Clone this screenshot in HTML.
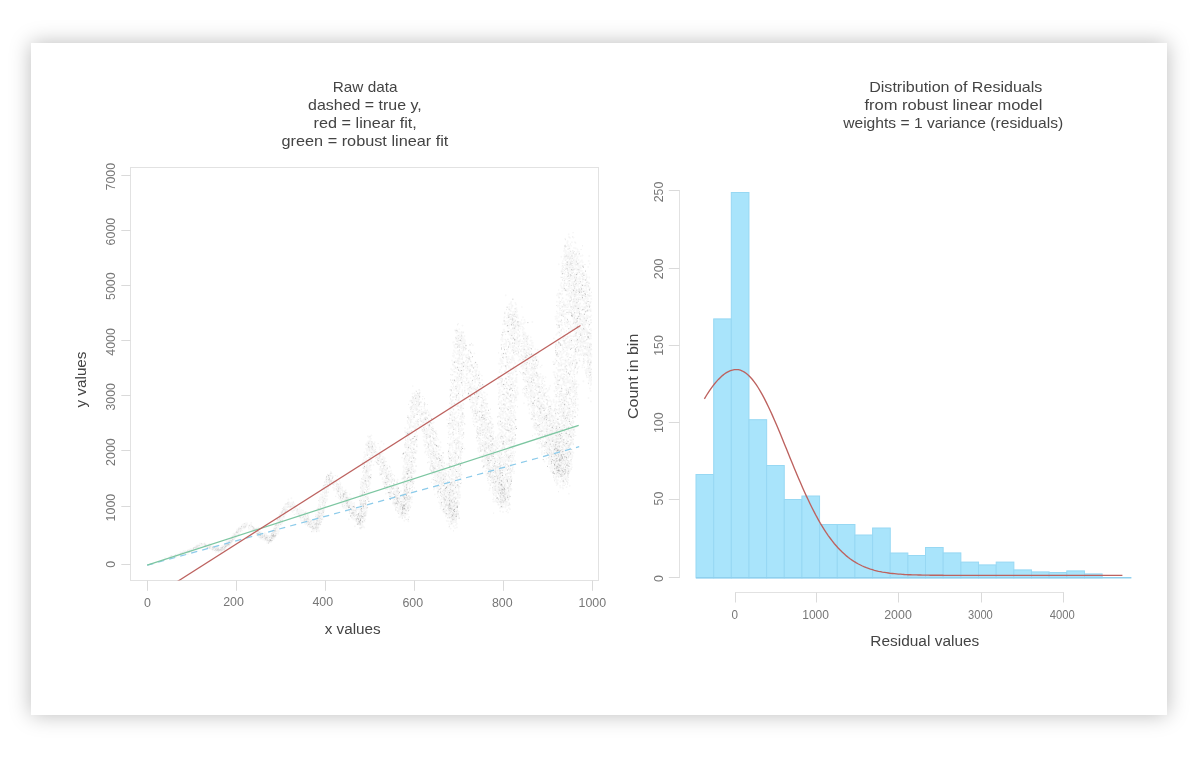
<!DOCTYPE html>
<html lang="en"><head><meta charset="utf-8"><title>Robust linear fit</title>
<style>
html,body{margin:0;padding:0;background:#fff;}
body{width:1200px;height:758px;position:relative;overflow:hidden;font-family:"Liberation Sans",sans-serif;}
.card{position:absolute;left:31px;top:43px;width:1136px;height:672px;background:#fff;box-shadow:0 0 20px rgba(0,0,0,0.27);}
</style></head><body>
<div class="card"></div>
<svg width="1200" height="758" viewBox="0 0 1200 758" style="position:absolute;left:0;top:0" font-family="'Liberation Sans', sans-serif">
<rect x="130.5" y="167.5" width="468.0" height="413" fill="none" stroke="#e2e2e2" stroke-width="1"/>
<line x1="121.3" x2="130.5" y1="175.5" y2="175.5" stroke="#dadada"/>
<text transform="translate(115.4 176.7) rotate(-90)" text-anchor="middle" font-size="12.4" fill="#777">7000</text>
<line x1="121.3" x2="130.5" y1="230.5" y2="230.5" stroke="#dadada"/>
<text transform="translate(115.4 231.6) rotate(-90)" text-anchor="middle" font-size="12.4" fill="#777">6000</text>
<line x1="121.3" x2="130.5" y1="285.5" y2="285.5" stroke="#dadada"/>
<text transform="translate(115.4 286.2) rotate(-90)" text-anchor="middle" font-size="12.4" fill="#777">5000</text>
<line x1="121.3" x2="130.5" y1="340.5" y2="340.5" stroke="#dadada"/>
<text transform="translate(115.4 341.9) rotate(-90)" text-anchor="middle" font-size="12.4" fill="#777">4000</text>
<line x1="121.3" x2="130.5" y1="395.5" y2="395.5" stroke="#dadada"/>
<text transform="translate(115.4 396.8) rotate(-90)" text-anchor="middle" font-size="12.4" fill="#777">3000</text>
<line x1="121.3" x2="130.5" y1="450.5" y2="450.5" stroke="#dadada"/>
<text transform="translate(115.4 452.1) rotate(-90)" text-anchor="middle" font-size="12.4" fill="#777">2000</text>
<line x1="121.3" x2="130.5" y1="506.5" y2="506.5" stroke="#dadada"/>
<text transform="translate(115.4 507.6) rotate(-90)" text-anchor="middle" font-size="12.4" fill="#777">1000</text>
<line x1="121.3" x2="130.5" y1="564.5" y2="564.5" stroke="#dadada"/>
<text transform="translate(115.4 564.2) rotate(-90)" text-anchor="middle" font-size="12.4" fill="#777">0</text>
<line x1="147.5" x2="147.5" y1="580.5" y2="590.8" stroke="#dadada"/>
<text x="147.4" y="607" text-anchor="middle" font-size="12.4" fill="#777">0</text>
<line x1="236.5" x2="236.5" y1="580.5" y2="590.8" stroke="#dadada"/>
<text x="233.5" y="605.6" text-anchor="middle" font-size="12.4" fill="#777">200</text>
<line x1="325.5" x2="325.5" y1="580.5" y2="590.8" stroke="#dadada"/>
<text x="322.8" y="605.6" text-anchor="middle" font-size="12.4" fill="#777">400</text>
<line x1="414.5" x2="414.5" y1="580.5" y2="590.8" stroke="#dadada"/>
<text x="412.8" y="606.8" text-anchor="middle" font-size="12.4" fill="#777">600</text>
<line x1="503.5" x2="503.5" y1="580.5" y2="590.8" stroke="#dadada"/>
<text x="502.3" y="606.8" text-anchor="middle" font-size="12.4" fill="#777">800</text>
<line x1="592.5" x2="592.5" y1="580.5" y2="590.8" stroke="#dadada"/>
<text x="592.3" y="606.8" text-anchor="middle" font-size="12.4" fill="#777">1000</text>
<path d="M401.2 512.4h0M508.5 314.6h0M405.7 487.1h0M565.9 345.9h0M524.9 334.1h0M528.3 386.4h0M419.7 412.1h0M558.3 430.7h0M458.5 457.4h0M566.1 256.0h0M491.3 476.9h0M513.6 411.8h0M578.1 306.6h0M578.5 290.8h0M546.2 434.8h0M408.3 417.3h0M301.8 513.8h0M417.3 395.4h0M501.8 337.6h0M576.0 255.4h0M424.4 436.7h0M367.7 450.1h0M250.7 530.0h0M576.8 290.0h0M526.9 350.2h0M590.5 350.5h0M400.4 506.8h0M498.1 490.0h0M220.1 549.5h0M512.9 312.0h0M553.6 437.8h0M549.2 411.1h0M503.3 413.2h0M454.7 511.9h0M554.7 439.7h0M426.7 434.7h0M365.1 479.9h0M434.0 456.9h0M559.9 321.3h0M574.5 269.3h0M498.1 482.0h0M363.4 483.6h0M562.5 409.8h0M559.7 426.5h0M456.3 385.9h0M189.3 549.8h0M463.0 332.8h0M564.5 461.1h0M411.9 416.1h0M503.0 415.5h0M589.2 289.5h0M585.0 293.4h0M361.3 507.9h0M462.8 408.1h0M408.9 499.3h0M443.7 502.7h0M365.8 508.6h0M553.2 361.7h0M260.1 537.3h0M457.0 379.6h0M264.7 539.2h0M430.1 456.3h0M504.6 423.2h0M323.5 496.7h0M282.8 512.5h0M562.7 422.0h0M456.0 348.2h0M459.4 388.5h0M506.1 502.9h0M463.1 370.5h0M587.4 299.0h0M324.8 495.3h0M568.3 408.8h0M315.2 526.4h0M556.8 447.4h0M569.5 257.7h0M324.5 498.8h0M563.9 452.5h0M568.1 474.5h0M511.4 462.9h0M407.3 497.4h0M452.5 516.2h0M291.3 504.8h0M556.6 457.9h0M537.7 401.5h0M574.4 296.5h0M585.4 321.3h0M363.6 488.6h0M428.5 436.7h0M418.9 405.0h0M502.5 427.6h0M483.1 437.8h0M441.1 474.4h0M485.1 434.9h0M566.1 375.2h0M565.4 289.9h0M475.9 422.0h0M549.3 397.4h0M364.4 479.9h0M576.3 320.5h0M430.9 443.3h0M306.7 520.3h0M510.6 434.9h0M461.3 347.0h0M413.2 462.1h0M575.4 303.0h0M568.2 457.2h0M537.1 383.7h0M486.7 443.4h0M500.1 451.0h0M367.7 496.2h0M580.0 347.6h0M508.1 385.3h0M428.2 447.2h0M563.7 462.1h0M407.6 473.8h0M489.1 460.8h0M438.2 477.6h0M452.3 508.8h0M309.6 519.8h0M361.8 489.3h0M571.1 386.9h0M450.3 443.5h0M372.8 447.1h0M574.9 402.3h0M505.0 465.5h0M539.0 408.7h0M513.4 382.9h0M533.1 382.2h0M368.0 466.4h0M524.2 349.9h0M571.7 267.8h0M261.1 536.3h0M508.1 512.5h0M538.3 416.1h0M576.0 390.5h0M563.4 467.3h0M281.0 517.0h0M546.0 434.5h0M426.4 420.3h0M368.1 492.0h0M454.1 499.2h0M182.0 552.7h0M472.5 402.1h0M451.2 437.0h0M362.4 516.9h0M470.0 370.9h0M456.2 439.0h0M385.1 483.6h0M508.0 321.3h0M551.4 446.8h0M585.1 343.3h0M568.6 392.5h0M551.2 409.9h0M228.9 541.9h0M265.6 537.4h0M579.4 355.0h0M582.3 367.4h0M319.2 518.6h0M580.7 316.7h0M568.9 345.9h0M452.9 396.9h0M405.3 460.5h0M547.2 441.0h0M539.4 443.4h0M531.1 418.8h0M532.9 345.4h0M585.3 294.6h0M277.4 524.8h0M500.6 455.8h0M400.7 515.9h0M497.9 435.3h0M390.4 488.8h0M512.7 373.4h0M360.7 498.3h0M225.0 550.1h0M296.1 513.7h0M511.1 329.7h0M446.5 498.5h0M569.3 344.4h0M504.2 497.5h0M446.4 501.3h0M555.3 452.8h0M385.5 474.9h0M453.8 356.8h0M514.7 349.2h0M564.7 445.0h0M418.1 406.3h0M548.4 449.6h0M245.1 527.4h0M448.0 491.9h0M313.9 527.1h0M354.2 502.9h0M429.9 441.2h0M454.3 519.4h0M581.5 274.8h0M555.3 404.7h0M500.6 501.3h0M565.1 449.1h0M590.3 380.7h0M457.9 345.3h0M304.9 523.8h0M454.2 396.9h0M517.1 311.6h0M403.3 499.1h0M498.4 470.5h0M359.0 508.9h0M581.7 284.8h0M567.2 394.6h0M360.1 503.0h0M503.4 496.9h0M564.9 403.6h0M432.0 454.0h0M576.5 364.3h0M506.6 443.3h0M558.2 446.4h0M455.7 492.7h0M520.9 351.0h0M458.6 487.0h0M407.2 449.7h0M282.5 512.7h0M503.2 482.7h0M553.9 402.3h0M274.9 528.9h0M499.9 507.9h0M349.6 509.9h0M542.2 403.1h0M559.6 475.4h0M564.5 255.0h0M448.4 493.6h0M407.2 441.1h0M452.8 507.1h0M452.3 508.4h0M424.9 452.5h0M564.8 435.3h0M468.1 354.3h0M516.0 396.5h0M372.3 448.2h0M565.1 268.4h0M574.7 410.1h0M556.6 454.0h0M348.0 507.1h0M451.8 507.4h0M417.7 426.0h0M494.6 469.9h0M416.5 438.1h0M506.6 494.9h0M468.9 358.4h0M575.5 331.9h0M461.0 478.8h0M508.6 491.2h0M547.1 450.2h0M453.1 435.3h0M500.3 432.6h0M504.0 346.6h0M405.0 431.3h0M506.0 487.1h0M583.7 307.2h0M568.2 256.9h0M409.6 417.9h0M292.5 508.0h0M558.9 365.7h0M493.3 468.1h0M458.7 338.3h0M291.4 498.3h0M272.0 533.2h0M586.0 290.7h0M514.3 432.6h0M301.8 514.1h0M500.4 490.8h0M486.6 413.7h0M425.8 412.8h0M507.5 315.6h0M573.1 306.6h0M457.4 353.9h0M391.8 477.8h0M583.2 317.7h0M238.5 533.0h0M555.2 362.4h0M362.0 505.7h0M438.7 496.0h0M501.7 454.1h0M540.4 407.0h0M455.2 456.2h0M462.4 346.3h0M489.5 462.2h0M537.6 394.2h0M450.8 498.0h0M548.6 435.9h0M318.2 521.9h0M507.3 502.8h0M513.0 429.0h0M563.7 477.6h0M577.5 263.1h0M560.4 471.9h0M553.8 463.0h0M407.5 500.3h0M318.4 526.5h0M362.6 513.6h0M500.3 437.3h0M373.5 448.0h0M508.8 495.1h0M449.1 457.8h0M583.5 342.3h0M457.2 337.7h0M506.6 455.6h0M311.4 521.4h0M483.3 402.3h0M362.6 525.0h0M457.9 494.8h0M541.5 410.6h0M505.8 492.2h0M363.9 519.5h0M500.5 459.0h0M448.5 498.2h0M581.3 342.4h0M558.3 460.3h0M506.6 488.4h0M338.8 486.2h0M193.5 547.9h0M483.0 387.3h0M536.9 443.2h0M359.4 511.4h0M589.7 364.3h0M563.8 398.4h0M392.9 487.7h0M396.0 500.8h0M506.7 439.6h0M223.8 547.6h0M502.3 441.7h0M538.5 383.1h0M423.8 428.6h0M313.2 522.4h0M460.6 347.0h0M458.7 516.0h0M481.1 429.5h0M208.0 546.1h0M577.2 281.6h0M426.3 429.4h0M332.2 482.8h0M254.6 528.9h0M560.9 459.1h0M511.0 318.3h0M586.2 370.6h0M586.3 317.0h0M454.6 467.7h0M430.2 433.3h0M405.5 485.6h0M268.3 539.1h0M401.8 512.7h0M488.7 457.3h0M443.6 492.4h0M561.1 466.8h0M387.5 489.6h0M530.4 358.0h0M481.5 430.5h0M369.4 437.5h0M579.6 304.4h0M560.2 453.0h0M570.9 279.5h0M418.1 396.5h0M344.2 498.7h0M432.9 448.6h0M218.7 550.5h0M403.8 510.2h0M577.9 299.8h0M504.7 500.6h0M425.2 403.9h0M555.9 387.2h0M358.0 509.4h0M499.8 474.0h0M577.0 320.4h0M373.4 448.9h0M318.7 527.2h0M533.1 375.8h0M498.5 438.4h0M361.8 517.2h0M503.5 500.7h0M490.7 447.5h0M480.0 447.8h0M481.3 431.3h0M452.8 496.4h0M503.9 491.1h0M487.0 437.7h0M322.7 519.4h0M402.5 482.6h0M576.3 333.4h0M450.0 483.4h0M565.5 468.3h0M572.0 266.0h0M300.8 514.4h0M524.7 395.7h0M239.0 530.7h0M551.6 425.6h0M536.8 437.6h0M591.1 369.5h0M564.8 324.3h0M339.4 481.0h0M408.8 447.9h0M461.2 344.1h0M432.0 445.4h0M416.1 396.6h0M506.4 398.2h0M383.4 483.7h0M456.7 510.6h0M535.0 375.2h0M498.9 484.0h0M561.0 430.4h0M485.5 436.4h0M403.6 477.6h0M170.0 558.3h0M476.0 397.4h0M570.8 389.6h0M480.3 440.5h0M415.5 395.0h0M568.2 306.3h0M502.8 478.0h0M193.0 549.3h0M569.5 331.4h0M513.6 329.5h0M574.1 294.6h0M461.8 364.0h0M576.8 330.7h0M367.9 499.0h0M461.2 444.3h0M556.5 341.6h0M460.8 353.0h0M565.1 477.0h0M504.7 343.6h0M528.7 371.4h0M491.8 418.6h0M576.1 280.4h0M578.4 349.3h0M381.6 465.7h0M511.8 447.5h0M586.0 306.8h0M460.8 336.7h0M369.7 458.2h0M388.1 473.4h0M505.4 399.5h0M590.6 372.9h0M534.2 375.0h0M566.8 415.8h0M503.6 329.8h0M456.0 485.4h0M569.3 463.9h0M208.9 546.4h0M462.2 383.9h0M563.2 384.4h0M284.4 516.0h0M556.0 446.5h0M504.4 395.9h0M508.6 440.9h0M396.7 494.9h0M559.8 455.0h0M588.9 304.9h0M453.7 405.8h0M503.0 462.1h0M463.0 374.3h0M486.1 470.6h0M416.7 450.9h0M513.1 321.8h0M364.3 510.3h0M572.9 420.6h0M510.7 464.7h0M451.9 375.0h0M472.5 398.7h0M564.7 482.5h0M591.1 372.7h0M582.5 281.4h0M317.7 519.0h0M304.0 514.7h0M403.6 496.5h0M484.7 429.1h0M319.8 522.6h0M587.9 347.4h0M226.6 540.9h0M523.0 317.3h0M452.2 481.8h0M379.0 458.3h0M506.8 495.2h0M536.1 400.1h0M460.3 459.5h0M502.5 486.7h0M496.9 484.2h0M550.1 433.2h0M366.1 514.1h0M504.3 412.1h0M552.0 425.7h0M286.0 509.6h0M472.5 418.4h0M557.0 444.5h0M454.4 484.9h0M558.8 477.3h0M279.5 522.8h0M484.2 426.6h0M539.4 439.0h0M450.9 502.3h0M515.7 329.4h0M529.1 363.9h0M379.7 454.2h0M411.9 502.4h0M498.6 425.5h0M564.7 317.8h0M337.4 491.5h0M305.7 524.2h0M403.8 509.1h0M463.0 417.0h0M563.9 310.9h0M438.9 445.8h0M435.8 475.9h0M440.5 503.9h0M327.1 478.6h0M491.1 475.7h0M582.0 306.5h0M371.0 441.8h0M499.9 442.4h0M450.8 486.2h0M282.1 519.1h0M574.3 429.0h0M577.7 309.3h0M473.0 345.2h0M542.5 427.9h0M487.0 441.9h0M584.0 325.0h0M497.1 477.6h0M444.6 490.9h0M431.5 429.5h0M323.3 486.3h0M501.0 506.7h0M570.0 297.9h0M502.4 442.8h0M333.9 490.0h0M409.1 434.7h0M217.3 549.9h0M347.1 498.1h0M411.5 457.0h0M401.3 509.6h0M528.4 374.1h0M387.2 489.3h0M570.2 267.7h0M489.1 471.3h0M404.5 507.8h0M483.9 418.3h0M565.0 351.3h0M562.4 467.1h0M464.4 354.4h0M409.2 493.3h0M565.8 369.0h0M264.1 534.9h0M523.3 373.3h0M456.4 502.4h0M460.0 367.6h0M502.4 385.5h0M263.3 537.0h0M408.5 506.3h0M412.0 431.2h0M431.4 462.4h0M301.2 520.4h0M581.5 333.8h0M321.5 517.4h0M528.3 335.8h0M538.1 364.1h0M381.4 460.2h0M574.7 287.4h0M539.1 421.2h0M585.7 303.6h0M506.8 388.4h0M567.2 262.5h0M506.8 381.8h0M230.3 539.8h0M298.1 511.7h0M510.6 428.2h0M171.6 557.5h0M428.5 428.0h0M440.1 455.8h0M569.4 471.0h0M583.7 325.9h0M564.5 427.1h0M534.4 371.2h0M301.7 515.5h0M586.3 292.0h0M555.5 436.4h0M232.8 537.8h0M502.9 411.8h0M449.6 504.8h0M276.2 529.6h0M520.4 328.6h0M578.1 291.6h0M558.1 475.6h0M553.8 459.5h0M502.7 443.7h0M528.6 360.3h0M568.2 456.1h0M497.8 482.4h0M380.6 452.6h0M444.7 491.2h0M568.7 234.3h0M456.8 498.2h0M169.5 557.0h0M271.4 540.3h0M366.8 473.3h0M565.0 310.0h0M452.3 433.7h0M504.5 487.1h0M278.7 523.0h0M407.6 452.8h0M565.7 400.9h0M573.7 388.7h0M529.4 361.6h0M538.0 427.3h0M552.9 444.1h0M554.5 383.5h0M555.1 422.9h0M570.0 288.2h0M583.8 338.5h0M547.3 415.7h0M280.4 518.4h0M494.5 488.4h0M448.4 476.4h0M588.8 336.1h0M442.8 476.9h0M531.9 342.9h0M483.2 385.8h0M324.2 485.7h0M573.3 266.2h0M404.0 509.2h0M503.8 494.6h0M363.0 505.7h0M576.8 310.7h0M368.3 449.4h0M573.2 444.2h0M459.0 502.7h0M274.8 534.4h0M312.9 523.1h0M586.7 315.3h0M422.0 424.4h0M246.0 523.2h0M446.3 502.3h0M425.0 419.6h0M440.5 508.4h0M364.8 508.4h0M505.1 313.6h0M459.0 464.7h0M566.2 455.0h0M510.1 445.9h0M531.6 368.3h0M432.5 444.9h0M367.2 491.7h0M477.4 366.4h0M399.4 499.1h0M246.1 526.5h0M423.9 430.8h0M500.8 481.4h0M586.1 322.1h0M552.9 465.9h0M528.8 372.6h0M572.6 432.2h0M550.6 428.9h0M364.1 475.0h0M570.1 304.9h0M354.6 507.1h0M435.9 482.7h0M409.5 482.2h0M363.0 504.7h0M531.6 340.6h0M562.6 473.7h0M457.1 484.7h0M499.5 491.5h0M572.1 457.9h0M366.5 511.5h0M412.0 401.9h0M447.5 514.0h0M433.2 447.3h0M479.4 415.3h0M550.1 460.7h0M461.1 406.7h0M501.1 499.6h0M458.2 471.7h0M559.1 464.9h0M577.3 273.9h0M269.9 541.0h0M589.0 325.6h0M552.2 470.7h0M534.7 417.1h0M270.7 538.7h0M509.0 438.5h0M564.0 413.4h0M444.8 510.9h0M404.4 513.1h0M485.3 460.2h0M561.8 457.8h0M405.2 510.7h0M559.3 454.2h0M564.7 381.9h0M568.4 421.1h0M554.4 374.4h0M574.3 282.1h0M321.5 513.4h0M258.9 537.1h0M488.6 424.0h0M398.9 502.2h0M436.5 462.0h0M551.4 429.1h0M482.1 379.9h0M483.1 446.0h0M450.4 413.1h0M405.7 469.0h0M193.1 549.8h0M448.8 486.6h0M560.4 455.5h0M359.7 495.8h0M567.1 438.6h0M582.4 334.5h0M509.7 422.3h0M206.6 545.1h0M405.0 508.4h0M559.5 353.7h0M324.1 506.0h0M452.9 510.2h0M463.1 393.8h0M556.6 479.6h0M451.0 520.2h0M439.1 478.7h0M193.2 549.4h0M460.4 452.3h0M555.5 426.1h0M228.6 546.0h0M533.6 409.6h0M363.5 460.3h0M409.8 489.3h0M225.3 547.5h0M568.3 480.1h0M576.6 274.3h0M228.4 543.7h0M521.2 349.6h0M547.3 431.4h0M522.6 373.4h0M559.5 456.2h0M543.9 445.7h0M485.8 433.5h0M476.7 394.5h0M409.0 464.5h0M573.0 423.2h0M453.2 510.0h0M590.5 365.4h0M189.8 550.4h0M420.7 420.9h0M457.8 394.8h0M402.2 513.1h0M581.8 285.2h0M545.1 409.1h0M415.3 426.8h0M585.0 342.0h0M500.0 389.6h0M438.0 485.1h0M580.2 307.4h0M575.4 363.2h0M497.6 493.0h0M218.9 548.6h0M502.4 335.3h0M549.9 455.1h0M429.4 462.1h0M405.1 446.4h0M461.2 371.8h0M326.6 500.8h0M483.3 416.4h0M318.6 530.1h0M514.8 325.2h0M409.6 418.3h0M435.6 461.0h0M320.6 504.7h0M387.1 465.5h0M361.5 490.4h0M412.2 455.3h0M452.2 516.6h0M440.6 462.4h0M278.4 518.8h0M205.9 545.4h0M562.5 458.0h0M574.0 383.7h0M492.5 463.5h0M281.0 524.7h0M575.3 334.7h0M278.9 531.3h0M454.6 417.9h0M566.6 448.1h0M308.8 522.0h0M505.3 401.3h0M439.4 472.9h0M518.0 334.8h0M578.4 286.5h0M411.6 409.2h0M412.5 412.1h0M321.6 502.1h0M325.1 502.7h0M368.9 482.4h0M509.5 496.9h0M458.7 441.0h0M498.6 453.0h0M573.4 318.3h0M396.2 509.9h0M504.1 458.0h0M567.6 435.8h0M585.4 330.9h0M564.7 412.7h0M414.5 393.2h0M448.5 505.7h0M428.2 443.3h0M565.5 419.8h0M546.3 419.2h0M408.1 456.1h0M454.3 419.8h0M583.2 327.8h0M394.3 498.6h0M318.8 506.4h0M174.8 555.6h0M351.0 502.3h0M432.1 457.0h0M412.5 452.2h0M410.7 426.3h0M453.6 475.4h0M546.7 432.0h0M458.7 486.2h0M563.3 481.4h0M435.2 476.6h0M406.8 460.9h0M416.2 439.2h0M396.8 485.2h0M578.2 318.2h0M410.9 411.5h0M434.6 431.6h0M552.8 432.0h0M577.3 258.3h0M456.4 449.0h0M496.6 485.8h0M510.7 469.4h0M586.9 342.9h0M588.6 382.9h0M398.0 511.9h0M470.5 391.9h0M363.9 506.6h0M305.9 521.9h0M282.6 513.2h0M502.5 404.7h0M579.6 267.3h0M503.0 473.4h0M456.6 378.7h0M559.8 302.6h0M455.4 463.8h0M452.5 404.3h0M518.3 323.8h0M284.8 511.5h0M434.6 457.6h0M457.3 369.2h0M568.4 263.5h0M286.7 512.1h0M362.0 515.1h0M521.4 366.3h0M211.7 549.2h0M542.2 396.9h0M432.1 429.7h0M554.8 417.1h0M533.3 360.4h0M317.9 525.7h0M576.6 268.6h0M570.9 295.9h0M283.9 509.3h0M435.3 460.2h0M359.2 518.0h0M367.5 477.9h0M554.9 418.6h0M535.5 360.2h0M459.3 450.2h0M495.5 484.8h0M531.4 354.5h0M406.9 511.6h0M557.7 418.4h0M511.8 452.4h0M453.7 382.1h0M587.4 298.3h0M222.5 548.3h0M216.0 549.9h0M352.6 513.5h0M338.2 490.0h0M414.9 428.9h0M564.0 285.9h0M317.0 525.9h0M498.7 501.1h0M574.7 285.7h0M562.9 460.8h0M555.8 448.1h0M275.6 530.2h0M563.3 482.5h0M507.9 339.6h0M394.6 504.4h0M546.2 418.6h0M526.6 346.3h0M573.9 371.9h0M550.8 432.6h0M494.9 466.6h0M504.5 331.5h0M566.2 436.4h0M493.0 437.4h0M377.3 454.1h0M586.7 330.8h0M405.3 496.7h0M559.5 466.2h0M412.8 400.6h0M282.1 520.2h0M569.1 461.8h0M327.9 487.3h0M213.0 548.6h0M543.9 394.0h0M509.2 418.3h0M557.8 356.4h0M367.7 448.2h0M491.1 449.7h0M396.8 481.6h0M551.5 458.7h0M544.6 434.8h0M272.1 540.4h0M306.3 518.8h0M584.0 353.0h0M455.0 509.5h0M220.7 552.0h0M404.3 491.0h0M568.4 359.7h0M562.5 396.6h0M208.1 545.8h0M469.6 350.2h0M292.7 505.8h0M564.0 401.4h0M552.4 421.1h0M544.8 422.9h0M557.9 465.4h0M496.0 470.4h0M488.0 425.9h0M440.3 502.8h0M506.6 487.9h0M425.5 410.2h0M291.4 502.6h0M492.7 451.2h0M430.2 435.3h0M317.6 508.8h0M547.9 435.5h0M435.5 473.0h0M386.3 471.7h0M505.6 357.3h0M569.9 439.7h0M553.2 453.0h0M484.8 403.1h0M306.6 522.3h0M435.3 456.9h0M482.0 421.4h0M588.2 349.5h0M557.3 437.2h0M397.1 488.0h0M303.8 519.2h0M548.4 457.6h0M358.2 518.2h0M339.4 489.7h0M506.2 344.4h0M222.3 548.5h0M373.5 449.9h0M461.5 422.7h0M503.5 417.8h0M588.9 360.0h0M385.2 487.4h0M451.7 518.9h0M409.6 466.6h0M440.8 470.2h0M280.0 520.4h0M187.3 552.4h0M495.3 459.9h0M283.9 516.3h0M500.7 490.2h0M549.7 461.3h0M431.8 464.0h0M417.5 419.6h0M571.7 344.3h0M301.8 520.7h0M411.5 478.4h0M532.3 373.9h0M525.1 386.6h0M445.8 516.2h0M455.9 412.5h0M364.3 527.6h0M459.1 376.4h0M393.6 479.0h0M315.1 525.0h0M244.1 528.4h0M574.6 379.8h0M590.3 323.4h0M462.3 391.8h0M234.6 534.1h0M555.0 448.0h0M343.3 497.9h0M579.3 339.5h0M551.7 466.4h0M450.9 425.8h0M224.9 546.2h0M557.1 320.9h0M557.0 443.5h0M546.3 451.6h0M560.6 416.2h0M558.4 339.5h0M571.7 272.5h0M563.0 337.2h0M562.9 457.3h0M540.1 398.1h0M258.1 535.8h0M574.8 404.0h0M372.4 452.8h0M546.1 444.9h0M263.7 538.6h0M549.3 415.1h0M539.2 425.4h0M563.4 352.9h0M426.6 437.3h0M459.1 437.9h0M430.5 456.3h0M325.3 499.9h0M492.4 473.6h0M547.4 391.4h0M231.7 540.4h0M470.1 388.8h0M557.5 452.8h0M553.6 432.0h0M574.2 409.8h0M194.8 548.5h0M361.6 527.5h0M274.8 526.4h0M559.6 471.3h0M575.5 326.1h0M524.3 349.9h0M507.0 498.6h0M260.9 538.1h0M542.0 425.9h0M503.3 494.4h0M559.7 332.2h0M370.2 465.3h0M590.6 309.8h0M319.3 522.0h0M452.6 447.6h0M459.7 361.4h0M495.4 458.0h0M577.9 310.4h0M385.1 461.7h0M406.0 464.3h0M554.9 468.1h0M550.0 424.3h0M426.5 417.9h0M514.0 386.2h0M282.7 520.2h0M313.6 524.9h0M487.8 444.2h0M528.1 405.6h0M361.0 523.1h0M386.5 471.6h0M488.7 462.9h0M525.2 339.8h0M572.9 289.9h0M558.5 294.0h0M414.5 404.9h0M554.3 374.4h0M463.8 418.2h0M365.2 509.0h0M538.4 415.4h0M447.2 499.4h0M499.1 428.8h0M462.0 382.3h0M514.0 444.3h0M565.1 479.0h0M488.5 413.7h0M503.3 445.6h0M535.3 425.2h0M346.5 494.6h0M197.4 545.2h0M591.3 374.6h0M590.8 336.4h0M498.0 423.0h0M568.5 471.8h0M540.3 424.6h0M408.8 492.1h0M453.8 486.1h0M254.9 528.7h0M477.4 410.3h0M405.1 483.5h0M536.2 403.3h0M409.7 488.6h0M551.4 414.6h0M367.4 497.2h0M305.9 519.2h0M455.0 528.1h0M370.3 483.1h0M452.7 414.0h0M563.7 301.5h0M462.6 362.8h0M513.6 408.1h0M542.4 434.6h0M503.9 469.1h0M502.6 361.5h0M529.9 362.1h0M572.8 397.7h0M461.1 407.4h0M265.5 537.2h0M413.8 443.4h0M252.8 529.0h0M266.8 540.9h0M497.5 469.6h0M532.8 354.5h0M558.7 293.7h0M577.3 279.1h0M259.3 531.8h0M435.8 453.5h0M364.1 491.8h0M391.6 473.5h0M509.8 319.4h0M301.2 518.6h0M565.7 420.8h0M572.4 435.0h0M494.6 458.8h0M427.7 430.9h0M445.2 493.4h0M545.9 446.6h0M538.4 383.4h0M560.6 285.3h0M469.0 394.0h0M361.4 514.3h0M562.0 471.6h0M435.8 472.7h0M409.1 455.8h0M268.3 539.9h0M392.9 485.9h0M570.9 279.0h0M352.2 509.2h0M447.2 510.7h0M481.4 419.8h0M225.7 543.7h0M457.6 437.9h0M500.6 490.2h0M427.5 423.4h0M439.9 478.8h0M558.5 433.2h0M457.3 459.6h0M543.2 430.3h0M538.7 397.5h0M249.0 525.6h0M563.2 463.2h0M567.2 338.4h0M505.6 427.8h0M407.2 432.1h0M364.5 465.5h0M491.0 476.3h0M263.5 536.6h0M515.9 331.4h0M360.2 522.2h0M573.2 294.5h0M425.4 445.3h0M562.7 462.7h0M517.0 340.9h0M455.7 428.2h0M458.7 473.9h0M365.2 456.2h0M360.0 521.1h0M541.2 412.3h0M472.3 400.0h0M277.1 529.6h0M249.6 526.3h0M458.2 402.1h0M455.2 376.6h0M510.7 418.5h0M559.2 456.8h0M541.7 390.8h0M322.2 515.4h0M585.2 298.9h0M587.8 338.4h0M404.5 468.1h0M564.6 282.9h0M516.8 344.2h0M336.8 486.2h0M485.6 399.9h0M440.4 478.8h0M521.8 345.9h0M484.6 465.8h0M407.1 456.8h0M564.0 351.6h0M261.4 538.5h0M435.3 466.4h0M321.3 497.3h0M371.1 478.2h0M403.5 467.5h0M215.4 549.1h0M476.3 418.4h0M398.9 509.1h0M509.1 373.4h0M413.8 471.0h0M459.4 429.5h0M588.6 369.0h0M512.3 432.8h0M313.3 530.6h0M552.7 469.7h0M562.8 261.1h0M452.7 355.7h0M268.5 542.8h0M551.3 459.8h0M411.8 457.6h0M484.5 449.8h0M516.7 310.0h0M475.9 395.3h0M510.6 460.9h0M549.1 429.3h0M569.3 416.1h0M447.3 497.1h0M510.9 480.8h0M438.2 471.2h0M572.4 455.9h0M273.1 535.9h0M586.3 346.8h0M558.1 455.4h0M568.6 265.4h0M460.6 453.8h0M498.7 469.0h0M366.1 482.1h0M533.0 416.1h0M486.6 441.5h0M448.9 513.4h0M483.6 403.2h0M457.5 335.7h0M415.5 471.0h0M510.7 453.4h0M497.7 467.9h0M290.9 505.2h0M329.4 477.3h0M457.4 505.4h0M459.0 391.7h0M270.8 538.9h0M417.7 394.0h0M557.9 441.6h0M523.3 351.7h0M365.5 477.6h0M588.0 298.9h0M265.7 539.2h0M570.2 416.8h0M454.5 366.8h0M557.8 355.6h0M399.0 504.3h0M383.6 458.2h0M508.9 358.8h0M482.6 421.8h0M542.8 421.2h0M562.4 266.1h0M426.0 412.4h0M506.1 414.0h0M555.2 432.6h0M504.2 447.6h0M457.9 345.2h0M494.3 468.7h0M574.2 315.2h0M493.3 438.4h0M563.1 454.3h0M554.1 466.8h0M571.4 452.2h0M414.4 401.2h0M576.9 301.3h0M385.5 466.8h0M471.1 361.7h0M509.7 480.5h0M264.4 538.2h0M486.7 475.0h0M452.3 445.4h0M348.8 510.1h0M503.8 501.6h0M453.7 500.7h0M498.0 460.9h0M423.5 414.6h0M419.8 392.6h0M514.5 369.4h0M469.0 369.0h0M571.3 293.5h0M337.0 488.6h0M332.7 475.9h0M508.7 308.6h0M566.6 406.5h0M456.9 478.8h0M501.0 486.7h0M475.2 366.4h0M524.2 349.5h0M569.2 280.9h0M557.9 333.1h0M489.0 471.3h0M555.6 454.5h0M451.4 393.6h0M218.0 549.3h0M415.2 405.8h0M251.0 524.4h0M537.6 419.9h0M564.6 405.3h0M230.0 540.6h0M334.7 483.1h0M457.3 339.1h0M561.2 473.3h0M540.2 387.4h0M363.5 487.3h0M348.0 503.4h0M413.1 483.4h0M232.3 537.4h0M508.9 492.6h0M414.3 442.1h0M584.1 319.7h0M328.9 478.4h0M453.6 423.0h0M467.5 357.7h0M367.2 452.6h0M451.7 513.4h0M190.3 551.4h0M579.8 307.9h0M497.1 484.0h0M229.4 542.9h0M530.4 340.7h0M484.1 441.2h0M423.7 431.2h0M435.1 437.8h0M564.1 376.9h0M447.6 497.9h0M497.0 476.8h0M561.6 450.4h0M497.5 497.9h0M507.8 419.7h0M591.2 330.4h0M299.6 517.4h0M510.4 381.8h0M525.2 368.9h0M554.0 445.3h0M279.6 518.1h0M363.1 505.1h0M545.9 422.3h0M445.7 470.6h0M505.5 418.1h0M424.2 445.0h0M455.2 413.0h0M581.8 296.8h0M533.4 391.9h0M558.2 455.5h0M504.3 479.1h0M254.9 530.0h0M309.4 522.8h0M219.7 550.0h0M576.4 260.3h0M322.3 499.6h0M564.4 341.5h0M365.6 505.9h0M399.0 499.4h0M574.5 293.7h0M474.8 393.9h0M351.5 501.9h0M254.0 531.7h0M381.1 453.2h0M563.2 380.6h0M450.7 510.4h0M394.9 503.1h0M507.5 478.1h0M396.0 502.6h0M589.9 317.2h0M506.6 495.9h0M281.2 511.7h0M411.3 441.2h0M415.3 409.9h0M499.7 482.7h0M578.4 266.8h0M469.9 366.2h0M515.7 419.7h0M566.9 460.4h0M590.5 311.0h0M534.9 383.2h0M566.6 464.9h0M563.3 479.8h0M559.2 425.0h0M403.9 507.5h0M306.7 522.2h0M459.4 389.3h0M492.8 462.3h0M316.7 525.0h0M460.1 478.7h0M549.6 467.4h0M508.3 447.9h0M368.7 500.3h0M407.5 429.2h0M411.1 400.5h0M560.5 460.9h0M436.5 474.9h0M324.7 494.1h0M556.3 467.1h0M564.6 416.2h0M568.6 295.8h0M201.1 545.2h0M587.9 332.1h0M506.7 341.8h0M575.1 392.8h0M290.2 504.2h0M433.0 467.0h0M495.1 453.9h0M414.7 471.9h0M431.9 441.0h0M564.9 412.5h0M505.0 385.0h0M566.1 299.4h0M319.0 523.1h0M412.8 482.0h0M562.8 273.3h0M557.8 413.3h0M212.4 546.9h0M524.9 359.6h0M549.3 450.4h0M584.9 360.3h0M575.4 319.6h0M453.6 409.2h0M576.6 338.9h0M456.0 424.3h0M494.8 488.4h0M271.9 535.3h0M263.1 534.3h0M576.3 307.0h0M191.4 552.1h0M552.1 454.5h0M273.0 531.1h0M420.8 416.2h0M544.1 429.1h0M499.7 476.9h0M364.4 452.4h0M418.1 403.2h0M529.0 353.0h0M288.2 505.5h0M508.8 483.8h0M502.0 502.1h0M445.9 506.6h0M393.0 493.0h0M360.5 517.1h0M278.0 533.7h0M449.9 500.3h0M204.4 545.8h0M500.3 484.3h0M500.5 360.4h0M452.4 408.4h0M565.4 474.3h0M262.1 537.0h0M328.2 489.0h0M338.5 497.7h0M299.0 512.2h0M571.7 262.8h0M457.2 440.5h0M559.5 442.5h0M590.3 378.9h0M487.4 444.5h0M531.9 392.5h0M513.4 459.1h0M403.9 513.9h0M519.0 356.5h0M319.8 514.7h0M474.9 376.7h0M485.2 418.6h0M557.3 458.8h0M489.3 472.7h0M539.8 421.9h0M459.8 419.0h0M498.8 403.9h0M504.7 436.4h0M416.4 399.5h0M490.4 468.9h0M591.2 384.3h0M426.1 442.2h0M408.2 422.7h0M497.4 468.1h0M244.6 524.3h0M556.4 438.8h0M365.1 514.0h0M384.9 458.3h0M384.5 472.8h0M552.1 428.1h0M514.6 322.6h0M444.5 503.9h0M563.6 335.8h0M484.2 462.6h0M579.6 323.2h0M574.8 308.8h0M258.5 532.2h0M486.1 427.9h0M416.3 423.3h0M537.5 417.0h0M498.6 489.6h0M556.2 474.9h0M533.5 376.9h0M556.7 485.1h0M483.8 403.6h0M501.6 401.0h0M402.5 501.9h0M577.1 352.5h0M308.5 520.8h0M444.5 499.3h0M405.8 498.2h0M317.3 511.8h0M552.2 439.6h0M586.3 330.2h0M397.2 486.6h0M563.2 474.3h0M359.1 524.5h0M444.3 480.1h0M538.3 361.4h0M531.2 392.5h0M543.3 420.8h0M573.8 383.7h0M387.1 483.7h0M458.7 354.1h0M275.5 531.4h0M369.2 445.3h0M575.1 401.3h0M503.1 398.0h0M488.4 454.3h0M506.1 371.7h0M493.3 482.1h0M390.2 467.5h0M463.2 366.5h0M498.8 500.9h0M219.5 550.9h0M547.9 418.3h0M224.1 545.1h0M488.7 479.6h0M499.6 490.2h0M523.7 347.7h0M559.8 436.3h0M442.0 477.1h0M482.8 459.8h0M329.3 478.0h0M542.3 421.3h0M565.2 473.7h0M578.8 334.0h0M430.0 414.3h0M285.6 506.7h0M271.0 537.3h0M455.3 499.1h0M586.5 353.2h0M360.5 519.0h0M513.9 422.5h0M562.3 462.4h0M503.6 440.9h0M375.0 451.1h0M304.2 516.9h0M402.2 518.1h0M429.7 421.1h0M585.2 311.1h0M502.5 341.1h0M390.6 475.7h0M371.4 459.6h0M578.7 305.1h0M498.5 491.6h0M569.6 284.9h0M360.3 520.0h0M534.2 417.1h0M401.8 503.4h0M513.3 467.1h0M558.4 384.8h0M582.6 365.3h0M301.7 516.9h0M528.8 347.3h0M268.0 540.5h0M547.8 442.5h0M411.8 466.6h0M246.6 525.5h0M427.8 453.0h0M396.7 492.7h0M308.7 524.3h0M556.2 451.7h0M513.4 445.7h0M505.0 484.6h0M464.6 387.6h0M506.7 464.0h0M342.3 499.1h0M503.1 494.5h0M231.4 540.9h0M523.8 342.2h0M223.1 547.9h0M475.9 374.8h0M283.4 513.6h0M452.2 489.5h0M479.6 412.0h0M296.7 510.3h0M403.3 472.2h0M485.0 454.7h0M567.0 263.8h0M573.0 418.3h0M204.7 543.3h0M476.9 412.2h0M316.7 531.4h0M348.0 505.9h0M365.8 469.9h0M482.0 455.4h0M281.2 516.3h0M438.0 477.3h0M360.7 521.1h0M580.9 294.9h0M444.2 488.7h0M441.3 485.0h0M268.6 541.1h0M460.0 387.3h0M359.0 515.8h0M498.9 459.4h0M458.6 491.2h0M556.4 381.4h0M535.8 383.7h0M451.4 514.4h0M565.4 400.4h0M556.8 437.6h0M325.7 498.9h0M568.7 261.2h0M226.7 545.7h0M551.3 401.8h0M572.2 339.1h0M360.9 505.0h0M313.6 527.1h0M503.3 483.0h0M333.0 480.8h0M474.2 379.5h0M516.1 350.7h0M567.6 441.2h0M588.1 296.4h0M511.2 401.7h0M323.5 507.2h0M438.6 463.4h0M468.7 395.9h0M556.7 467.2h0M544.5 461.5h0M432.8 457.8h0M524.0 403.3h0M524.8 335.3h0M238.8 533.9h0M397.0 510.6h0M549.7 457.7h0M510.7 347.6h0M588.7 369.5h0M475.3 376.0h0M452.3 485.2h0M200.2 543.6h0M407.3 519.6h0M515.2 343.7h0M566.6 487.1h0M561.8 457.5h0M390.5 474.4h0M575.6 392.4h0M455.7 358.1h0M455.1 493.1h0M504.1 428.6h0M571.2 416.3h0M419.3 395.4h0M512.5 388.4h0M565.5 450.3h0M562.9 452.3h0M462.5 350.7h0M455.8 463.5h0M586.5 290.3h0M574.9 306.8h0M413.0 442.9h0M579.1 338.0h0M321.3 517.6h0M563.6 475.0h0M567.6 413.0h0M557.1 463.9h0M323.0 487.6h0M413.6 404.0h0M259.5 534.7h0M455.3 510.2h0M567.0 378.3h0M437.8 473.1h0M408.9 504.5h0M527.2 393.1h0M493.4 444.8h0M459.4 335.3h0M479.5 396.0h0M336.5 481.6h0M330.8 471.6h0M461.0 478.9h0M497.4 488.8h0M413.3 426.6h0M467.3 362.3h0M448.8 510.1h0M306.3 512.2h0M513.4 338.3h0M363.3 477.0h0M402.1 510.5h0M545.8 392.6h0M502.3 479.0h0M499.8 488.7h0M427.8 429.6h0M500.4 402.6h0M561.4 419.3h0M199.8 543.7h0M466.5 374.1h0M352.7 503.6h0M575.4 383.1h0M185.4 550.9h0M536.9 414.0h0M398.4 500.4h0M354.9 526.2h0M526.7 390.0h0M506.5 457.6h0M224.3 550.0h0M483.6 429.1h0M570.6 390.7h0M453.6 526.2h0M454.6 418.2h0M223.3 550.1h0M455.1 461.0h0M242.5 524.8h0M502.5 466.2h0M460.3 339.8h0M231.6 542.6h0M377.4 459.5h0M360.8 499.4h0M509.3 467.3h0M209.3 547.1h0M574.9 260.1h0M458.0 471.8h0M528.4 356.6h0M559.2 462.3h0M580.1 320.6h0M474.5 389.6h0M298.8 516.2h0M509.9 375.3h0M199.4 545.8h0M529.0 387.9h0M574.8 432.0h0M362.8 491.3h0M364.3 475.6h0M507.2 495.7h0M518.2 318.0h0M275.4 525.9h0M386.8 478.0h0M447.3 510.1h0M440.9 494.9h0M276.5 530.5h0M566.0 267.9h0M585.4 331.8h0M446.2 491.3h0M413.9 436.9h0M548.5 410.4h0M509.5 481.5h0M554.4 426.7h0M517.1 338.7h0M454.0 417.0h0M449.2 510.6h0M572.0 336.3h0M449.3 490.7h0M489.5 436.0h0M426.8 431.9h0M341.0 500.7h0M318.6 527.4h0M551.4 463.2h0M206.5 546.1h0M460.2 401.7h0M514.4 369.9h0M502.9 482.7h0M580.4 274.2h0M525.0 322.2h0M559.8 450.5h0M364.1 500.7h0M563.2 407.5h0M584.5 325.3h0M450.4 521.5h0M411.5 425.5h0M272.2 536.5h0M378.4 453.8h0M462.1 367.7h0M564.1 340.4h0M552.8 426.2h0M480.5 450.5h0M456.5 440.3h0M508.5 488.2h0M214.3 548.4h0M363.4 506.5h0M559.4 445.7h0M494.7 479.2h0M435.5 478.4h0M539.9 412.1h0M453.4 509.9h0M510.1 377.9h0M559.4 429.6h0M515.2 381.6h0M366.5 512.9h0M500.6 482.5h0M223.9 548.6h0M326.5 484.3h0M475.8 406.1h0M305.7 513.2h0M499.2 383.4h0M556.0 394.9h0M323.3 500.5h0M291.2 507.5h0M567.6 424.7h0M580.4 294.5h0M500.8 477.5h0M556.0 426.3h0M481.1 407.9h0M395.0 504.9h0M189.2 551.7h0M339.9 499.1h0M301.6 516.4h0M395.2 491.6h0M571.3 257.2h0M464.6 336.0h0M568.1 337.2h0M443.2 457.2h0M489.5 476.3h0M464.8 340.0h0M551.4 429.2h0M449.2 526.8h0M353.0 515.6h0M411.3 420.1h0M568.3 469.7h0M503.7 466.8h0M508.7 320.7h0M509.6 341.7h0M363.3 501.5h0M556.4 401.5h0M435.0 438.3h0M441.4 506.2h0M361.9 491.3h0M504.1 329.7h0M581.5 335.4h0M513.6 349.3h0M202.8 544.6h0M363.2 512.3h0M480.7 439.2h0M368.1 469.4h0M454.8 512.4h0M488.5 446.8h0M409.5 466.8h0M557.5 445.6h0M492.4 473.6h0M499.8 459.9h0M505.1 486.8h0M571.6 415.8h0M459.5 332.5h0M365.3 519.2h0M257.4 535.1h0M377.8 454.0h0M432.7 430.5h0M457.5 494.7h0M503.0 432.9h0M374.7 442.3h0M452.8 508.3h0M331.0 475.9h0M268.0 536.8h0M535.7 399.7h0M567.3 380.0h0M459.9 351.5h0M241.6 527.6h0M560.8 360.5h0M417.2 396.6h0M352.2 517.5h0M458.7 445.7h0M577.9 313.0h0M268.7 542.1h0M449.8 396.5h0M451.8 479.8h0M194.4 548.7h0M496.8 440.8h0M368.9 470.5h0M539.6 384.4h0M555.3 396.6h0M435.3 453.0h0M511.8 333.9h0M559.2 325.2h0M371.3 458.1h0M473.4 376.4h0M452.0 422.8h0M516.5 375.0h0M573.0 330.3h0M388.8 471.3h0M453.6 438.3h0M444.3 507.0h0M502.3 475.7h0M272.9 536.7h0M317.5 525.8h0M549.1 453.8h0M312.3 528.6h0M224.0 545.1h0M556.9 295.2h0M586.4 276.2h0M442.5 486.1h0M539.4 448.0h0M533.0 387.9h0M552.0 436.6h0M462.2 413.5h0M557.4 333.5h0M405.3 504.2h0M570.3 321.8h0M553.2 462.9h0M406.6 458.9h0M486.3 454.1h0M450.3 507.2h0M502.0 499.9h0M568.1 408.8h0M410.5 506.5h0M254.8 529.0h0M457.2 512.3h0M588.4 343.2h0M504.4 488.0h0M223.6 548.2h0M542.3 420.3h0M220.6 552.1h0M530.8 358.1h0M571.7 294.6h0M325.7 496.4h0M453.9 488.4h0M570.5 444.9h0M439.9 482.7h0M502.2 497.2h0M364.0 476.6h0M491.3 447.1h0M409.0 466.9h0M563.8 470.7h0M323.4 497.6h0M500.3 478.0h0M438.1 482.8h0M565.0 461.6h0M364.4 511.8h0M459.8 464.8h0M558.8 405.3h0M511.3 377.8h0M316.3 529.2h0M409.9 482.2h0M501.5 430.3h0M351.8 513.1h0M500.9 467.8h0M471.6 392.7h0M589.2 380.5h0M566.2 360.1h0M565.2 461.5h0M455.6 463.6h0M354.8 513.1h0M473.2 397.9h0M505.0 444.9h0M405.3 445.3h0M464.9 390.2h0M276.9 523.7h0M564.8 274.3h0M489.1 467.8h0M508.0 458.4h0M461.5 332.2h0M582.7 295.7h0M559.9 371.3h0M591.0 360.8h0M236.8 535.8h0M514.4 325.8h0M316.4 516.2h0M482.3 426.8h0M578.3 332.1h0M459.6 385.8h0M507.9 476.8h0M507.8 497.4h0M511.5 324.0h0M554.3 431.9h0M512.3 397.4h0M558.0 449.1h0M556.7 468.8h0M369.6 459.4h0M453.2 441.2h0M412.0 470.9h0M569.6 452.4h0M459.1 346.8h0M561.4 409.5h0M395.0 504.6h0M442.4 510.1h0M447.6 464.7h0M543.3 445.8h0M550.6 407.9h0M467.6 389.2h0M363.2 490.0h0M446.1 493.6h0M209.5 546.3h0M433.2 450.1h0M564.6 276.8h0M462.2 367.2h0M575.5 323.2h0M501.6 472.7h0M406.6 498.5h0M234.6 538.0h0M568.3 363.0h0M498.0 452.7h0M239.8 530.5h0M519.7 324.6h0M480.9 433.6h0M419.2 393.9h0M434.6 452.2h0M397.5 507.7h0M512.9 440.1h0M456.9 469.4h0M363.2 496.1h0M554.9 473.8h0M480.1 383.3h0M281.5 514.1h0M466.9 366.0h0M506.6 489.3h0M589.0 306.4h0M589.4 345.7h0M487.8 445.7h0M270.7 537.7h0M475.1 382.5h0M549.0 426.0h0M233.4 533.7h0M581.0 332.1h0M285.2 510.0h0M555.0 466.8h0M411.4 449.2h0M275.6 530.4h0M233.8 537.8h0M400.5 516.8h0M449.8 504.6h0M464.9 343.7h0M409.8 501.8h0M320.3 516.5h0M386.4 482.2h0M444.3 470.1h0M307.1 516.7h0M578.0 410.0h0M481.9 414.8h0M465.6 347.0h0M404.0 513.3h0M477.2 419.5h0M446.0 497.4h0M551.6 435.6h0M499.0 421.3h0M549.9 451.9h0M302.7 513.6h0M460.0 347.2h0M557.8 384.5h0M548.6 412.5h0M524.9 358.1h0M577.4 311.7h0M498.7 363.6h0M465.4 385.4h0M539.5 403.4h0M177.1 555.4h0M498.6 491.8h0M501.9 425.6h0M555.9 448.1h0M578.1 281.8h0M451.7 471.3h0M355.4 520.0h0M352.0 507.9h0M579.1 272.3h0M450.6 528.6h0M455.8 461.7h0M430.9 464.5h0M340.0 491.0h0M542.5 388.1h0M504.7 493.9h0M577.1 298.3h0M575.8 299.8h0M508.7 499.8h0M477.8 448.5h0M412.6 484.5h0M536.5 385.2h0M529.4 413.2h0M434.7 451.7h0M267.5 536.9h0M235.9 537.0h0M349.9 500.6h0M274.8 529.0h0M371.3 455.1h0M451.9 504.6h0M443.4 498.7h0M453.4 475.5h0M449.7 477.7h0M500.1 492.9h0M271.7 536.3h0M504.8 469.6h0M499.7 456.8h0M340.1 486.5h0M359.9 517.0h0M512.6 460.9h0M512.3 384.8h0M573.6 359.1h0M581.0 286.3h0M538.6 421.1h0M574.5 355.8h0M449.4 507.4h0M562.6 456.9h0M523.8 352.7h0M534.2 394.4h0M570.4 431.4h0M503.9 444.4h0M385.0 487.9h0M523.1 327.7h0M438.2 453.4h0M545.5 413.1h0M483.5 415.2h0M509.0 478.8h0M421.8 421.3h0M459.3 367.4h0M590.7 390.9h0M556.0 438.0h0M545.1 445.4h0M459.5 433.3h0M415.0 427.6h0M534.6 360.2h0M541.5 431.4h0M412.5 393.6h0M562.2 273.3h0M515.3 312.7h0M590.7 381.6h0M391.1 479.9h0M582.7 353.3h0M582.5 255.5h0M496.3 448.5h0M508.1 392.8h0M519.0 344.8h0M464.2 399.7h0M369.8 465.7h0M536.8 393.0h0M313.0 519.9h0M575.5 388.2h0M453.0 432.8h0M567.5 417.9h0M449.1 524.1h0M499.2 459.1h0M565.4 359.4h0M379.8 458.4h0M569.5 451.5h0M261.7 534.4h0M494.0 495.2h0M582.1 342.8h0M504.4 447.0h0M478.8 399.1h0M583.5 331.3h0M525.6 380.0h0M387.4 484.6h0M356.1 518.7h0M562.3 415.8h0M459.0 332.5h0M556.3 403.0h0M541.9 454.2h0M494.4 471.2h0M229.7 544.2h0M456.2 513.1h0M586.7 349.8h0M383.5 457.2h0M456.1 433.2h0M566.5 294.9h0M399.6 510.7h0M361.0 502.6h0M340.4 492.5h0M499.1 446.3h0M548.7 463.8h0M563.3 377.9h0M558.2 470.7h0M460.3 474.2h0M222.6 549.8h0M407.1 506.4h0M459.2 504.1h0M577.4 301.3h0M532.0 363.8h0M513.4 439.2h0M572.6 278.9h0M585.5 318.3h0M485.8 409.6h0M434.4 483.5h0M581.1 328.0h0M482.6 397.5h0M404.6 506.4h0M412.2 407.5h0M347.6 505.8h0M453.9 342.1h0M577.6 354.8h0M364.7 521.4h0M320.0 508.7h0M318.2 519.1h0M542.3 434.0h0M402.2 505.2h0M512.0 350.1h0M383.8 471.8h0M319.9 519.4h0M271.0 540.7h0M501.7 434.7h0M231.0 539.1h0M501.5 384.8h0M556.1 378.9h0M415.5 450.7h0M506.3 342.3h0M326.4 478.0h0M578.6 260.0h0M442.4 496.9h0M453.3 474.2h0M319.5 505.4h0M394.6 497.8h0M512.2 317.6h0M433.1 453.2h0M333.0 487.4h0M561.1 455.5h0M557.4 318.5h0M468.9 351.4h0M423.7 440.2h0M375.3 461.4h0M476.7 415.7h0M450.2 515.0h0M576.0 340.5h0M407.6 484.5h0M461.1 421.8h0M274.7 534.8h0M179.7 554.8h0M553.5 372.2h0M425.2 410.6h0M576.1 261.8h0M567.0 274.9h0M570.4 379.8h0M485.4 410.2h0M561.5 451.8h0M363.4 512.3h0M552.6 418.6h0M557.7 465.0h0M225.6 547.9h0M291.5 505.6h0M450.7 510.5h0M514.1 345.5h0M562.3 370.0h0M444.3 478.3h0M395.8 484.9h0M507.0 317.9h0M546.2 421.9h0M382.6 470.7h0M507.0 326.0h0M557.7 439.6h0M363.6 526.8h0M218.9 549.8h0M545.4 399.4h0M499.9 493.4h0M341.7 503.3h0M567.6 402.0h0M432.7 426.6h0M572.9 433.8h0M495.6 481.0h0M494.1 444.0h0M547.1 454.0h0M448.5 488.1h0M556.6 451.3h0M518.2 342.7h0M487.4 438.2h0M499.5 477.4h0M453.0 512.8h0M500.0 490.7h0M555.9 427.1h0M462.4 444.6h0M510.1 411.8h0M585.1 348.8h0M532.4 373.8h0M509.0 432.0h0M562.4 416.2h0M586.3 319.4h0M523.5 374.0h0M570.9 460.2h0M579.5 262.6h0M478.4 448.8h0M565.1 425.9h0M411.2 472.3h0M228.9 541.9h0M513.9 315.2h0M438.3 466.2h0M562.5 377.8h0M320.7 511.0h0M558.6 476.1h0M505.6 486.8h0M568.8 453.6h0M515.4 438.5h0M408.2 450.3h0M525.3 357.3h0M353.9 510.9h0M567.5 342.2h0M544.5 406.0h0M559.7 412.9h0M400.9 505.2h0M577.8 326.5h0M573.4 374.2h0M209.5 545.3h0M382.6 470.8h0M253.3 529.0h0M319.8 517.7h0M352.4 511.2h0M450.4 406.8h0M500.0 496.8h0M410.6 484.8h0M457.4 477.2h0M505.9 321.8h0M527.1 355.7h0M566.3 443.4h0M444.3 473.8h0M573.4 302.2h0M502.0 468.5h0M495.6 492.8h0M448.2 482.3h0M525.0 356.1h0M586.8 306.9h0M512.7 332.5h0M569.3 336.5h0M304.8 519.5h0M506.8 391.3h0M565.2 444.6h0M504.7 316.6h0M513.6 327.7h0M240.7 529.5h0M542.8 376.5h0M493.9 441.5h0M562.1 429.7h0M562.1 421.5h0M406.1 434.2h0M508.5 492.2h0M517.8 335.8h0M448.3 476.1h0M479.2 371.8h0M323.8 486.6h0M554.1 447.5h0M509.0 491.9h0M227.2 544.5h0M462.9 413.1h0M433.9 466.0h0M460.8 461.6h0M501.4 386.1h0M192.3 549.3h0M439.4 472.0h0M565.8 289.3h0M559.5 472.1h0M567.3 477.3h0M580.0 332.0h0M556.1 448.6h0M446.3 492.4h0M547.9 433.2h0M562.2 403.2h0M480.7 424.9h0M405.4 491.8h0M590.1 365.9h0M577.6 256.8h0M332.2 480.9h0M557.6 437.2h0M590.5 343.8h0M551.3 453.5h0M496.6 479.4h0M379.6 460.3h0M513.3 333.9h0M556.9 446.0h0M505.4 404.4h0M214.2 546.4h0M500.0 474.4h0M561.3 459.4h0M561.4 283.2h0M580.6 290.3h0M397.3 498.5h0M553.5 448.4h0M574.0 382.3h0M217.2 549.4h0M587.3 277.1h0M274.1 538.0h0M553.6 454.2h0M265.3 539.2h0M552.6 452.9h0M326.7 479.2h0M189.1 550.8h0M294.4 509.9h0M449.2 428.3h0M452.0 469.5h0M442.2 483.8h0M311.1 520.2h0M218.5 549.0h0M360.9 484.3h0M301.2 514.1h0M556.0 461.0h0M535.5 422.9h0M381.8 468.6h0M395.5 501.6h0M479.9 455.8h0M499.3 441.5h0M406.3 481.2h0M430.2 431.7h0M440.3 465.3h0M507.8 493.0h0M480.6 430.9h0M500.2 407.5h0M327.3 492.3h0M370.4 492.1h0M461.4 415.0h0M314.1 529.7h0M323.9 509.8h0M512.0 455.4h0M571.2 310.6h0M563.1 488.4h0M569.5 344.2h0M562.6 455.8h0M497.7 475.1h0M414.0 407.0h0M435.6 465.9h0M435.4 480.8h0M503.0 512.0h0M498.4 502.6h0M555.5 435.0h0M445.6 512.9h0M510.3 422.1h0M505.4 426.5h0M412.9 481.2h0M546.8 399.6h0M461.3 337.8h0M409.2 424.4h0M406.2 514.3h0M501.7 498.5h0M508.9 487.8h0M396.2 497.1h0M578.1 284.6h0M417.8 422.6h0M463.2 354.8h0M363.3 513.4h0M515.2 315.8h0M570.9 361.2h0M509.6 316.7h0M373.5 450.9h0M484.2 415.6h0M366.3 475.1h0M174.1 556.2h0M348.5 500.5h0M227.0 544.4h0M587.5 285.6h0M558.3 387.2h0M565.6 379.3h0M567.9 245.2h0M489.1 440.2h0M529.5 345.0h0M517.8 354.7h0M348.8 505.4h0M408.0 464.5h0M487.3 466.5h0M503.9 400.3h0M176.4 554.7h0M371.9 448.2h0M488.1 423.1h0M452.1 507.4h0M270.3 538.6h0M566.2 421.2h0M504.0 404.3h0M462.7 337.2h0M508.5 490.8h0M389.9 492.6h0M575.9 274.7h0M482.2 456.0h0M371.0 469.9h0M453.9 389.9h0M575.3 264.4h0M220.6 549.0h0M402.3 499.2h0M502.3 422.5h0M542.6 398.8h0M285.3 510.3h0M552.8 443.8h0M451.1 369.0h0M385.0 466.2h0M454.6 362.3h0M427.6 430.7h0M575.4 262.7h0M264.7 538.4h0M565.1 238.8h0M569.5 469.1h0M371.3 443.8h0M394.5 492.9h0M563.0 288.3h0M419.0 393.4h0M552.6 417.2h0M321.2 522.0h0M268.8 542.8h0M278.6 526.0h0M499.2 387.4h0M505.3 492.9h0M538.5 392.1h0M313.9 521.4h0M541.4 409.2h0M567.9 377.3h0M548.9 442.5h0M510.7 415.9h0M574.8 391.6h0M269.4 541.3h0M373.8 451.9h0M566.9 254.4h0M531.1 388.9h0M441.2 473.3h0M426.8 442.3h0M406.1 499.2h0M553.5 417.0h0M317.4 528.7h0M520.7 322.1h0M509.0 461.2h0M523.8 379.8h0M501.3 485.4h0M558.8 316.9h0M409.4 479.1h0M472.4 367.0h0M543.8 420.3h0M504.1 365.8h0M568.7 257.6h0M465.1 392.6h0M557.5 353.8h0M510.3 443.9h0M555.5 467.7h0M367.2 454.0h0M456.8 513.2h0M404.7 496.5h0M558.4 454.8h0M527.0 367.4h0M309.3 525.0h0M364.0 489.0h0M515.5 371.3h0M518.3 393.7h0M588.5 398.0h0M513.3 385.8h0M431.1 460.5h0M403.1 507.6h0M411.0 464.9h0M209.4 544.8h0M542.4 446.0h0M559.8 379.6h0M567.2 467.7h0M263.7 538.0h0M494.9 442.0h0M561.5 307.1h0M444.7 496.6h0M462.9 381.2h0M572.1 255.1h0M447.5 514.2h0M553.8 443.7h0M361.7 504.3h0M485.9 427.2h0M234.1 538.5h0M406.5 504.0h0M484.4 460.4h0M242.0 526.4h0M556.9 361.4h0M569.4 461.4h0M412.4 407.4h0M449.2 497.2h0M431.7 445.7h0M484.5 452.5h0M446.0 490.9h0M219.4 548.3h0M369.9 440.5h0M557.1 461.0h0M360.5 499.9h0M517.4 316.7h0M571.5 345.2h0M366.0 474.0h0M556.5 454.7h0M232.6 536.1h0M345.8 494.5h0M505.2 486.7h0M449.5 517.2h0M403.5 479.0h0M396.5 498.5h0M405.8 485.1h0M299.1 516.0h0M444.0 512.6h0M568.7 413.4h0M500.2 482.9h0M556.7 443.8h0M551.7 429.3h0M456.4 395.7h0M220.3 549.0h0M462.3 464.1h0M384.5 480.1h0M513.0 386.2h0M586.2 373.7h0M572.5 276.5h0M556.6 361.1h0M548.5 452.8h0M362.1 488.3h0M451.7 513.3h0M432.1 479.3h0M535.9 429.2h0M569.1 258.0h0M465.2 341.0h0M522.3 341.3h0M504.2 489.0h0M338.3 488.5h0M486.4 445.7h0M514.0 318.9h0M557.4 313.2h0M434.0 454.6h0M362.9 507.4h0M453.1 506.3h0M505.4 473.5h0M582.6 332.4h0M483.9 446.0h0M577.8 265.2h0M340.4 487.0h0M214.7 547.8h0M235.1 535.2h0M550.9 444.8h0M497.3 489.3h0M323.5 502.6h0M437.5 481.6h0M448.7 511.3h0M512.7 447.8h0M431.1 422.8h0M440.0 460.5h0M382.5 453.4h0M550.5 461.1h0M462.7 446.4h0M454.8 366.4h0M568.6 362.4h0M535.2 406.9h0M533.2 410.7h0M565.9 450.4h0M552.0 436.2h0M567.3 458.0h0M468.7 366.6h0M376.0 451.8h0M387.6 478.7h0M369.9 444.8h0M262.7 535.6h0M413.3 414.4h0M417.5 424.1h0M585.9 322.9h0M497.3 458.6h0M322.3 501.8h0M448.9 495.6h0M360.6 505.5h0M339.0 495.3h0M467.1 367.1h0M453.8 488.7h0M390.2 474.4h0M391.6 498.3h0M355.1 515.8h0M556.4 318.1h0M406.2 487.5h0M451.5 418.8h0M477.0 378.8h0M366.5 454.5h0M316.9 529.1h0M575.4 302.3h0M321.2 513.1h0M495.5 472.8h0M442.0 482.7h0M487.6 464.5h0M229.1 544.4h0M572.5 324.2h0M368.1 497.0h0M312.7 525.1h0M509.2 492.0h0M557.8 327.8h0M557.8 381.8h0M556.5 401.6h0M360.5 491.4h0M451.1 501.2h0M447.1 487.8h0M530.1 393.5h0M430.5 443.3h0M540.6 433.7h0M487.8 453.4h0M432.5 445.1h0M568.3 448.6h0M411.0 484.9h0M513.9 402.5h0M527.6 347.4h0M261.5 533.3h0M491.8 480.5h0M575.0 403.1h0M563.1 370.3h0M260.8 534.7h0M513.6 331.3h0M545.5 377.3h0M211.1 545.7h0M510.1 316.7h0M572.6 383.6h0M563.7 305.8h0M554.6 473.5h0M448.0 505.2h0M523.2 332.9h0M396.7 495.4h0M493.4 483.1h0M580.3 346.9h0M423.6 414.0h0M176.6 556.6h0M570.0 470.8h0M541.0 388.9h0M316.0 524.1h0M551.7 412.6h0M451.8 467.2h0M500.2 488.5h0M448.7 516.1h0M447.2 500.3h0M556.8 410.0h0M404.6 488.4h0M575.5 324.3h0M559.0 426.5h0M550.1 437.7h0M453.0 509.3h0M501.7 407.7h0M506.4 451.4h0M272.7 532.9h0M568.8 445.9h0M565.6 272.0h0M450.1 460.7h0M313.2 529.6h0M310.5 523.3h0M568.6 281.2h0M501.5 500.8h0M564.7 305.6h0M563.6 464.3h0M346.7 502.5h0M215.0 549.7h0M213.9 548.4h0M544.8 444.7h0M503.1 504.2h0M501.5 503.7h0M551.7 445.7h0M550.4 452.1h0M405.9 500.7h0M577.7 322.7h0M513.6 330.0h0M479.8 391.5h0M559.2 405.8h0M281.6 513.0h0M301.5 512.3h0M557.3 447.5h0M395.1 502.6h0M552.0 409.9h0M215.1 549.3h0M369.3 484.9h0M313.0 529.7h0M552.6 439.0h0M460.6 465.1h0M461.4 474.9h0M479.7 374.1h0M383.3 465.2h0M479.9 383.5h0M550.4 453.9h0M313.3 523.5h0M589.9 388.4h0M579.9 324.5h0M564.5 256.3h0M565.2 403.9h0M552.4 439.2h0M183.2 553.9h0M507.6 459.7h0M551.9 424.5h0M449.5 459.7h0M460.0 494.8h0M503.6 480.5h0M547.7 420.8h0M480.0 427.9h0M362.5 464.8h0M507.3 466.9h0M319.7 500.5h0M534.4 405.5h0M551.8 435.1h0M561.5 287.8h0M508.9 455.7h0M533.3 395.9h0M562.5 475.1h0M509.4 334.6h0M525.2 350.7h0M566.4 398.8h0M407.2 494.1h0M567.5 291.4h0M586.1 279.6h0M451.3 494.6h0M574.2 326.9h0M464.7 364.4h0M366.0 448.6h0M485.1 465.0h0M355.5 513.8h0M382.9 472.9h0M331.4 476.0h0M590.4 362.8h0M327.7 478.7h0M285.2 509.7h0M563.7 439.6h0M403.8 476.1h0M516.5 337.2h0M491.4 469.7h0M568.9 393.4h0M350.9 512.9h0M556.5 433.7h0M437.2 488.5h0M555.5 441.2h0M509.1 468.7h0M424.8 413.1h0M495.1 483.9h0M455.5 396.2h0M429.3 451.3h0M412.4 460.8h0M450.0 502.0h0M411.6 476.7h0M489.2 454.8h0M556.9 464.9h0M413.2 479.2h0M567.1 350.3h0M342.8 494.4h0M561.8 412.4h0M556.4 443.5h0M276.9 531.3h0M489.8 427.3h0M561.7 471.1h0M418.2 401.4h0M486.9 413.6h0M562.9 313.3h0M409.4 468.0h0M399.5 496.6h0M367.1 487.8h0M369.5 470.4h0M546.2 445.0h0M506.4 480.9h0M339.4 491.4h0M509.8 470.3h0M559.4 409.7h0M571.5 443.6h0M547.8 432.8h0M313.1 524.8h0M436.0 472.6h0M511.8 457.4h0M274.9 533.4h0M449.0 472.1h0M499.8 478.6h0M462.1 355.1h0M564.7 394.0h0M380.7 459.4h0M441.4 469.2h0M576.6 258.5h0M363.1 489.1h0M426.3 429.2h0M317.3 522.0h0M496.4 500.8h0M436.5 459.0h0M448.1 498.6h0M366.5 511.5h0M512.1 383.6h0M325.3 499.7h0M559.0 455.8h0M546.0 429.7h0M238.8 531.0h0M584.5 286.2h0M576.7 292.0h0M565.1 469.4h0M501.7 363.1h0M556.3 438.6h0M418.1 398.1h0M566.3 255.6h0M512.1 439.7h0M574.6 395.4h0M442.9 505.2h0M544.6 407.1h0M523.9 332.3h0M564.0 458.6h0M409.8 434.6h0M441.4 485.7h0M572.7 391.3h0M563.2 271.4h0M253.9 528.5h0M507.3 497.3h0M458.5 497.1h0M383.6 473.7h0M450.9 427.4h0M207.5 547.2h0M557.1 461.7h0M440.0 503.3h0M503.1 490.0h0M515.3 385.6h0M365.1 454.8h0M578.5 291.2h0M552.6 431.4h0M497.3 465.0h0M278.9 519.5h0M474.5 363.7h0M442.6 497.7h0M579.0 366.6h0M543.9 384.9h0M221.5 547.4h0M491.5 440.3h0M566.1 307.3h0M405.1 511.6h0M572.3 414.9h0M424.3 422.7h0M366.1 483.4h0M512.5 438.4h0M397.1 495.4h0M577.4 369.0h0M577.9 269.4h0M554.5 442.6h0M448.9 434.4h0M566.6 447.2h0M530.5 396.8h0M324.5 505.1h0M561.7 374.3h0M528.9 392.0h0M507.9 410.0h0M315.9 514.5h0M449.7 448.0h0M509.8 402.0h0M566.9 447.0h0M455.7 451.7h0M541.6 396.3h0M547.1 439.4h0M356.7 509.8h0M543.2 419.7h0M454.7 504.4h0M507.7 374.0h0M477.5 402.6h0M576.7 352.4h0M565.1 245.4h0M279.0 519.9h0M259.7 533.3h0M571.4 329.4h0M498.8 486.7h0M344.5 501.6h0M318.9 518.0h0M490.6 427.7h0M532.4 356.6h0M508.8 346.6h0M578.3 286.1h0M362.1 506.9h0M536.8 374.8h0M573.0 275.8h0M533.0 395.4h0M403.6 501.1h0M252.9 526.8h0M508.9 399.4h0M557.7 305.4h0M579.5 278.6h0M571.1 258.3h0M330.6 476.1h0M455.9 488.8h0M328.5 474.9h0M506.2 367.4h0M454.5 480.9h0M402.8 507.8h0M229.0 543.5h0M477.2 415.8h0M381.6 474.3h0M334.5 480.4h0M338.3 490.7h0M567.7 446.3h0M444.5 496.6h0M565.5 389.2h0M563.3 434.3h0M426.9 441.8h0M477.6 421.9h0M455.5 503.8h0M448.6 503.7h0M553.9 434.8h0M573.7 356.9h0M559.0 409.7h0M512.4 356.2h0M561.6 429.5h0M567.4 264.4h0M450.3 512.2h0M178.4 554.3h0M501.8 438.5h0M455.8 447.0h0M444.5 474.8h0M492.3 471.8h0M579.6 276.9h0M317.1 525.0h0M562.4 469.1h0M557.1 395.9h0M450.0 389.7h0M483.9 466.0h0M455.1 517.3h0M555.5 444.9h0M532.4 403.0h0M364.0 515.8h0M559.4 470.6h0M411.4 415.9h0M483.6 432.4h0M553.7 450.0h0M591.3 372.3h0M359.6 517.5h0M352.2 510.3h0M499.3 500.7h0M503.5 444.2h0M278.2 520.9h0M555.5 415.6h0M585.0 302.3h0M308.5 515.2h0M465.3 366.1h0M510.3 407.8h0M508.6 459.0h0M239.9 527.5h0M188.0 554.2h0M414.3 460.9h0M550.5 464.0h0M567.7 348.3h0M463.1 343.1h0M476.1 373.3h0M518.2 346.2h0M495.8 453.9h0M297.4 513.9h0M547.2 436.4h0M531.6 366.3h0M357.3 522.9h0M391.8 495.9h0M322.1 498.5h0M515.9 370.8h0M462.8 420.9h0M347.0 495.6h0M490.0 459.7h0M555.7 318.9h0M533.7 407.4h0M546.4 447.1h0M588.0 361.7h0M486.1 420.1h0M317.2 522.9h0M486.3 457.3h0M360.6 511.3h0M439.6 461.5h0M550.8 458.0h0M546.9 423.3h0M591.0 333.5h0M462.7 341.1h0M387.5 476.8h0M462.3 339.2h0M440.5 499.9h0M582.4 320.5h0M453.3 433.3h0M530.6 389.6h0M448.9 463.8h0M509.0 436.3h0M499.9 485.6h0M450.8 403.3h0M550.6 457.3h0M532.9 372.1h0M271.4 535.6h0M590.9 363.3h0M562.7 306.8h0M361.6 491.9h0M556.3 422.1h0M274.3 534.7h0M566.2 251.1h0M214.2 546.9h0M553.9 338.5h0M329.4 477.5h0M482.9 415.9h0M476.6 393.8h0M447.9 485.7h0M538.7 386.6h0M404.2 515.5h0M360.0 523.7h0M414.4 408.0h0M502.0 487.2h0M483.1 434.4h0M360.4 524.7h0M365.7 467.6h0M547.5 444.3h0M422.7 422.5h0M484.3 415.8h0M491.3 467.5h0M565.5 436.9h0M360.9 520.3h0M261.6 536.0h0M349.3 506.7h0M549.8 419.5h0M360.8 486.6h0M509.1 321.2h0M511.5 443.3h0M559.3 393.7h0M569.4 447.4h0M530.8 337.2h0M234.4 534.8h0M488.3 446.4h0M514.7 320.5h0M577.1 394.4h0M557.1 437.5h0M397.1 499.2h0M463.7 341.5h0M563.2 475.7h0M559.0 438.0h0M535.6 357.3h0M545.1 428.4h0M573.7 301.8h0M505.0 420.0h0M379.4 457.3h0M412.4 413.5h0M258.7 534.3h0M508.1 494.1h0M555.1 429.1h0M588.0 366.2h0M571.4 454.2h0M530.6 401.7h0M346.7 497.9h0M316.8 527.6h0M557.3 455.0h0M543.4 428.1h0M456.9 523.8h0M502.0 485.2h0M221.5 548.8h0M561.0 395.1h0M492.8 493.1h0M188.2 550.0h0M575.8 388.8h0M573.4 284.4h0M488.6 455.8h0M502.3 418.8h0M364.7 461.3h0M510.5 485.7h0M588.0 309.4h0M453.1 493.9h0M475.5 393.3h0M513.6 358.8h0M561.4 369.5h0M224.0 546.6h0M318.0 511.2h0M513.5 315.6h0M576.5 347.6h0M566.2 480.1h0M511.2 301.9h0M348.8 519.2h0M489.0 429.9h0M588.3 372.0h0M545.9 449.2h0M558.3 409.2h0M220.9 549.8h0M452.6 496.0h0M296.9 511.6h0M567.7 454.9h0M471.2 373.9h0M525.9 374.4h0M495.1 501.5h0M309.7 524.6h0M344.8 497.0h0M513.8 314.3h0M366.9 478.6h0M476.1 407.6h0M369.2 493.5h0M516.4 377.7h0M579.3 304.4h0M418.5 398.3h0M455.8 525.1h0M408.0 496.4h0M565.4 317.7h0M304.2 517.4h0M575.0 329.1h0M319.9 508.5h0M566.8 470.9h0M569.4 283.5h0M541.8 418.7h0M584.9 330.6h0M393.6 499.2h0M279.1 523.3h0M283.4 515.1h0M436.0 430.9h0M374.2 452.3h0M566.0 447.1h0M505.3 398.5h0M236.1 535.3h0M526.6 397.0h0M534.9 374.8h0M265.8 539.0h0M319.8 513.7h0M576.9 373.5h0M563.0 456.0h0M336.8 486.3h0M575.1 381.4h0M563.9 303.2h0M559.3 425.4h0M503.9 441.3h0M564.7 319.7h0M559.8 431.4h0M497.1 453.9h0M499.5 454.9h0M563.3 455.1h0M316.3 515.3h0M457.7 481.1h0M287.6 510.5h0M320.6 510.9h0M494.4 444.6h0M455.8 503.7h0M348.4 501.6h0M460.3 370.2h0M450.5 428.4h0M472.4 383.5h0M476.3 388.1h0M379.8 447.5h0M514.3 417.4h0M564.8 335.9h0M499.6 402.0h0M555.9 420.8h0M578.9 251.6h0M560.5 352.2h0M560.3 451.6h0M590.1 288.1h0M583.3 337.3h0M193.1 550.0h0M273.1 531.0h0M492.4 475.6h0M443.8 486.1h0M551.2 456.9h0M342.5 499.3h0M368.1 472.7h0M491.8 438.7h0M454.8 516.1h0M324.4 499.8h0M508.1 482.1h0M214.2 549.0h0M555.2 435.8h0M409.1 517.0h0M453.5 497.2h0M514.5 316.3h0M517.8 394.4h0M490.7 450.7h0M270.0 537.5h0M316.8 521.1h0M504.0 320.5h0M234.6 534.4h0M549.3 389.2h0M500.4 468.6h0M444.1 479.1h0M470.3 401.7h0M316.8 526.5h0M462.2 379.8h0M550.5 460.6h0M502.5 492.0h0M233.0 535.8h0M567.2 463.2h0M366.0 497.7h0M567.7 434.7h0M503.4 477.5h0M408.2 441.9h0M441.7 506.5h0M235.9 533.2h0M496.4 466.4h0M369.0 447.3h0M566.7 370.6h0M426.1 422.0h0M533.1 405.1h0M436.4 449.1h0M548.0 410.5h0M567.3 423.2h0M282.5 510.6h0M549.5 440.2h0M524.5 322.8h0M321.5 517.6h0M577.4 304.0h0M194.9 547.2h0M411.1 420.3h0M299.1 509.2h0M439.1 475.9h0M483.0 400.3h0M373.9 451.0h0M521.7 362.1h0M545.1 395.9h0M502.4 459.7h0M180.4 552.2h0M565.8 452.4h0M458.5 337.3h0M560.4 457.2h0M355.4 513.7h0M550.8 468.6h0M507.7 416.1h0M577.8 398.9h0M561.6 406.3h0M581.5 324.6h0M307.5 519.1h0M565.3 336.9h0M234.5 537.4h0M567.1 460.0h0M407.2 445.0h0M460.0 454.4h0M571.3 361.2h0M559.8 364.2h0M547.9 390.4h0M554.1 457.4h0M513.2 328.9h0M446.2 501.7h0M462.5 325.6h0M587.4 333.3h0M323.7 498.4h0M368.9 470.7h0M321.3 517.2h0M224.1 547.1h0M173.3 556.1h0M203.4 543.9h0M559.3 411.0h0M495.6 499.9h0M581.8 333.9h0M412.1 461.6h0M573.3 407.1h0M560.0 471.0h0M566.8 437.7h0M562.1 449.7h0M472.3 412.3h0M493.6 450.1h0M522.8 374.8h0M440.5 472.9h0M573.1 305.7h0M453.4 470.8h0M312.9 527.3h0M580.5 270.7h0M454.7 351.3h0M524.1 356.1h0M411.9 463.0h0M505.3 506.3h0M394.1 480.8h0M402.2 505.0h0M275.5 533.1h0M510.2 404.3h0M566.0 278.6h0M543.7 386.0h0M386.4 474.4h0M501.1 485.6h0M402.0 501.7h0M533.7 357.3h0M274.2 536.3h0M361.4 521.2h0M565.3 397.1h0M484.8 396.5h0M317.9 514.6h0M567.1 277.1h0M361.5 494.3h0M423.6 433.4h0M568.7 364.8h0M417.1 413.1h0M332.9 477.3h0M318.8 520.1h0M576.1 268.0h0M572.6 276.8h0M449.8 491.8h0M566.0 426.2h0M560.1 485.8h0M280.6 516.5h0M440.5 442.2h0M502.1 391.5h0M558.6 296.3h0M414.3 441.3h0M441.9 460.1h0M482.0 427.1h0M506.5 504.8h0M454.7 419.5h0M432.4 423.4h0M504.1 348.2h0M573.2 257.6h0M567.0 360.9h0M559.2 380.2h0M569.5 265.3h0M349.6 502.5h0M441.6 463.6h0M182.2 554.7h0M318.1 525.6h0M530.3 389.1h0M561.0 461.1h0M526.3 351.2h0M451.2 491.0h0M405.3 464.0h0M449.3 503.4h0M577.8 306.8h0M312.1 522.8h0M562.1 467.2h0M445.0 509.2h0M567.9 482.7h0M218.0 549.0h0M456.6 333.0h0M559.5 301.4h0M560.7 456.9h0M491.9 460.4h0M360.9 518.1h0M370.9 457.6h0M448.1 465.1h0M577.5 318.0h0M522.4 357.6h0M470.3 383.9h0M362.8 522.0h0M457.9 501.0h0M351.2 513.7h0M517.8 341.2h0M412.5 456.8h0M564.5 306.8h0M495.5 468.7h0M567.2 435.6h0M568.2 471.5h0M428.7 436.0h0M502.4 505.8h0M442.7 498.1h0M492.7 443.9h0M458.3 458.1h0M389.5 485.8h0M561.5 294.5h0M344.4 506.5h0M407.0 491.6h0M455.2 502.7h0M566.2 265.4h0M253.1 529.6h0M570.4 310.2h0M487.3 424.2h0M526.9 341.2h0M507.2 474.1h0M525.6 357.1h0M254.1 527.6h0M549.6 461.5h0M317.4 516.0h0M436.9 434.3h0M431.6 446.7h0M562.7 277.4h0M584.9 321.6h0M485.4 414.0h0M459.2 428.4h0M454.3 505.9h0M540.8 402.3h0M471.6 387.4h0M511.3 316.6h0M428.0 435.7h0M235.7 533.8h0M534.0 424.0h0M405.8 474.5h0M417.0 421.4h0M459.2 385.9h0M501.4 382.5h0M208.3 545.9h0M494.0 464.4h0M426.2 411.1h0M588.1 285.7h0M556.8 483.2h0M563.6 449.7h0M574.9 349.5h0M574.7 304.7h0M219.8 549.2h0M445.8 505.1h0M449.6 465.1h0M504.5 471.2h0M548.0 441.7h0M569.7 435.4h0M494.9 450.8h0M317.8 519.5h0M242.2 525.4h0M590.0 334.5h0M508.9 366.2h0M570.0 411.9h0M436.8 476.2h0M561.1 446.0h0M573.8 385.7h0M457.2 448.2h0M531.1 369.4h0M456.8 505.2h0M500.0 414.0h0M567.9 270.1h0M536.9 404.8h0M447.2 484.2h0M543.3 396.0h0M403.8 470.3h0M410.6 473.4h0M485.7 412.4h0M505.1 498.5h0M519.8 335.3h0M402.6 506.1h0M414.4 451.8h0M567.2 479.2h0M561.8 399.3h0M323.8 499.2h0M591.4 356.5h0M346.3 505.9h0M582.3 320.4h0M450.3 469.1h0M460.1 401.1h0M575.4 352.6h0M508.3 487.0h0M496.4 443.6h0M582.4 353.8h0M555.5 474.0h0M409.9 482.1h0M392.4 480.9h0M514.5 415.6h0M446.1 502.3h0M570.8 291.0h0M491.6 454.8h0M309.3 521.5h0M453.5 513.2h0M319.5 522.6h0M493.3 443.8h0M527.8 379.7h0M520.1 341.2h0M574.3 366.7h0M315.3 526.2h0M473.9 413.7h0M568.7 294.3h0M362.7 517.5h0M509.0 407.2h0M452.4 472.4h0M279.4 519.3h0M574.6 341.5h0M500.4 358.6h0M552.7 417.7h0M457.8 384.5h0M407.6 488.6h0M536.5 374.1h0M583.0 314.9h0M273.7 534.2h0M508.2 359.0h0M486.2 446.4h0M469.0 395.2h0M460.5 371.1h0M499.6 390.7h0M359.9 518.1h0M350.8 503.9h0M506.0 366.9h0M399.7 506.6h0M563.0 472.7h0M189.2 551.4h0M412.0 463.5h0M449.1 413.2h0M379.1 454.6h0M499.9 382.6h0M408.0 468.6h0M557.5 377.5h0M310.2 525.7h0M362.2 491.5h0M554.7 431.1h0M506.1 504.3h0M451.2 427.6h0M218.8 548.7h0M479.9 442.5h0M241.6 526.2h0M577.9 316.3h0M461.3 333.8h0M520.9 323.2h0M264.6 538.6h0M538.2 383.6h0M544.9 385.3h0M523.2 356.7h0M391.5 478.9h0M438.2 488.4h0M559.9 293.2h0M496.1 474.4h0M412.8 465.6h0M508.8 458.2h0M558.6 371.5h0M445.3 497.6h0M555.1 442.9h0M407.8 474.2h0M570.8 457.2h0M324.9 490.1h0M385.8 484.1h0M396.7 493.2h0M562.7 338.5h0M449.4 424.2h0M200.6 546.0h0M453.7 517.3h0M513.7 447.8h0M575.0 393.3h0M540.6 420.8h0M443.4 496.5h0M403.2 501.0h0M550.2 400.2h0M428.7 462.0h0M548.7 400.9h0M492.2 480.0h0M401.8 504.0h0M549.2 388.0h0M411.9 490.8h0M580.3 341.2h0M565.6 421.2h0M301.5 515.5h0M510.6 450.2h0M569.6 416.4h0M549.3 413.0h0M432.5 453.9h0M197.1 545.7h0M218.4 549.6h0M453.9 514.8h0M518.5 360.8h0M509.7 504.9h0M458.3 421.9h0M510.1 472.3h0M428.8 453.5h0M508.8 456.9h0M449.1 503.0h0M578.2 346.8h0M359.6 519.9h0M416.6 437.5h0M368.9 489.8h0M579.6 338.6h0M362.9 506.4h0M587.3 339.0h0M512.0 419.0h0M384.2 459.4h0M578.4 263.6h0M565.3 345.0h0M540.1 417.8h0M447.6 514.7h0M523.8 377.5h0M269.5 539.6h0M270.0 539.7h0M334.8 481.1h0M404.9 459.2h0M547.1 417.2h0M564.5 332.1h0M562.6 487.4h0M511.7 307.2h0M534.1 410.4h0M531.3 399.1h0M499.6 487.1h0M230.9 540.8h0M566.3 283.7h0M211.3 549.1h0M453.2 484.0h0M346.2 508.5h0M439.8 467.0h0M506.3 384.1h0M321.3 499.3h0M362.4 478.8h0M313.7 531.4h0M502.8 489.5h0M455.7 503.7h0M344.6 502.0h0M306.7 523.8h0M356.6 521.0h0M557.2 383.1h0M397.4 500.0h0M494.3 469.5h0M509.0 503.3h0M398.9 491.7h0M581.3 333.6h0M366.3 444.0h0M448.2 452.8h0M526.7 338.4h0M555.6 444.4h0M351.3 506.1h0M451.0 509.8h0M563.9 304.3h0M571.8 258.1h0M451.1 463.2h0M550.0 459.2h0M214.5 547.2h0M553.6 410.8h0M588.7 260.9h0M372.0 453.6h0M215.9 549.3h0M363.6 506.4h0M541.5 408.5h0M461.2 334.0h0M559.4 438.6h0M507.3 498.2h0M561.9 442.4h0M507.2 439.6h0M371.6 460.6h0M548.3 441.4h0M568.0 402.0h0M561.9 423.2h0M556.3 438.8h0M407.7 441.9h0M407.7 471.3h0M199.2 545.8h0M461.0 419.1h0M563.3 463.7h0M317.3 520.0h0M558.2 476.1h0M414.1 402.7h0M567.5 373.7h0M587.7 357.9h0M555.4 465.4h0M458.9 429.0h0M364.1 457.5h0M571.9 365.3h0M557.4 465.0h0M532.7 414.3h0M583.4 361.5h0M451.3 461.2h0M217.0 550.3h0M552.8 422.7h0M404.1 510.8h0M409.3 491.8h0M198.7 545.3h0M551.5 454.6h0M405.9 471.8h0M575.4 278.9h0M515.8 370.8h0M482.2 444.3h0M497.2 485.9h0M212.7 546.6h0M444.0 495.1h0M549.7 445.3h0M527.3 342.6h0M456.9 394.5h0M570.0 370.9h0M489.3 436.3h0M409.6 456.7h0M386.6 488.3h0M405.8 487.9h0M515.3 362.9h0M325.0 491.1h0M286.0 510.9h0M547.4 404.8h0M504.2 445.5h0M311.8 521.9h0M558.5 429.7h0M475.2 422.2h0M489.8 474.4h0M591.5 354.4h0M240.3 531.3h0M223.6 549.2h0M567.1 448.0h0M567.8 304.5h0M413.6 436.9h0M413.1 401.1h0M590.1 352.8h0M406.8 436.6h0M578.5 323.9h0M497.6 486.9h0M516.6 390.3h0M547.9 445.3h0M369.1 478.6h0M506.9 383.3h0M504.1 489.8h0M508.4 317.4h0M363.1 497.3h0M185.6 551.7h0M353.4 519.4h0M491.9 425.5h0M506.3 494.2h0M285.4 504.3h0M460.5 363.6h0M558.4 321.1h0M584.7 355.9h0M327.3 496.0h0M407.7 422.1h0M540.5 373.9h0M444.3 499.0h0M508.9 431.3h0M567.0 256.4h0M475.6 370.6h0M453.6 510.5h0M346.0 500.5h0M507.0 421.1h0M530.1 403.9h0M557.8 456.7h0M551.7 430.7h0M517.9 329.8h0M500.3 502.1h0M407.9 477.2h0M169.4 557.8h0M446.3 483.8h0M587.8 316.3h0M438.3 486.5h0M408.6 434.1h0M365.1 482.0h0M574.4 314.5h0M452.9 427.7h0M411.1 431.5h0M500.7 504.5h0M563.6 287.1h0M533.4 426.8h0M524.2 343.1h0M445.8 489.0h0M495.1 486.9h0M506.1 432.6h0M584.1 331.1h0M456.5 445.7h0M449.2 509.3h0M556.6 450.0h0M558.6 462.1h0M542.2 378.1h0M574.4 310.2h0M589.9 348.1h0M510.1 482.8h0M485.6 436.5h0M505.1 370.7h0M537.7 349.8h0M216.7 548.6h0M211.3 546.9h0M458.8 442.8h0M272.3 536.9h0M502.6 450.4h0M499.0 452.5h0M496.0 471.2h0M440.2 475.1h0M411.1 449.2h0M368.8 454.1h0M583.1 285.2h0M411.4 417.1h0M548.3 426.0h0M282.3 513.6h0M441.7 493.7h0M584.0 308.3h0M479.9 446.5h0M380.6 461.3h0M487.4 429.2h0M341.4 488.8h0M392.1 486.2h0M558.7 365.1h0M514.5 329.6h0M561.0 468.3h0M568.1 252.1h0M448.9 452.5h0M454.4 345.8h0M545.4 428.5h0M560.4 458.0h0M450.8 399.8h0M528.2 400.4h0M409.5 483.4h0M433.9 440.9h0M462.7 344.3h0M577.7 305.6h0M345.1 496.1h0M390.2 480.6h0M503.3 448.4h0M576.3 305.5h0M513.9 433.3h0M206.1 547.5h0M486.3 446.0h0M322.4 516.3h0M323.5 515.0h0M283.3 509.9h0M564.9 456.8h0M527.2 353.1h0M514.8 342.5h0M583.3 288.4h0M529.2 349.9h0M557.2 454.4h0M389.7 495.4h0M460.1 347.0h0M402.6 511.8h0M511.8 393.7h0M506.1 474.0h0M395.7 503.2h0M433.0 454.7h0M499.3 470.8h0M564.9 424.9h0M198.7 547.2h0M448.7 486.5h0M369.5 449.7h0M448.3 485.4h0M543.5 426.6h0M564.0 426.2h0M405.4 480.6h0M579.1 337.1h0M510.1 334.7h0M403.0 485.0h0M451.8 479.0h0M434.6 443.1h0M555.9 471.5h0M588.3 316.3h0M280.9 523.3h0M360.2 522.5h0M562.3 469.8h0M453.4 408.7h0M316.8 527.6h0M433.9 480.0h0M563.8 381.0h0M556.6 457.6h0M470.7 385.5h0M501.3 422.9h0M315.2 528.9h0M576.0 324.8h0M498.0 499.7h0M485.4 447.1h0M524.9 381.6h0M445.1 479.0h0M511.7 478.1h0M316.4 526.4h0M478.2 440.6h0M456.9 461.5h0M569.1 253.6h0M559.7 312.6h0M545.8 417.3h0M567.0 472.8h0M516.4 368.3h0M284.1 514.4h0M492.7 456.4h0M489.1 449.9h0M560.8 458.8h0M494.8 489.5h0M498.2 488.0h0M536.8 412.7h0M320.9 509.7h0M535.3 349.1h0M556.6 387.9h0M456.1 396.8h0M569.2 312.0h0M458.1 380.8h0M449.6 457.7h0M486.9 464.4h0M317.9 522.6h0M574.8 242.2h0M458.0 409.8h0M504.8 502.2h0M317.9 518.3h0M440.0 481.3h0M398.2 499.5h0M270.1 540.0h0M566.1 259.8h0M555.3 470.9h0M408.2 488.6h0M563.1 402.4h0M573.9 292.2h0M437.3 469.8h0M464.9 365.6h0M499.8 392.9h0M324.6 482.2h0M560.4 436.9h0M367.7 481.0h0M534.7 426.2h0M579.5 295.1h0M567.9 272.0h0M415.8 440.0h0M225.6 543.8h0M479.5 391.3h0M549.3 440.7h0M559.4 387.5h0M544.4 418.2h0M469.7 359.3h0M589.1 333.0h0M476.6 370.6h0M458.0 343.2h0M341.9 489.3h0M458.1 340.8h0M503.4 501.9h0M316.0 527.6h0M457.1 379.5h0M291.5 504.3h0M499.9 452.4h0M559.6 453.9h0M563.8 456.9h0M562.8 444.7h0M385.0 484.8h0M448.3 492.7h0M278.4 527.5h0M209.3 546.8h0M439.1 450.0h0M582.2 339.6h0M507.8 454.5h0M345.8 490.1h0M503.6 490.5h0M378.2 454.7h0M406.7 447.0h0M558.0 444.8h0M382.2 470.0h0M495.3 460.2h0M565.4 429.2h0M441.8 472.0h0M572.7 329.1h0M499.5 488.0h0M516.5 379.9h0M497.4 444.7h0M364.5 484.3h0M514.9 380.6h0M395.2 485.8h0M214.1 547.5h0M454.6 351.6h0M454.9 394.0h0M568.9 460.9h0M359.7 513.4h0M460.8 378.7h0M574.7 276.5h0M211.2 547.6h0M570.6 468.8h0M369.0 482.3h0M547.5 414.2h0M559.7 467.3h0M586.8 316.8h0M415.4 406.9h0M562.1 463.8h0M533.6 411.6h0M499.0 423.7h0M257.1 531.1h0M512.3 433.7h0M553.4 419.8h0M477.5 432.6h0M406.0 514.8h0M521.7 349.2h0M384.6 461.3h0M510.0 509.2h0M563.2 384.0h0M344.2 500.2h0M312.8 527.3h0M436.0 440.2h0M374.0 449.6h0M278.3 524.6h0M582.3 342.9h0M296.4 508.6h0M507.3 501.5h0M258.5 535.7h0M489.5 467.5h0M584.1 298.6h0M368.2 473.8h0M513.2 457.5h0M562.0 325.2h0M488.5 437.7h0M509.3 413.0h0M568.5 267.1h0M455.8 448.4h0M404.7 512.1h0M559.3 449.8h0M579.5 332.7h0M550.2 452.3h0M552.3 467.7h0M522.7 389.6h0M409.7 424.4h0M177.9 555.2h0M310.0 521.8h0M571.3 361.9h0M540.4 395.8h0M524.5 319.9h0M522.7 368.5h0M572.4 380.8h0M369.7 466.6h0M406.3 503.5h0M514.5 418.6h0M226.2 546.8h0M269.0 540.3h0M508.2 488.2h0M435.6 448.3h0M478.7 393.6h0M310.7 526.5h0M566.3 479.6h0M555.8 449.7h0M418.0 411.6h0M499.5 382.9h0M440.7 484.3h0M300.9 512.2h0M580.4 299.1h0M433.8 422.2h0M456.0 348.0h0M486.1 463.3h0M563.5 456.1h0M480.0 424.2h0M503.2 481.3h0M558.0 457.5h0M557.4 438.3h0M494.3 465.9h0M439.7 464.8h0M447.3 504.7h0M429.4 424.1h0M236.5 534.6h0M412.3 453.3h0M348.3 502.5h0M522.7 368.9h0M562.7 350.4h0M442.2 457.6h0M215.9 549.3h0M456.3 507.4h0M270.0 537.3h0M455.5 498.0h0M562.9 478.8h0M572.3 456.2h0M452.3 400.8h0M498.0 448.3h0M451.3 489.5h0M411.0 421.7h0M493.6 489.8h0M586.9 315.4h0M316.0 526.9h0M542.6 408.1h0M454.5 346.6h0M497.5 453.1h0M500.5 449.5h0M556.1 477.2h0M460.7 458.1h0M408.7 507.3h0M569.3 463.5h0M572.0 449.6h0M411.3 452.5h0M495.3 445.6h0M515.3 368.1h0M485.5 424.8h0M424.3 418.5h0M412.2 438.6h0M472.6 371.8h0M316.6 525.1h0M460.1 495.8h0M555.9 470.3h0M404.0 512.5h0M533.7 398.3h0M278.7 518.9h0M241.8 527.3h0M440.1 492.9h0M528.7 356.7h0M362.1 496.1h0M564.6 360.4h0M489.0 471.1h0M229.8 545.4h0M372.9 450.2h0M513.5 433.3h0M316.4 527.4h0M506.7 492.6h0M564.9 468.1h0M407.1 500.0h0M558.0 462.7h0M551.0 441.5h0M588.8 355.9h0M439.9 449.9h0M322.5 499.4h0M496.9 491.9h0M570.2 366.9h0M551.2 441.1h0M306.2 516.8h0M319.0 522.6h0M536.8 426.9h0M397.6 479.8h0M510.0 489.5h0M261.2 535.4h0M217.2 550.3h0M487.3 473.6h0M561.1 476.8h0M369.1 468.8h0M458.1 345.2h0M572.5 441.4h0M395.9 509.5h0M556.8 456.7h0M576.4 335.1h0M553.6 400.9h0M554.3 424.4h0M459.6 356.7h0M459.5 410.1h0M433.2 456.8h0M503.2 483.2h0M393.2 479.3h0M473.3 403.7h0M443.8 476.3h0M347.3 502.9h0M457.8 441.9h0M411.7 499.3h0M309.3 526.2h0M452.8 516.4h0M586.6 298.1h0M516.1 394.8h0M504.5 503.6h0M506.1 391.9h0M517.7 330.0h0M566.3 455.5h0M505.7 413.3h0M515.7 309.2h0M529.7 396.8h0M503.3 449.3h0M456.1 510.1h0M561.3 334.0h0M380.6 455.3h0M514.2 360.7h0M557.1 324.9h0M223.8 547.7h0M456.2 520.4h0M218.4 550.7h0M557.9 462.9h0M570.6 276.5h0M548.2 458.1h0M236.5 532.5h0M534.5 428.3h0M563.4 394.1h0M552.2 462.6h0M548.9 439.5h0M507.6 359.7h0M448.3 480.9h0M326.9 492.5h0M482.1 444.2h0M562.6 436.4h0M364.1 472.1h0M547.1 436.6h0M278.7 521.0h0M381.9 459.5h0M546.2 417.7h0M321.3 515.5h0M446.6 495.8h0M554.2 448.7h0M566.2 266.4h0M313.7 528.5h0M415.5 436.1h0M580.2 350.8h0M397.8 501.7h0M512.1 415.8h0M508.6 458.9h0M264.4 538.9h0M384.6 464.3h0M452.1 500.3h0M587.5 281.7h0M437.6 446.1h0M542.1 405.0h0M366.0 515.4h0M472.5 344.9h0M459.7 384.9h0M541.9 417.9h0M342.2 497.3h0M557.6 473.6h0M214.3 548.0h0M361.7 524.6h0M411.4 482.2h0M568.4 430.1h0M530.9 384.8h0M569.0 237.0h0M362.5 508.3h0M585.1 355.2h0M476.0 393.9h0M443.3 482.0h0M457.2 492.3h0M227.9 542.9h0M209.9 546.0h0M364.0 468.4h0M402.5 509.5h0M566.6 450.2h0M486.4 474.0h0M459.6 352.9h0M564.5 403.4h0M549.2 424.1h0M573.1 388.4h0M575.8 364.9h0M498.3 472.5h0M538.3 376.5h0M573.5 311.0h0M258.1 532.7h0M310.3 522.5h0M452.0 360.5h0M459.2 359.3h0M452.3 509.9h0M389.5 488.6h0M412.7 397.0h0M527.1 343.3h0M356.8 515.0h0M310.3 524.2h0M551.2 436.1h0M459.9 450.7h0M577.5 386.9h0M495.9 454.4h0M410.6 467.4h0M407.4 506.3h0M219.3 551.3h0M455.2 387.8h0M473.0 389.8h0M585.7 311.4h0M523.4 345.9h0M403.5 501.9h0M322.9 502.1h0M435.5 474.1h0M493.5 448.8h0M457.8 390.5h0M234.6 535.4h0M568.8 380.5h0M209.6 545.5h0M539.6 426.6h0M563.7 465.0h0M560.5 330.6h0M544.8 413.6h0M366.4 454.7h0M310.9 523.5h0M555.6 440.6h0M394.5 489.0h0M564.9 363.5h0M273.8 534.8h0M526.4 364.3h0M399.2 504.8h0M512.6 356.2h0M315.3 528.1h0M505.3 501.8h0M411.8 443.6h0M470.4 387.0h0M451.7 493.0h0M318.2 530.4h0M558.9 463.6h0M318.9 523.4h0M443.9 463.1h0M288.5 505.8h0M583.5 308.2h0M569.7 485.7h0M584.7 327.2h0M558.3 441.7h0M302.4 512.7h0M495.7 462.3h0M554.1 447.4h0M210.0 546.3h0M299.7 510.9h0M479.2 443.7h0M533.0 397.3h0M559.6 405.2h0M506.1 490.8h0M581.8 288.9h0M448.5 494.7h0M295.0 506.3h0M398.9 495.2h0M567.4 464.3h0M551.6 404.4h0M571.7 265.3h0M270.6 536.8h0M451.3 386.6h0M569.0 466.2h0M405.1 507.2h0M298.1 512.4h0M523.4 365.9h0M511.5 460.4h0M375.0 446.3h0M538.6 409.4h0M522.6 336.0h0M443.2 479.7h0M560.9 457.3h0M571.2 423.1h0M178.6 555.3h0M572.1 385.2h0M405.2 506.2h0M530.4 351.4h0M572.1 283.4h0M509.3 412.2h0M268.6 539.6h0M588.2 357.1h0M559.6 447.5h0M533.9 373.8h0M460.7 442.3h0M580.9 268.4h0M508.6 488.3h0M555.1 456.3h0M508.6 401.9h0M517.6 350.9h0M562.9 485.2h0M515.8 351.3h0M407.9 469.7h0M441.2 477.9h0M559.2 396.8h0M568.1 341.8h0M410.8 431.8h0M498.6 486.4h0M469.9 396.3h0M330.4 475.1h0M407.5 509.2h0M556.9 373.5h0M533.4 404.1h0M493.2 464.4h0M228.0 544.9h0M452.4 468.6h0M589.8 371.6h0M458.3 497.2h0M309.6 521.0h0M560.2 458.3h0M450.6 509.2h0M559.4 436.6h0M442.2 496.6h0M574.1 307.4h0M571.6 401.8h0M367.0 465.0h0M405.8 513.5h0M323.3 499.6h0M459.2 463.5h0M503.4 495.6h0M533.4 365.0h0M416.9 400.0h0M371.3 449.9h0M450.1 488.8h0M541.0 395.3h0M277.0 530.9h0M258.3 534.4h0M262.6 536.5h0M425.7 436.6h0M414.1 426.8h0M403.5 509.0h0M452.9 473.2h0M501.3 361.4h0M413.7 425.9h0M458.2 353.6h0M380.0 475.0h0M365.8 462.1h0M452.7 518.3h0M462.1 359.2h0M568.1 321.7h0M357.9 522.4h0M535.2 376.7h0M251.7 526.2h0M312.7 529.0h0M254.8 529.0h0M450.5 508.5h0M470.4 365.0h0M361.6 513.0h0M509.5 324.9h0M570.0 451.9h0M402.4 504.2h0M513.8 407.4h0M526.4 371.8h0M213.2 547.5h0M458.2 363.6h0M265.3 537.4h0M451.8 443.5h0M532.4 364.3h0M462.8 366.0h0M318.6 519.1h0M535.9 357.0h0M351.4 513.6h0M503.6 386.9h0M549.9 456.1h0M269.5 539.0h0M459.8 344.7h0M565.0 379.5h0M576.7 262.0h0M500.0 364.0h0M448.7 514.8h0M562.3 429.0h0M482.8 417.0h0M523.6 367.7h0M502.7 450.4h0M564.5 280.9h0M260.7 536.9h0M565.0 419.5h0M416.2 427.2h0M366.0 483.7h0M506.8 469.7h0M573.5 266.7h0M504.8 482.2h0M406.2 444.6h0M509.2 328.2h0M397.7 498.2h0M569.2 407.5h0M588.8 295.7h0M462.2 420.4h0M433.8 443.2h0M510.9 420.6h0M407.9 483.0h0M405.6 455.8h0M560.2 462.3h0M485.9 403.4h0M254.2 529.5h0M371.8 444.6h0M357.6 520.0h0M345.7 501.3h0M449.8 422.8h0M562.6 452.6h0M570.9 257.2h0M429.2 429.6h0M319.3 530.7h0M303.2 514.7h0M366.1 492.6h0M423.4 412.5h0M406.7 454.1h0M274.8 529.9h0M511.8 331.7h0M554.6 463.7h0M493.1 475.4h0M462.4 435.1h0M501.2 496.7h0M215.0 548.9h0M544.5 414.5h0M474.5 403.3h0M542.8 416.9h0M222.8 547.1h0M586.8 302.7h0M564.8 459.1h0M570.7 463.7h0M504.2 491.1h0M445.3 474.4h0M321.2 509.2h0M435.3 454.6h0M226.6 543.2h0M572.8 294.2h0M325.2 487.8h0M319.4 522.3h0M282.6 517.2h0M449.9 452.3h0M568.6 473.2h0M569.9 387.9h0M555.1 363.2h0M505.3 449.3h0M578.4 341.0h0M349.7 497.7h0M495.9 479.3h0M452.7 420.5h0M505.4 452.3h0M554.9 462.0h0M499.5 492.0h0M556.8 444.4h0M571.8 327.3h0M305.4 517.2h0M436.5 481.7h0M586.1 322.6h0M361.6 506.5h0M320.1 524.8h0M506.6 495.3h0M489.4 450.7h0M346.2 496.0h0M424.0 420.8h0M451.0 475.5h0M538.4 401.7h0M361.3 482.6h0M531.2 345.3h0M487.8 468.6h0M491.9 479.6h0M410.3 475.8h0M277.7 526.0h0M403.9 499.6h0M559.8 309.9h0M574.4 352.3h0M533.0 403.5h0M564.0 416.2h0M391.0 492.3h0M498.9 467.2h0M515.1 460.9h0M359.6 523.7h0M277.2 523.9h0M228.0 541.0h0M564.7 473.4h0M480.5 434.8h0M509.1 492.6h0M560.1 391.4h0M403.8 490.9h0M429.8 468.2h0M504.8 463.9h0M396.4 494.3h0M534.1 416.2h0M419.1 399.2h0M350.5 509.3h0M391.1 492.9h0M575.9 427.1h0M562.8 436.0h0M468.7 381.3h0M588.2 351.1h0M556.8 429.8h0M572.4 416.3h0M590.9 401.5h0M512.3 317.9h0M580.8 274.0h0M572.5 452.0h0M217.6 548.7h0M453.5 521.1h0M223.0 549.4h0M548.3 414.3h0M462.5 367.3h0M549.6 416.4h0M364.3 493.2h0M518.2 325.3h0M561.9 462.8h0M451.6 486.3h0M484.3 430.5h0M343.4 507.7h0M502.9 496.4h0M577.2 336.6h0M563.6 451.2h0M586.2 288.2h0M267.3 540.3h0M487.4 462.6h0M532.9 358.3h0M523.9 377.3h0M280.0 520.8h0M501.4 382.9h0M406.1 444.2h0M403.8 513.0h0M414.7 441.2h0M297.7 513.4h0M463.3 366.5h0M406.1 452.2h0M369.4 460.4h0M427.8 446.9h0M495.8 466.8h0M569.5 398.3h0M408.4 459.3h0M543.7 385.7h0M297.3 511.5h0M527.4 367.1h0M566.8 478.5h0M570.6 335.6h0M537.1 415.0h0M477.2 422.3h0M325.0 492.0h0M523.2 323.7h0M429.4 451.2h0M517.6 315.1h0M404.2 488.9h0M562.1 410.1h0M554.7 479.5h0M555.8 448.5h0M546.5 407.6h0M303.7 522.0h0M270.1 538.8h0M341.3 495.6h0M496.5 481.0h0M567.7 466.1h0M509.1 325.8h0M502.2 379.0h0M533.1 409.1h0M489.5 427.4h0M457.2 344.8h0M273.2 536.1h0M554.6 391.3h0M482.9 425.0h0M580.2 279.2h0M238.3 531.2h0M366.9 484.8h0M238.2 530.7h0M476.9 364.6h0M308.5 517.7h0M579.9 327.6h0M556.1 345.4h0M452.2 416.9h0M516.5 343.4h0M432.6 473.6h0M454.2 479.8h0M494.0 452.2h0M328.5 475.9h0M194.0 549.5h0M381.4 441.4h0M368.1 450.4h0M562.5 266.7h0M314.7 522.4h0M320.1 500.3h0M505.0 405.5h0M370.2 451.7h0M504.5 441.4h0M557.3 467.6h0M386.9 480.7h0M499.4 397.4h0M512.4 325.0h0M571.1 406.9h0M324.0 492.3h0M509.8 485.5h0M507.5 414.9h0M553.0 468.2h0M253.1 527.3h0M558.2 450.3h0M387.6 481.6h0M544.2 413.9h0M281.4 516.8h0M506.0 493.3h0M488.3 440.3h0M507.4 364.9h0M302.8 517.9h0M376.7 454.5h0M570.0 411.4h0M321.5 496.6h0M304.5 522.5h0M461.2 373.3h0M501.2 409.5h0M567.2 431.1h0M548.8 442.2h0M498.7 493.4h0M479.0 430.7h0M571.2 260.5h0M561.9 458.6h0M301.0 519.8h0M510.0 437.0h0M529.2 376.7h0M360.1 495.4h0M573.9 321.1h0M484.2 451.1h0M404.3 458.8h0M525.3 354.3h0M515.4 302.9h0M580.6 261.5h0M453.0 519.1h0M574.3 263.8h0M217.5 550.4h0M303.1 518.0h0M474.5 386.6h0M437.6 476.8h0M583.3 273.9h0M299.3 511.4h0M378.6 461.4h0M481.0 442.7h0M572.8 292.9h0M405.0 498.6h0M503.2 385.1h0M568.5 286.1h0M558.8 366.3h0M452.8 364.8h0M474.6 378.3h0M561.9 410.9h0M460.0 455.6h0M361.4 506.0h0M584.4 313.8h0M479.8 389.1h0M491.6 476.9h0M277.2 525.4h0M504.1 488.6h0M453.6 500.5h0M450.0 465.7h0M556.7 460.8h0M579.5 306.3h0M421.5 428.5h0M553.4 461.3h0M399.0 500.3h0M523.6 323.4h0M573.5 328.4h0M574.9 288.7h0M364.0 483.3h0M516.4 308.1h0M503.9 462.1h0M363.4 463.1h0M436.1 462.9h0M572.7 360.7h0M371.0 465.3h0M395.7 492.7h0M438.6 468.6h0M453.1 518.5h0M523.5 328.5h0M571.8 259.6h0M508.1 499.3h0M257.7 530.5h0M484.8 420.2h0M583.4 381.2h0M357.8 521.6h0M506.7 396.9h0M243.3 527.1h0M253.2 530.7h0M410.6 448.1h0M558.9 297.6h0M541.7 452.6h0M493.1 450.9h0M363.1 520.8h0M574.0 396.4h0M448.1 497.7h0M533.0 410.8h0M548.6 426.0h0M476.3 396.7h0M256.6 533.2h0M250.8 527.6h0M384.7 468.7h0M557.5 389.1h0M359.6 517.4h0M546.2 442.8h0M556.9 462.7h0M571.5 296.3h0M465.7 377.4h0M319.1 510.9h0M482.7 434.7h0M365.0 505.8h0M570.4 263.9h0M284.0 517.7h0M560.9 427.3h0M499.7 493.5h0M450.3 414.2h0M493.8 479.4h0M581.9 260.2h0M300.2 513.7h0M512.2 322.2h0M558.4 339.5h0M344.2 495.3h0M510.9 411.6h0M402.2 515.9h0M501.3 459.6h0M478.9 417.4h0M578.6 384.6h0M589.8 345.7h0M557.3 348.5h0M306.2 518.7h0M511.0 446.3h0M337.5 493.3h0M459.0 375.3h0M550.0 434.2h0M450.4 425.4h0M566.7 323.0h0M493.0 431.8h0M316.6 526.5h0M484.0 443.0h0M453.5 461.0h0M563.9 258.9h0M579.1 358.7h0M398.7 509.8h0M363.0 497.6h0M498.9 377.0h0M361.7 509.1h0M514.4 351.5h0M456.5 422.6h0M580.3 292.5h0M394.0 492.2h0M210.9 548.1h0M559.3 464.5h0M223.8 547.7h0M247.2 524.0h0M513.8 396.4h0M493.8 465.4h0M408.7 510.2h0M435.9 485.3h0M465.8 368.2h0M578.3 286.8h0M565.3 478.7h0M419.5 390.4h0M367.1 476.9h0M533.5 392.5h0M471.1 391.6h0M395.9 494.3h0M575.1 301.3h0M540.0 435.6h0M470.2 359.8h0M397.7 498.7h0M570.9 265.9h0M537.8 398.9h0M231.3 541.7h0M565.9 355.1h0M485.3 442.0h0M455.0 518.2h0M574.1 361.3h0M482.2 410.9h0M536.9 405.3h0M583.0 346.5h0M458.7 489.7h0M407.3 484.6h0M405.7 492.1h0M386.1 469.9h0M532.7 390.5h0M560.2 461.4h0M568.2 419.0h0M462.7 338.2h0M581.0 299.6h0M457.6 448.4h0M515.9 397.2h0M269.7 541.3h0M366.9 507.8h0M561.9 400.5h0M574.0 263.8h0M455.2 491.4h0M506.1 343.4h0M562.0 400.2h0M558.9 423.9h0M461.5 409.7h0M500.1 369.7h0M294.7 509.4h0M562.7 454.5h0M504.0 486.9h0M556.8 481.2h0M503.7 353.5h0M550.7 471.2h0M552.1 424.0h0M565.8 476.5h0M546.6 452.8h0M265.5 537.4h0M412.2 433.5h0M576.5 275.8h0M414.6 425.8h0M356.4 518.5h0M566.9 382.6h0M584.4 290.5h0M504.9 435.1h0M542.7 440.6h0M273.9 530.9h0M278.9 526.9h0M437.6 481.0h0M539.5 400.3h0M500.3 442.3h0M576.8 281.1h0M589.4 277.5h0M479.1 380.0h0M480.6 385.6h0M187.1 551.5h0M407.8 473.7h0M523.6 347.8h0M457.5 360.6h0M412.8 469.3h0M511.9 405.7h0M318.8 518.2h0M395.0 498.9h0M534.7 422.7h0M451.0 424.8h0M524.4 362.9h0M170.4 557.2h0M400.9 490.9h0M404.0 478.6h0M573.3 294.8h0M574.1 275.1h0M458.8 433.5h0M513.8 395.3h0M565.8 449.0h0M458.3 350.9h0M295.8 506.4h0M426.0 430.5h0M567.2 378.6h0M317.4 525.9h0M474.0 389.9h0M227.3 544.1h0M561.3 313.4h0M221.5 551.8h0M505.8 426.6h0M491.1 452.2h0M508.0 472.8h0M402.5 503.5h0M428.9 415.2h0M486.2 405.6h0M414.2 457.6h0M488.0 475.0h0M547.9 418.3h0M531.6 405.5h0M536.8 365.7h0M454.4 513.9h0M255.2 531.9h0M526.0 381.6h0M510.1 396.5h0M489.9 488.3h0M320.8 494.3h0M399.5 507.6h0M232.3 540.7h0M486.4 447.7h0M458.2 479.7h0M479.3 438.1h0M386.3 477.0h0M540.8 438.3h0M320.0 519.4h0M571.2 258.8h0M560.0 412.1h0M323.5 507.1h0M489.4 461.7h0M307.3 520.8h0M363.0 499.2h0M553.0 445.0h0M539.7 428.6h0M567.0 406.4h0M543.9 415.0h0M573.9 302.0h0M556.9 396.2h0M260.7 532.4h0M324.6 504.2h0M570.2 304.3h0M555.8 478.7h0M260.2 533.1h0M515.0 417.3h0M365.8 469.7h0M543.7 406.0h0M397.5 504.1h0M509.2 465.6h0M586.8 301.0h0M459.6 492.0h0M417.3 409.3h0M301.8 513.3h0M569.1 252.7h0M230.8 539.3h0M574.9 394.9h0M316.9 524.1h0M364.0 477.9h0M571.6 308.2h0M576.4 295.5h0M361.3 481.8h0M575.1 294.0h0M443.3 499.5h0M414.3 399.2h0M409.3 452.5h0M550.8 443.1h0M424.3 408.2h0M398.1 494.6h0M275.7 528.5h0M451.9 486.2h0M489.3 465.2h0M234.1 536.2h0M558.1 364.4h0M416.0 400.8h0M470.6 378.1h0M310.6 527.2h0M327.9 479.6h0M465.9 367.2h0M491.2 445.8h0M410.2 506.1h0M487.9 455.0h0M537.1 368.0h0M547.1 426.5h0M265.6 534.6h0M349.8 512.0h0M359.6 518.2h0M563.9 421.2h0M570.7 422.1h0M479.9 386.6h0M534.9 396.4h0M367.5 497.7h0M510.5 468.6h0M508.0 314.3h0M471.0 398.4h0M177.4 555.0h0M498.8 434.5h0M479.6 430.4h0M563.7 314.6h0M220.0 548.6h0M457.9 473.8h0M396.4 506.6h0M585.4 370.3h0M573.3 251.3h0M515.5 370.8h0M564.9 246.8h0M499.8 478.8h0M576.4 396.6h0M320.1 517.2h0M489.5 448.5h0M533.7 416.9h0M452.8 449.8h0M522.3 374.3h0M224.3 548.6h0M240.4 531.5h0M575.3 328.2h0M565.0 457.8h0M313.0 522.7h0M261.2 534.5h0M452.8 509.9h0M528.9 382.0h0M315.1 522.5h0M492.6 449.9h0M377.8 454.0h0M562.3 364.2h0M508.1 428.9h0M369.5 488.4h0M520.8 356.9h0M499.3 491.7h0M570.6 451.6h0M274.0 532.3h0M338.1 490.8h0M506.0 346.3h0M503.3 493.4h0M558.2 453.4h0M568.5 313.9h0M568.4 253.9h0M517.6 324.0h0M409.0 497.0h0M390.4 476.2h0M567.3 425.0h0M475.1 381.6h0M263.1 539.4h0M499.5 490.6h0M266.9 538.0h0M548.4 451.9h0M446.1 473.6h0M454.0 402.9h0M544.8 420.4h0M430.9 470.5h0M442.6 474.8h0M444.8 475.7h0M489.0 445.4h0M571.5 370.7h0M508.4 332.6h0M495.6 470.6h0M574.2 335.2h0M522.7 329.9h0M186.8 552.5h0M567.4 393.5h0M566.5 409.4h0M476.1 401.6h0M363.2 493.1h0M265.3 539.7h0M411.4 421.4h0M397.6 500.7h0M523.2 336.1h0M298.6 509.5h0M579.2 346.5h0M444.9 489.8h0M501.5 506.2h0M501.3 491.4h0M533.9 402.6h0M538.2 427.4h0M509.8 490.2h0M317.7 516.8h0M585.2 322.7h0M504.0 490.7h0M454.1 492.8h0M520.9 366.8h0M329.7 478.9h0M532.8 368.9h0M369.3 483.4h0M577.7 330.4h0M458.3 381.2h0M337.7 485.3h0M530.7 359.5h0M323.3 514.2h0M510.3 377.7h0M408.1 519.3h0M349.0 505.6h0M514.9 327.5h0M191.6 550.3h0M430.9 429.0h0M444.1 493.4h0M462.7 347.1h0M549.6 408.2h0M587.0 318.2h0M561.4 385.5h0M558.8 460.4h0M362.5 521.3h0M482.4 461.4h0M507.2 439.4h0M547.9 448.2h0M572.4 455.5h0M180.3 554.0h0M370.8 461.6h0M365.3 487.1h0M527.3 337.1h0M572.7 304.1h0M227.7 545.1h0M508.1 458.5h0M562.3 450.0h0M320.6 521.3h0M541.5 412.0h0M573.8 300.0h0M553.3 416.8h0M202.5 544.6h0M576.1 281.4h0M499.2 457.2h0M512.9 337.2h0M376.0 447.4h0M394.6 486.0h0M194.9 548.6h0M271.2 537.0h0M584.4 328.7h0M500.2 511.3h0M503.3 393.7h0M500.1 494.1h0M309.6 526.9h0M482.2 442.9h0M558.0 438.1h0M271.5 535.6h0M567.4 378.8h0M452.4 509.9h0M450.3 495.9h0M551.1 467.5h0M461.7 424.3h0M192.6 551.1h0M369.9 436.9h0M500.7 501.2h0M491.6 482.2h0M561.7 455.1h0M501.4 469.3h0M571.5 436.8h0M197.5 548.1h0M481.6 389.9h0M356.0 519.5h0M499.8 457.7h0M190.6 548.9h0M578.3 264.0h0M396.5 490.1h0M573.0 253.0h0M410.4 499.6h0M502.2 481.5h0M455.1 492.7h0M499.6 475.7h0M556.9 457.7h0M455.6 412.4h0M493.0 468.5h0M499.2 452.6h0M395.2 505.5h0M448.6 492.9h0M445.2 501.6h0M561.5 283.2h0M206.9 545.1h0M558.8 380.7h0M533.5 419.8h0M273.5 534.4h0M567.2 289.2h0M464.3 398.4h0M545.1 429.6h0M453.6 459.7h0M272.4 535.7h0M555.8 416.0h0M272.7 536.1h0M219.4 548.9h0M561.5 354.9h0M564.8 369.1h0M564.8 258.3h0M315.9 528.5h0M567.0 376.3h0M342.6 506.4h0M541.9 443.2h0M457.5 373.7h0M511.4 463.7h0M500.2 472.7h0M571.5 382.4h0M504.9 312.5h0M443.4 492.5h0M557.4 453.2h0M525.0 393.8h0M570.9 440.4h0M429.7 437.1h0M563.4 459.5h0M390.5 489.1h0M346.9 499.8h0M275.5 534.5h0M491.8 471.1h0M416.7 436.4h0M517.6 349.0h0M488.8 459.1h0M554.7 423.2h0M368.8 443.1h0M272.4 536.3h0M409.3 482.4h0M512.0 398.9h0M553.7 456.4h0M553.6 420.4h0M572.4 294.2h0M425.1 426.6h0M403.4 504.5h0M366.3 459.0h0M514.8 321.5h0M559.2 456.2h0M233.4 537.0h0M385.8 493.7h0M550.7 461.3h0M576.1 389.3h0M550.5 439.5h0M408.6 444.8h0M409.8 425.6h0M509.0 484.2h0M566.3 454.0h0M245.2 524.3h0M437.9 492.8h0M554.4 435.4h0M297.1 509.4h0M514.4 326.7h0M506.3 485.4h0M314.4 521.2h0M283.8 510.4h0M576.1 350.3h0M559.2 410.8h0M452.0 486.8h0M564.6 285.6h0M363.4 521.2h0M291.6 510.5h0M560.4 466.1h0M552.0 433.2h0M574.8 366.3h0M501.8 458.1h0M491.0 439.8h0M447.2 488.5h0M362.3 512.4h0M589.8 354.7h0M561.8 450.6h0M278.1 527.2h0M368.8 485.8h0M551.3 413.9h0M542.0 444.2h0M499.0 424.7h0M537.5 429.1h0M395.4 502.2h0M500.3 474.2h0M451.6 501.2h0M501.1 339.5h0M519.2 345.0h0M327.0 489.3h0M267.3 536.9h0M459.1 466.1h0M269.8 538.1h0M319.2 508.9h0M455.7 367.3h0M212.6 547.7h0M488.6 463.6h0M312.0 531.4h0M324.1 511.1h0M460.5 448.6h0M407.5 431.8h0M480.0 418.5h0M397.8 504.3h0M307.5 520.8h0M362.9 526.4h0M378.1 457.3h0M506.1 487.5h0M397.6 493.1h0M559.9 458.9h0M582.2 336.8h0M505.3 500.7h0M524.5 365.3h0M574.7 261.3h0M529.9 377.4h0M538.3 374.7h0M579.6 304.1h0M455.7 456.6h0M359.8 519.1h0M558.6 429.3h0M558.7 451.6h0M178.8 554.1h0M515.6 398.5h0M277.2 528.4h0M458.2 481.9h0M443.3 494.9h0M456.5 515.3h0M473.8 415.3h0M569.0 255.0h0M502.5 404.8h0M565.0 410.9h0M368.9 485.1h0M557.2 464.4h0M433.3 438.4h0M574.4 284.9h0M562.5 481.1h0M299.1 511.6h0M496.0 465.9h0M558.1 463.3h0M494.5 460.2h0M591.0 338.5h0M562.5 463.5h0M500.6 474.3h0M579.0 265.4h0M587.4 284.8h0M517.3 321.7h0M566.1 362.1h0M405.1 428.0h0M408.5 497.2h0M380.3 460.8h0M439.6 486.4h0M180.5 553.5h0M577.8 306.2h0M195.0 549.4h0M386.8 487.1h0M367.3 442.5h0M443.6 472.5h0M577.6 316.7h0M485.7 409.9h0M565.6 409.3h0M536.3 387.8h0M569.1 389.2h0M567.5 279.1h0M473.4 405.9h0M451.6 521.8h0M558.5 450.2h0M364.0 499.2h0M576.1 285.8h0M554.9 448.3h0M273.0 533.5h0M230.4 538.6h0M474.9 399.5h0M290.4 504.0h0M567.4 419.2h0M410.5 426.8h0M331.5 479.9h0M429.8 456.8h0M563.9 451.6h0M430.8 445.8h0M188.9 551.0h0M525.0 363.9h0M578.3 310.6h0M330.3 480.7h0M372.0 450.0h0M416.2 398.1h0M385.7 489.2h0M565.6 459.9h0M575.0 263.5h0M345.7 503.9h0M512.3 448.1h0M559.7 443.1h0M481.1 409.3h0M353.9 514.4h0M455.0 518.4h0M525.0 387.8h0M496.3 492.5h0M569.5 254.6h0M346.1 493.6h0M353.5 518.9h0M406.6 494.5h0M501.8 448.5h0M505.6 454.0h0M490.8 430.0h0M508.7 446.9h0M570.9 340.6h0M527.3 372.0h0M324.2 509.8h0M244.4 524.0h0M369.3 451.4h0M224.1 548.1h0M414.4 443.3h0M373.7 443.8h0M319.6 521.5h0M308.6 521.8h0M556.0 463.4h0M483.3 442.5h0M566.7 454.1h0M500.2 450.7h0M414.3 405.1h0M497.8 417.0h0M479.7 431.8h0M485.2 424.7h0M363.7 504.4h0M219.4 548.9h0M498.5 472.1h0M549.2 460.8h0M500.8 464.9h0M567.9 475.6h0M396.9 482.7h0M576.8 291.6h0M452.5 514.5h0M410.5 448.2h0M536.9 405.4h0M561.9 274.0h0M555.8 343.5h0M511.6 305.5h0M431.9 430.6h0M373.6 465.0h0M234.1 536.1h0M587.4 317.3h0M278.6 527.3h0M182.6 552.7h0M363.7 516.1h0M227.6 544.5h0M434.6 487.9h0M555.2 446.0h0M346.9 492.6h0M507.6 505.4h0M389.0 486.2h0M405.9 493.7h0M557.2 470.4h0M558.9 473.7h0M503.9 353.7h0M207.5 546.8h0M500.8 497.1h0M514.7 331.4h0M316.1 524.0h0M480.9 417.6h0M508.4 395.1h0M460.6 453.2h0M567.8 402.8h0M588.1 317.3h0M571.0 269.4h0M494.2 444.3h0M565.5 365.2h0M412.2 497.0h0M565.4 252.6h0M406.4 510.3h0M526.3 366.4h0M457.0 344.3h0M439.1 465.7h0M463.5 404.5h0M569.6 347.8h0M214.4 548.3h0M172.1 556.2h0M442.4 475.0h0M444.6 508.4h0M464.5 448.7h0M532.2 407.6h0M365.1 502.0h0M558.0 457.7h0M385.5 480.8h0M563.9 369.9h0M401.2 507.2h0M508.8 495.2h0M285.6 514.3h0M506.1 501.9h0M561.3 399.5h0M571.4 285.4h0M460.3 426.0h0M493.5 486.0h0M590.0 368.0h0M575.1 253.6h0M496.2 488.4h0M570.1 464.1h0M232.5 539.1h0M445.7 504.4h0M447.5 503.9h0M527.9 398.0h0M577.8 272.6h0M555.9 353.3h0M534.0 354.1h0M516.3 353.9h0M585.2 307.2h0M369.7 447.8h0M461.0 358.9h0M407.3 509.2h0M351.8 504.5h0M559.7 315.1h0M563.7 329.4h0M561.6 306.1h0M503.1 490.1h0M574.5 322.6h0M577.6 269.5h0M588.8 351.1h0M402.3 500.9h0M459.3 329.1h0M554.0 437.4h0M587.7 352.9h0M509.4 485.7h0M309.8 520.4h0M528.2 352.8h0M497.0 489.3h0M556.5 432.6h0M490.2 467.0h0M482.0 408.0h0M449.8 498.0h0M563.1 395.3h0M512.1 339.3h0M403.7 512.3h0M485.5 418.0h0M564.7 417.4h0M557.3 446.8h0M543.6 445.1h0M557.6 457.0h0M572.8 403.0h0M427.1 448.2h0M351.1 512.9h0M408.7 506.1h0M487.7 431.8h0M578.1 300.9h0M572.7 404.4h0M575.6 399.0h0M588.7 377.3h0M506.3 423.8h0M342.5 492.6h0M590.7 385.1h0M436.6 469.4h0M548.8 453.6h0M561.6 270.4h0M516.1 428.5h0M406.8 490.9h0M550.3 410.6h0M376.7 452.3h0M576.4 361.2h0M302.8 514.9h0M567.2 462.1h0M462.1 352.8h0M181.1 552.5h0M532.7 385.8h0M557.4 438.4h0M473.1 387.5h0M486.0 425.4h0M406.1 510.7h0M564.7 407.2h0M363.4 508.7h0M566.0 385.7h0M507.1 482.1h0M585.0 327.9h0M561.7 388.9h0M217.8 549.9h0M505.8 440.0h0M559.0 460.7h0M230.0 542.7h0M555.4 405.7h0M472.2 388.4h0M258.0 532.3h0M560.2 407.0h0M271.9 533.7h0M448.6 491.2h0M209.7 546.1h0M410.6 467.7h0M507.6 349.3h0M379.7 468.9h0M438.2 477.2h0M453.4 454.5h0M428.5 412.3h0M550.3 450.2h0M456.4 397.7h0M320.2 497.5h0M456.3 412.1h0M315.8 524.1h0M444.7 481.5h0M274.9 532.7h0M459.0 364.2h0M454.9 421.2h0M268.8 539.0h0M560.2 446.3h0M218.8 549.2h0M528.2 347.2h0M403.3 513.8h0M454.0 518.4h0M586.3 274.5h0M349.2 503.2h0M561.9 354.1h0M411.2 471.5h0M325.6 484.9h0M570.3 251.0h0M559.8 441.8h0M570.6 416.1h0M564.5 342.5h0M467.8 369.7h0M509.9 487.9h0M360.1 511.6h0M227.6 542.0h0M583.3 318.5h0M343.4 498.6h0M574.4 319.4h0M339.2 490.2h0M570.2 328.1h0M327.3 499.2h0M575.5 333.4h0M352.9 510.8h0M547.7 440.0h0M413.2 468.9h0M492.7 477.7h0M220.1 548.2h0M528.0 348.8h0M444.4 477.7h0M381.5 459.5h0M450.7 458.4h0M573.3 345.0h0M495.0 441.1h0M458.4 448.5h0M477.4 409.6h0M411.2 464.0h0M472.8 411.6h0M274.2 527.6h0M433.0 468.9h0M458.3 424.8h0M413.0 481.9h0M363.4 514.8h0M445.9 500.1h0M484.5 429.1h0M405.8 511.2h0M260.4 538.5h0M439.8 466.9h0M514.2 350.8h0M399.6 502.8h0M378.2 464.2h0M509.7 309.2h0M460.2 469.7h0M397.5 492.8h0M361.3 515.7h0M571.0 399.5h0M488.3 463.9h0M455.1 514.2h0M560.2 446.2h0M407.4 463.6h0M437.4 464.5h0M431.7 463.6h0M413.5 462.1h0M551.4 445.9h0M437.1 438.1h0M364.9 512.6h0M558.0 436.6h0M569.1 382.6h0M485.7 399.0h0M470.9 387.5h0M354.0 506.7h0M535.8 414.7h0M416.9 413.3h0M560.4 427.6h0M481.5 419.0h0M461.0 479.8h0M222.7 547.9h0M554.0 456.3h0M384.2 482.3h0M489.7 471.2h0M531.1 370.6h0M562.7 413.3h0M402.8 473.9h0M396.7 486.8h0M405.1 510.7h0M454.3 515.9h0M510.6 422.4h0M310.1 526.2h0M558.4 344.2h0M530.3 355.1h0M457.6 350.9h0M288.4 499.5h0M533.6 407.2h0M360.9 528.5h0M394.5 505.5h0M556.0 441.7h0M433.1 471.5h0M570.0 448.8h0M589.9 338.5h0M360.4 502.8h0M404.5 498.8h0M589.9 364.4h0M352.8 517.0h0M451.6 466.8h0M499.4 390.1h0M511.5 389.0h0M479.0 411.2h0M428.5 436.2h0M457.8 426.0h0M563.3 315.8h0M265.9 538.4h0M535.5 425.1h0M562.5 328.3h0M218.0 549.6h0M499.0 470.1h0M361.7 496.1h0M450.8 484.3h0M222.6 548.5h0M347.8 499.0h0M506.3 379.0h0M196.1 546.7h0M572.2 291.6h0M557.4 380.0h0M542.1 451.1h0M324.4 498.6h0M372.9 454.7h0M476.6 370.1h0M576.0 336.2h0M453.4 517.6h0M316.2 522.4h0M526.1 377.7h0M576.2 300.3h0M556.1 438.0h0M511.6 362.3h0M216.0 548.4h0M490.6 484.9h0M226.7 543.6h0M526.0 364.4h0M564.0 462.2h0M203.4 544.1h0M569.1 261.4h0M479.8 418.1h0M567.3 326.5h0M496.4 495.5h0M460.0 371.7h0M513.4 451.6h0M451.7 402.9h0M477.3 388.6h0M516.4 323.7h0M509.6 432.2h0M525.1 394.2h0M561.3 256.8h0M259.6 535.6h0M376.5 453.7h0M560.9 450.2h0M432.3 471.9h0M396.2 500.9h0M515.8 426.2h0M510.1 387.0h0M403.6 485.6h0M568.9 454.5h0M450.4 489.4h0M500.2 497.9h0M505.9 502.3h0M322.4 499.7h0M484.3 457.5h0M331.5 479.6h0M540.0 404.2h0M503.1 356.5h0M379.8 459.8h0M516.3 342.2h0M554.6 447.6h0M589.8 359.2h0M454.7 469.1h0M262.9 535.1h0M446.1 487.6h0M522.9 332.5h0M564.8 474.5h0M432.6 451.9h0M503.9 389.3h0M448.8 503.5h0M337.3 492.7h0M514.3 311.5h0M576.9 269.9h0M586.8 354.3h0M510.8 413.8h0M392.8 498.6h0M539.2 427.4h0M387.3 480.9h0M418.5 402.1h0M409.0 509.2h0M573.9 259.5h0M495.3 457.8h0M457.7 485.4h0M280.9 515.2h0M574.8 306.2h0M360.2 516.7h0M234.9 534.0h0M482.6 412.0h0M562.9 444.9h0M575.9 307.3h0M362.1 485.4h0M528.2 377.9h0M332.0 478.8h0M571.8 454.8h0M362.0 502.5h0M474.5 411.1h0M535.8 364.5h0M382.6 479.1h0M456.5 503.2h0M404.4 474.6h0M550.9 452.5h0M359.5 519.7h0M360.4 520.6h0M389.9 492.5h0M568.8 448.3h0M331.2 472.9h0M509.3 485.5h0M505.7 506.8h0M576.9 285.0h0M573.8 391.7h0M559.1 399.3h0M452.5 424.6h0M317.3 518.8h0M518.3 342.5h0M397.7 489.1h0M535.8 428.1h0M501.1 469.3h0M506.0 321.8h0M578.7 297.5h0M451.6 508.2h0M549.7 444.3h0M362.1 491.7h0M525.4 380.3h0M479.0 378.6h0M582.9 265.5h0M391.2 485.9h0M511.0 319.0h0M527.6 337.1h0M478.3 396.2h0M551.7 413.3h0M583.1 316.8h0M345.1 507.9h0M366.0 502.9h0M398.6 512.9h0M569.5 300.7h0M455.6 473.5h0M450.6 458.7h0M461.5 342.1h0M361.0 514.5h0M561.9 322.8h0M512.1 405.9h0M420.0 396.8h0M463.4 350.5h0M320.5 507.7h0M465.0 348.3h0M587.5 292.1h0M499.5 372.1h0M456.2 339.5h0M580.5 332.6h0M588.0 282.3h0M323.1 502.1h0M366.3 467.3h0M326.9 479.9h0M391.2 493.6h0M582.9 292.1h0M559.3 439.6h0M408.7 506.9h0M534.5 414.4h0M363.8 493.4h0M487.3 447.7h0M573.4 452.8h0M405.5 453.1h0M495.6 466.3h0M505.8 497.1h0M231.6 537.7h0M458.8 488.5h0M527.3 339.6h0M558.1 446.3h0M278.6 522.8h0M577.5 251.8h0M556.9 437.5h0M414.2 427.4h0M507.1 460.4h0M238.9 528.6h0M208.2 545.6h0M387.7 474.9h0M565.9 339.2h0M556.9 301.7h0M319.1 531.2h0M506.7 383.0h0M541.6 415.5h0M576.5 277.3h0M566.6 426.2h0M324.9 501.1h0M428.3 434.7h0M569.1 246.3h0M412.9 478.8h0M501.8 414.3h0M371.0 477.5h0M407.6 481.2h0M560.2 321.9h0M235.3 536.7h0M569.2 432.0h0M341.2 498.0h0M570.3 430.2h0M260.6 531.8h0M407.5 493.3h0M420.8 402.6h0M360.5 522.7h0M272.9 530.8h0M395.9 495.9h0M570.9 416.0h0M304.0 516.6h0M571.1 295.3h0M502.9 467.8h0M560.3 365.3h0M338.5 487.9h0M425.1 432.0h0M585.1 353.6h0M485.5 456.5h0M452.0 505.1h0M271.4 536.7h0M457.9 496.8h0M440.7 490.9h0M490.0 422.2h0M487.2 424.3h0M471.6 391.7h0M452.3 406.0h0M504.7 462.8h0M488.0 461.2h0M503.1 502.3h0M572.5 387.1h0M560.7 471.4h0M407.8 434.7h0M373.0 449.5h0M457.3 493.0h0M466.5 355.2h0M591.2 383.5h0M507.6 439.1h0M578.1 328.9h0M503.7 488.9h0M530.9 391.9h0M361.8 524.1h0M444.4 465.7h0M488.8 431.6h0M408.4 521.2h0M410.1 407.8h0M513.9 453.6h0M551.8 438.5h0M561.0 466.0h0M273.9 531.4h0M502.9 324.2h0M261.3 537.4h0M502.2 431.9h0M412.0 433.4h0M514.7 435.0h0M316.2 528.5h0M448.8 474.1h0M499.3 413.0h0M511.3 335.9h0M568.1 300.2h0M555.2 455.3h0M433.8 473.3h0M556.2 444.4h0M387.1 468.3h0M493.0 490.6h0M428.2 434.3h0M523.1 348.5h0M562.9 420.9h0M498.7 434.5h0M411.0 468.9h0M568.8 437.6h0M504.6 321.7h0M264.9 538.0h0M341.6 490.1h0M533.5 357.6h0M474.4 353.4h0M430.2 426.5h0M216.6 546.6h0M576.3 388.6h0M393.3 487.4h0M589.8 355.0h0M439.5 476.9h0M437.6 472.2h0M591.0 335.7h0M395.4 485.8h0M279.4 519.3h0M445.2 481.8h0M574.3 295.4h0M553.5 450.9h0M565.7 450.7h0M264.2 536.9h0M572.0 441.3h0M362.9 491.0h0M560.8 357.7h0M543.2 438.3h0M500.9 475.3h0M235.8 532.5h0M450.7 454.0h0M548.9 461.8h0M399.9 503.6h0M451.4 511.5h0M551.3 459.9h0M214.4 548.3h0M570.1 281.0h0M502.0 488.0h0M480.4 440.4h0M430.2 445.5h0M451.7 482.2h0M499.8 475.7h0M375.6 454.3h0M389.4 495.1h0M582.4 329.7h0M533.8 425.6h0M443.3 511.8h0M454.7 457.3h0M461.7 406.3h0M575.6 284.8h0M489.1 455.1h0M588.5 286.4h0M555.4 316.6h0M201.0 544.4h0M444.2 497.4h0M482.6 400.9h0M512.7 453.0h0M460.0 463.8h0M502.5 473.3h0M590.2 370.2h0M451.5 520.4h0M574.3 327.8h0M467.9 390.0h0M495.1 479.6h0M450.5 495.5h0M205.6 544.4h0M489.3 490.1h0M488.9 454.9h0M564.5 340.8h0M361.4 490.4h0M409.4 454.9h0M571.0 251.9h0M314.7 529.0h0M569.6 274.2h0M264.2 538.4h0M590.2 353.9h0M557.5 458.5h0M176.0 556.8h0M274.7 537.3h0M548.4 418.2h0M549.9 452.1h0M567.3 258.5h0M532.3 414.0h0M455.3 492.1h0M458.6 367.6h0M544.0 410.7h0M460.8 472.4h0M282.2 523.1h0M348.0 501.9h0M366.0 496.9h0M278.2 532.0h0M403.5 453.6h0M345.5 492.8h0M563.6 374.0h0M456.9 354.3h0M361.1 518.4h0M512.7 430.5h0M559.8 461.2h0M457.5 359.9h0M557.7 327.8h0M492.4 477.0h0M558.0 480.1h0M538.1 395.1h0M370.3 446.7h0M403.5 466.2h0M437.7 485.7h0M569.8 287.4h0M405.8 514.6h0M463.5 378.1h0M361.0 500.5h0M201.2 543.7h0M509.9 416.8h0M525.1 341.4h0M562.0 463.3h0M525.7 336.7h0M243.9 524.7h0M537.9 442.2h0M406.7 503.2h0M275.1 529.2h0M360.3 520.3h0M460.8 347.6h0M446.3 495.3h0M560.0 473.9h0M324.7 492.4h0M406.5 497.6h0M230.5 539.9h0M461.5 358.8h0M217.5 548.9h0M578.6 266.2h0M448.8 450.1h0M310.1 526.7h0M284.3 511.4h0M566.0 256.7h0M320.1 520.6h0M440.8 469.6h0M383.3 482.6h0M556.7 428.9h0M224.6 545.2h0M506.0 340.7h0M364.9 497.5h0M566.2 444.9h0M506.6 357.1h0M275.9 535.2h0M518.5 324.6h0M512.8 324.6h0M507.7 351.5h0M537.7 378.8h0M558.7 454.4h0M447.0 486.9h0M489.9 448.1h0M517.9 350.5h0M573.3 318.9h0M568.2 471.8h0M366.8 470.7h0M495.0 486.4h0M361.8 516.6h0M393.1 485.6h0M449.1 454.0h0M444.0 500.0h0M500.9 493.0h0M272.4 536.1h0M569.9 433.5h0M507.8 456.6h0M514.7 320.4h0M263.4 536.7h0M587.0 377.3h0M558.9 463.2h0M513.3 347.1h0M540.6 366.9h0M501.6 372.7h0M444.0 462.5h0M402.1 479.0h0M220.0 551.3h0M453.0 502.1h0M487.5 467.1h0M486.6 406.6h0M511.8 478.7h0M502.4 507.4h0M238.1 534.5h0M456.4 510.1h0M366.1 497.8h0M562.8 404.0h0M270.2 541.6h0M263.2 535.2h0M214.4 549.5h0M192.8 550.7h0M563.9 363.7h0M451.6 479.9h0M274.5 536.7h0M576.5 278.2h0M316.8 529.4h0M569.2 426.8h0M357.6 514.4h0M303.4 515.6h0M278.8 524.9h0M429.6 445.7h0M488.5 466.5h0M344.8 503.4h0M459.6 388.1h0M359.0 518.7h0M451.1 486.5h0M516.1 314.8h0M436.0 451.5h0M448.8 512.5h0M217.3 549.6h0M485.5 449.0h0M354.6 511.7h0M442.0 459.3h0M450.5 507.5h0M452.4 406.3h0M433.7 466.0h0M249.8 526.3h0M307.1 518.5h0M275.1 525.8h0M405.1 517.5h0M558.2 461.9h0M387.8 492.6h0M544.9 396.7h0M526.3 390.9h0M455.0 513.2h0M456.9 376.9h0M469.3 370.8h0M453.7 424.5h0M322.4 504.0h0M271.5 537.3h0M564.4 256.8h0M425.3 412.9h0M575.1 367.7h0M557.8 306.5h0M495.4 493.4h0M565.3 426.5h0M461.1 447.1h0M575.0 357.1h0M567.3 453.3h0M569.5 363.1h0M404.7 515.4h0M399.2 508.5h0M446.7 520.7h0M483.2 456.3h0M565.6 279.1h0M556.0 473.1h0M582.0 333.1h0M453.1 442.8h0M497.9 498.4h0M429.0 445.9h0M540.8 404.3h0M494.8 473.3h0M572.5 426.1h0M460.8 378.2h0M475.9 393.5h0M564.1 289.8h0M528.9 352.1h0M457.8 438.2h0M484.6 411.4h0M490.4 444.6h0M455.7 386.5h0M522.6 373.9h0M433.7 483.6h0M561.5 458.1h0M315.0 526.9h0M574.1 268.4h0M260.7 536.5h0M475.3 388.6h0M570.5 411.3h0M318.7 509.4h0M501.2 345.0h0M567.5 422.1h0M457.2 442.6h0M486.9 453.9h0M560.2 461.5h0M224.4 545.8h0M261.3 537.4h0M568.1 356.1h0M489.4 471.7h0M514.6 350.0h0M512.9 358.4h0M448.0 514.7h0M502.2 484.9h0M450.6 433.9h0M536.7 376.3h0M485.4 452.2h0M557.2 333.4h0M457.8 404.9h0M573.0 391.6h0M507.5 422.4h0M549.3 432.1h0M405.4 490.4h0M500.0 461.1h0M251.1 527.1h0M583.9 362.4h0M426.6 438.4h0M583.3 329.5h0M474.7 370.3h0M506.9 362.2h0M456.0 513.7h0M381.9 463.8h0M586.8 370.6h0M510.7 303.2h0M500.6 415.2h0M523.9 328.6h0M448.0 493.7h0M578.5 270.8h0M474.6 385.9h0M368.2 489.0h0M566.7 450.4h0M562.5 309.6h0M447.9 494.6h0M540.5 376.8h0M449.9 447.5h0M476.2 376.4h0M503.0 485.0h0M444.0 476.3h0M515.4 420.4h0M344.0 503.0h0M359.7 524.9h0M572.2 262.6h0M584.2 362.2h0M410.3 467.1h0M493.4 455.2h0M500.0 501.1h0M502.1 499.1h0M476.2 392.0h0M361.1 518.6h0M274.8 531.1h0M581.8 349.7h0M326.2 478.3h0M431.8 460.7h0M564.8 459.3h0M577.4 291.5h0M550.9 412.6h0M454.3 480.2h0M553.0 428.9h0M347.9 497.5h0M511.6 359.9h0M208.4 546.8h0M320.1 504.5h0M487.6 463.6h0M450.7 479.5h0M424.7 441.8h0M321.1 512.4h0M508.5 459.9h0M452.2 445.8h0M529.6 365.8h0M451.4 517.3h0M507.2 510.0h0M455.0 452.0h0M410.3 431.5h0M271.4 534.3h0M456.9 515.6h0M501.2 403.3h0M266.5 535.0h0M450.0 484.9h0M564.0 456.2h0M461.3 418.2h0M468.5 360.8h0M270.3 539.6h0M324.4 502.3h0M551.9 446.2h0M506.2 476.7h0M353.3 515.2h0M549.7 450.0h0M366.5 471.3h0M512.7 319.5h0M587.9 323.5h0M511.0 318.2h0M563.5 431.8h0M491.7 447.2h0M501.4 453.3h0M511.4 425.9h0M514.6 400.8h0M353.1 511.9h0M417.9 421.9h0M511.2 338.5h0M468.0 394.1h0M361.0 511.1h0M434.5 475.5h0M184.0 552.6h0M566.0 459.7h0M527.2 369.8h0M534.5 369.8h0M487.2 427.4h0M588.5 374.9h0M575.3 324.3h0M515.7 340.0h0M550.0 437.8h0M500.1 483.2h0M268.5 539.8h0M227.8 544.9h0M495.6 493.1h0M366.2 473.0h0M273.4 533.8h0M547.6 452.2h0M189.0 551.7h0M562.1 426.3h0M234.0 538.5h0M505.7 295.3h0M454.9 424.5h0M563.6 469.0h0M565.6 404.7h0M509.1 316.0h0M436.8 455.3h0M456.4 421.4h0M580.7 256.1h0M516.3 339.8h0M557.5 435.2h0M558.3 447.0h0M579.8 339.3h0M536.9 401.9h0M446.1 479.9h0M572.6 316.6h0M340.4 483.2h0M554.6 454.8h0M582.5 281.3h0M503.2 456.9h0M568.7 353.8h0M413.6 438.0h0M536.7 356.6h0M482.3 407.0h0M452.6 507.6h0M583.9 273.2h0M562.2 462.2h0M514.2 441.7h0M574.1 335.1h0M458.6 377.0h0M313.4 526.4h0M575.2 384.1h0M517.8 364.8h0M534.5 393.9h0M483.4 418.5h0M579.7 315.9h0M456.9 527.4h0M569.4 271.2h0M555.1 462.0h0M337.1 493.5h0M573.5 237.5h0M559.1 460.4h0M483.6 447.0h0M482.5 449.5h0M498.2 444.1h0M510.4 470.5h0M503.1 498.5h0M587.2 346.8h0M365.5 475.9h0M551.7 451.0h0M568.7 276.3h0M278.8 526.7h0M353.7 509.1h0M573.1 289.8h0M458.2 351.9h0M371.8 442.5h0M512.1 437.4h0M511.2 401.2h0M458.1 405.7h0M336.6 479.6h0M274.7 528.3h0M441.1 491.4h0M494.4 482.2h0M186.3 552.3h0M465.9 345.2h0M562.6 443.2h0M483.3 407.5h0M557.7 460.9h0M305.4 512.4h0M439.7 465.4h0M397.2 502.0h0M396.0 491.0h0M362.0 505.0h0M559.9 401.9h0M406.4 468.5h0M398.8 504.5h0M400.6 512.6h0M275.5 528.8h0M415.0 470.3h0M480.1 389.3h0M454.9 429.1h0M573.9 299.8h0M448.4 500.4h0M565.4 314.0h0M444.5 496.9h0M437.6 493.8h0M500.4 424.8h0M548.9 453.1h0M560.9 468.4h0M407.4 493.6h0M406.5 490.1h0M456.5 329.4h0M448.2 521.3h0M407.6 509.5h0M513.8 406.1h0M237.0 535.1h0M503.7 487.2h0M454.0 440.8h0M243.5 524.2h0M479.0 382.4h0M532.9 363.4h0M359.8 513.5h0M549.2 414.6h0M545.0 418.3h0M316.8 522.2h0M312.5 529.1h0M504.6 463.0h0M318.9 523.7h0M557.5 375.1h0M405.3 462.7h0M566.8 366.2h0M346.4 508.0h0M484.9 403.7h0M336.4 489.9h0M501.5 488.7h0M318.7 514.6h0M267.4 536.5h0M231.4 543.7h0M468.2 361.2h0M583.9 355.4h0M325.4 496.2h0M456.2 400.0h0M301.3 510.0h0M493.7 485.4h0M560.8 469.1h0M339.7 483.5h0M265.4 536.3h0M401.9 509.2h0M492.7 488.8h0M437.5 485.9h0M411.6 476.0h0M386.8 488.0h0M540.1 402.5h0M358.5 518.4h0M500.5 495.1h0M435.4 462.5h0M183.0 553.9h0M323.3 500.0h0M407.8 514.3h0M460.3 402.4h0M453.3 506.1h0M368.0 467.6h0M305.3 520.6h0M557.5 425.9h0M406.4 503.9h0M540.5 407.0h0M479.2 412.0h0M560.5 481.7h0M575.5 265.7h0M525.1 339.9h0M547.0 403.9h0M239.4 534.1h0M528.5 373.0h0M446.7 479.3h0M577.4 342.5h0M566.3 378.4h0M440.7 447.2h0M571.1 357.6h0M586.9 332.5h0M581.4 316.5h0M196.5 548.1h0M561.8 437.8h0M323.5 488.8h0M452.9 519.0h0M575.6 412.6h0M472.0 407.8h0M557.8 475.2h0M394.3 485.7h0M543.4 430.6h0M404.5 471.6h0M548.3 442.5h0M559.8 435.6h0M348.6 510.2h0M358.3 515.8h0M314.6 525.4h0M500.5 488.1h0M353.5 515.8h0M407.5 466.7h0M263.2 536.9h0M424.8 446.1h0M452.1 458.8h0M355.7 508.5h0M455.2 498.8h0M483.4 467.4h0M576.5 381.1h0M552.4 457.1h0M462.9 339.3h0M560.3 487.6h0M532.1 373.8h0M215.9 551.9h0M369.9 469.6h0M350.9 503.4h0M500.5 491.4h0M508.5 363.1h0M501.4 468.4h0M462.6 414.3h0M409.3 446.1h0M358.4 521.7h0M439.2 479.2h0M557.4 431.1h0M315.2 529.2h0M512.9 338.2h0M506.0 468.4h0M423.7 411.7h0M554.7 442.9h0M567.5 241.9h0M483.7 392.3h0M574.7 255.2h0M499.1 363.5h0M565.8 447.7h0M399.4 506.7h0M509.5 443.7h0M516.4 317.3h0M562.3 293.7h0M455.0 330.3h0M489.4 466.9h0M322.5 495.9h0M417.1 446.5h0M581.2 320.0h0M555.5 444.0h0M582.8 291.7h0M270.5 536.0h0M457.7 513.4h0M399.1 517.2h0M223.3 549.4h0M526.6 343.1h0M459.1 471.1h0M253.1 527.8h0M530.8 394.2h0M454.2 509.3h0M591.3 315.5h0M532.4 392.4h0M275.0 527.4h0M269.6 539.3h0M324.5 505.8h0M455.8 372.0h0M243.1 527.9h0M484.6 459.1h0M559.4 302.6h0M510.6 333.5h0M371.0 459.4h0M515.0 392.0h0M438.6 474.4h0M574.7 275.6h0M332.3 481.5h0M552.7 460.9h0M512.3 407.7h0M451.7 510.6h0M583.5 342.9h0M555.0 460.2h0M455.8 452.6h0M359.9 513.6h0M579.8 321.7h0M548.7 429.4h0M367.9 467.9h0M314.1 527.5h0M461.8 340.4h0M563.4 482.9h0M455.3 443.5h0M582.0 339.1h0M513.6 327.4h0M530.6 396.7h0M406.4 482.8h0M423.6 429.7h0M449.0 510.8h0M572.3 292.0h0M272.6 537.4h0M558.0 444.0h0M301.2 514.9h0M570.1 250.7h0M536.3 390.6h0M542.9 441.6h0M548.4 409.9h0M488.7 482.9h0M457.3 417.3h0M556.4 471.3h0M550.2 385.8h0M526.6 363.5h0M493.7 479.8h0M512.7 332.3h0M576.2 253.4h0M231.9 536.2h0M407.1 456.6h0M569.5 259.4h0M505.1 494.3h0M572.4 255.0h0M362.3 521.7h0M228.7 540.6h0M559.0 351.0h0M310.0 521.3h0M444.5 482.3h0M561.3 271.7h0M506.1 414.4h0M493.4 450.5h0M591.3 298.9h0M411.7 422.3h0M459.3 354.9h0M326.7 482.6h0M519.2 324.8h0M322.8 503.6h0M558.2 442.8h0M359.6 509.3h0M380.1 449.6h0M501.8 451.1h0M555.1 434.7h0M462.7 366.6h0M349.6 510.2h0M430.4 416.2h0M284.9 506.4h0M572.7 387.8h0M398.9 493.2h0M368.9 437.5h0M363.8 485.3h0M363.6 467.7h0M411.8 402.8h0M490.5 483.9h0M460.9 416.1h0M570.2 330.6h0M455.5 453.8h0M454.2 345.0h0M506.5 437.7h0M259.2 536.1h0M478.8 440.2h0M505.5 395.6h0M401.7 506.4h0M564.4 412.8h0M527.1 344.1h0M571.5 429.2h0M519.6 343.3h0M543.5 417.0h0M574.9 364.1h0M476.6 390.2h0M187.1 551.6h0M588.5 286.9h0M555.3 476.9h0M413.2 412.0h0M572.9 422.4h0M515.6 332.1h0M416.2 400.3h0M574.7 254.6h0M343.1 495.5h0M565.8 306.1h0M564.5 399.4h0M452.6 414.7h0M406.1 445.7h0M515.4 342.0h0M550.7 468.8h0M409.0 431.7h0M462.6 373.1h0M346.2 507.7h0M503.4 482.1h0M570.1 456.9h0M271.6 539.8h0M578.5 299.3h0M503.2 437.1h0M542.0 417.5h0M364.2 505.9h0M458.8 413.3h0M505.6 433.8h0M571.9 254.8h0M571.6 464.5h0M504.9 490.1h0M362.3 506.3h0M461.3 410.6h0M514.6 333.6h0M526.0 335.8h0M313.4 523.0h0M364.1 467.1h0M362.6 463.0h0M582.6 281.7h0M566.6 451.5h0M559.2 442.0h0M582.9 300.0h0M581.9 270.8h0M382.0 469.3h0M288.3 502.2h0M562.0 439.2h0M567.7 347.2h0M481.5 405.5h0M506.5 493.3h0M263.3 535.4h0M418.0 397.7h0M464.2 348.3h0M368.3 441.1h0M368.1 471.2h0M271.7 535.0h0M256.5 531.7h0M575.9 299.0h0M409.5 428.2h0M232.8 539.3h0M234.4 535.6h0M587.8 354.4h0M491.5 431.2h0M515.5 395.4h0M365.1 460.8h0M463.3 355.2h0M449.3 511.8h0M502.6 485.6h0M261.6 534.4h0M450.3 516.8h0M395.9 503.0h0M560.1 434.2h0M325.0 507.4h0M561.4 467.2h0M505.5 469.8h0M409.5 447.7h0M540.7 429.6h0M450.4 492.7h0M570.1 265.5h0M490.3 453.7h0M531.2 406.3h0M387.4 488.7h0M319.8 502.1h0M548.5 437.3h0M448.6 498.4h0M582.6 278.4h0M343.2 502.5h0M448.8 457.6h0M444.2 493.2h0M578.4 305.4h0M512.8 428.4h0M266.0 534.0h0M479.7 429.8h0M460.1 394.6h0M558.0 388.4h0M409.2 500.5h0M492.9 489.4h0M289.6 506.9h0M404.1 461.2h0M544.6 419.7h0M481.7 394.2h0M442.5 468.3h0M550.3 431.1h0M569.7 365.8h0M547.9 395.9h0M581.5 332.1h0M452.2 491.1h0M413.5 399.5h0M183.5 551.0h0M502.7 496.1h0M508.8 498.1h0M383.9 465.7h0M554.8 443.1h0M568.2 443.5h0M568.6 354.2h0M455.4 475.3h0M461.5 340.1h0M358.7 515.3h0M363.6 515.3h0M542.5 423.5h0M563.7 382.2h0M501.7 405.0h0M509.3 304.2h0M294.9 506.2h0M458.9 498.1h0M442.2 497.8h0M580.2 295.1h0M549.2 412.3h0M364.0 462.2h0M565.0 459.7h0M199.6 544.5h0M490.8 418.3h0M570.2 263.4h0M458.1 362.0h0M507.0 361.3h0M254.6 529.1h0M573.4 276.1h0M277.3 523.0h0M440.1 475.5h0M369.9 479.5h0M447.5 426.0h0M562.6 470.3h0M579.9 309.4h0M311.0 522.4h0M409.0 472.5h0M493.4 444.3h0M401.0 507.4h0M405.4 483.5h0M516.5 326.5h0M460.0 457.1h0M402.9 505.6h0M475.5 362.9h0M514.6 427.1h0M561.8 451.2h0M311.9 524.1h0M527.7 372.9h0M574.7 295.1h0M588.9 362.8h0M450.6 500.8h0M566.3 469.9h0M565.6 304.8h0M558.9 436.0h0M383.8 482.4h0M386.0 482.1h0M586.1 328.9h0M352.6 515.3h0M283.2 516.9h0M300.1 515.3h0M584.1 329.3h0M506.0 430.1h0M475.5 397.9h0M568.1 389.1h0M319.5 521.5h0M549.7 423.9h0M453.4 433.8h0M534.1 408.5h0M561.4 437.5h0M265.3 538.2h0M503.7 467.4h0M558.4 325.4h0M561.2 433.5h0M383.1 481.6h0M416.2 428.2h0M570.1 383.5h0M442.8 498.6h0M453.9 350.5h0M570.3 278.5h0M549.1 407.3h0M529.2 353.4h0M502.6 488.6h0M448.6 515.3h0M515.0 363.6h0M513.2 329.6h0M510.0 480.9h0M477.8 379.7h0M550.2 430.7h0M217.1 550.4h0M587.8 360.6h0M578.8 254.4h0M354.2 510.8h0M560.2 464.9h0M508.4 328.1h0M451.1 522.3h0M363.6 510.1h0M502.7 446.7h0M575.4 319.8h0M489.7 454.2h0M517.1 322.6h0M557.7 482.9h0M456.4 446.9h0M579.8 360.9h0M457.2 507.6h0M532.8 379.8h0M575.3 295.9h0M410.7 478.7h0M583.7 358.6h0M583.0 338.7h0M443.3 485.8h0M498.2 454.9h0M221.3 549.5h0M391.6 478.1h0M224.5 546.5h0M481.2 385.8h0M317.6 525.3h0M494.9 490.3h0M548.7 428.6h0M493.7 431.7h0M399.3 497.5h0M570.8 327.5h0M494.2 488.8h0M556.5 456.4h0M575.7 248.3h0M556.4 451.3h0M458.6 511.6h0M449.2 509.3h0M344.2 496.6h0M521.6 357.7h0M299.8 507.4h0M217.1 549.9h0M452.9 392.7h0M406.7 499.7h0M226.4 542.6h0M589.9 378.4h0M434.8 494.4h0M400.4 505.4h0M493.0 424.4h0M496.8 484.4h0M240.7 527.8h0M583.7 308.0h0M453.0 482.0h0M513.2 338.7h0M515.9 378.8h0M524.8 355.3h0M552.2 436.1h0M564.6 454.9h0M454.0 355.2h0M560.7 429.5h0M370.2 460.0h0M549.8 416.8h0M451.5 491.6h0M500.3 481.1h0M580.6 317.1h0M550.1 454.6h0M570.1 447.9h0M451.5 426.3h0M461.1 371.5h0M561.9 446.8h0M588.4 336.5h0M366.7 504.2h0M498.7 416.2h0M561.1 475.0h0M554.7 375.5h0M370.9 438.8h0M297.0 513.3h0M384.2 487.6h0M562.8 460.5h0M371.4 435.4h0M568.2 255.3h0M503.6 427.6h0M489.2 442.8h0M494.0 466.4h0M404.2 495.6h0M342.1 488.9h0M362.9 513.7h0M509.6 376.8h0M354.6 518.5h0M362.2 517.6h0M560.4 481.1h0M580.3 343.9h0M360.2 527.7h0M578.0 324.2h0M568.6 263.3h0M361.4 522.9h0M546.7 451.9h0M424.3 422.4h0M535.0 434.0h0M545.3 388.9h0M383.5 463.6h0M457.0 347.5h0M456.2 381.1h0M466.6 370.8h0M515.1 308.7h0M448.4 511.3h0M375.6 455.2h0M574.2 313.8h0M538.5 379.2h0M500.5 487.5h0M268.0 537.6h0M238.5 528.9h0M553.4 436.5h0M542.0 413.9h0M415.5 407.5h0M477.5 411.9h0M472.0 381.6h0M382.8 469.8h0M564.4 415.4h0M222.2 545.8h0M511.5 308.3h0M381.0 470.1h0M499.6 495.6h0M308.3 521.4h0M562.3 475.7h0M311.3 525.1h0M270.7 536.5h0M484.7 407.1h0M269.1 536.6h0M323.2 512.9h0M503.2 498.4h0M569.5 267.8h0M502.9 470.4h0M556.1 449.6h0M452.0 510.1h0M417.8 396.4h0M319.7 498.7h0M366.8 450.8h0M562.6 347.1h0M273.2 536.0h0M462.5 374.6h0M556.7 465.3h0M582.2 298.7h0M491.4 459.4h0M446.6 505.3h0M283.8 507.2h0M409.0 439.9h0M191.8 552.6h0M532.4 322.0h0M505.3 373.6h0M456.6 476.5h0M461.3 428.5h0M503.2 407.8h0M516.0 304.5h0M387.7 475.8h0M528.3 349.0h0M568.8 288.5h0M487.9 463.4h0M567.8 463.6h0M561.6 470.3h0M515.8 381.9h0M231.3 540.4h0M236.9 533.9h0M568.0 281.8h0M495.9 440.5h0M257.0 529.3h0M460.8 378.9h0M563.8 396.5h0M480.7 392.3h0M339.9 491.5h0M448.9 503.5h0M365.2 500.7h0M495.7 438.2h0M527.8 343.7h0M576.4 321.1h0M233.4 540.0h0M528.4 396.8h0M289.4 502.4h0M533.1 369.6h0M501.2 378.4h0M315.8 527.7h0M451.3 454.2h0M573.8 356.7h0M391.9 485.9h0M474.6 367.3h0M451.7 462.0h0M535.1 363.8h0M406.6 505.8h0M269.9 540.4h0M501.8 381.0h0M440.6 506.2h0M502.5 461.3h0M408.3 501.7h0M340.8 487.1h0M576.5 303.1h0M352.3 515.5h0M370.0 467.4h0M546.0 434.0h0M506.8 323.6h0M568.8 290.3h0M581.5 345.5h0M454.7 505.5h0M376.5 456.9h0M566.6 435.3h0M379.8 469.7h0M337.8 483.7h0M504.4 486.8h0M522.2 361.0h0M334.2 488.4h0M574.2 402.4h0M570.1 264.6h0M546.8 433.8h0M573.6 302.2h0M575.4 324.9h0M366.4 495.5h0M511.8 350.9h0M360.9 508.7h0M564.0 251.0h0M572.9 315.4h0M353.3 512.1h0M560.8 462.8h0M562.3 315.7h0M569.0 451.1h0M571.6 294.6h0M449.5 425.3h0M267.8 541.3h0M269.1 540.6h0M384.4 484.5h0M561.4 362.8h0M460.1 466.5h0M379.9 473.2h0M569.6 414.8h0M201.9 545.4h0M499.6 433.4h0M505.5 504.3h0M451.1 503.9h0M394.6 489.9h0M539.2 412.4h0M530.8 374.7h0M459.9 344.2h0M487.8 448.0h0M369.7 444.9h0M410.6 439.7h0M237.3 531.7h0M569.6 255.1h0M481.4 421.2h0M509.9 430.1h0M234.7 535.8h0M475.4 412.0h0M265.2 536.0h0M572.9 428.7h0M524.1 364.7h0M498.5 489.5h0M562.5 459.4h0M489.0 460.4h0M497.6 436.8h0M589.7 345.3h0M312.2 525.1h0M435.1 468.0h0M402.6 509.7h0M402.5 503.7h0M452.5 420.3h0M467.4 385.6h0M413.9 473.0h0M409.3 419.7h0M577.3 322.6h0M455.3 456.3h0M317.2 527.1h0M590.9 301.7h0M435.6 455.9h0M587.0 334.9h0M501.3 491.0h0M586.2 286.4h0M533.2 374.3h0M280.1 514.5h0M367.5 471.5h0M367.7 444.4h0M446.7 464.2h0M397.0 486.0h0M388.3 476.0h0M449.1 453.7h0M561.3 467.5h0M565.6 383.4h0M359.8 518.8h0M583.3 339.4h0M249.0 528.8h0M486.5 430.8h0M567.8 427.7h0M369.8 483.8h0M475.9 376.5h0M391.0 495.8h0M571.5 342.0h0M200.6 544.2h0M546.5 429.4h0M367.9 444.7h0M552.4 472.1h0M582.6 350.2h0M504.2 464.0h0M449.2 491.0h0M235.7 537.2h0M501.3 480.5h0M211.3 546.1h0M293.0 502.7h0M361.1 499.6h0M555.6 450.7h0M286.6 506.9h0M309.2 519.2h0M359.7 518.5h0M505.3 507.6h0M475.5 372.7h0M576.4 305.6h0M354.4 510.8h0M309.5 522.6h0M393.5 501.0h0M512.2 457.6h0M436.5 483.0h0M484.8 430.6h0M525.4 356.6h0M570.9 277.9h0M575.1 304.7h0M487.5 464.1h0M344.3 498.8h0M516.6 400.1h0M369.2 468.0h0M557.8 383.1h0M441.5 473.8h0M425.8 417.3h0M555.6 446.5h0M406.1 506.9h0M457.9 513.9h0M549.3 425.5h0M575.7 360.0h0M189.4 551.3h0M406.3 481.6h0M361.8 522.1h0M282.8 510.7h0M564.4 401.0h0M268.1 539.8h0M218.8 550.1h0M487.6 432.1h0M452.5 515.5h0M361.5 490.8h0M494.1 476.6h0M559.4 313.7h0M515.7 347.5h0M463.6 338.2h0M344.8 496.5h0M571.9 467.2h0M550.0 413.9h0M391.5 495.7h0M573.3 269.5h0M441.4 499.2h0M299.0 514.4h0M271.1 541.6h0M579.4 309.6h0M566.9 388.2h0M315.4 529.6h0M482.2 460.2h0M394.0 479.4h0M307.6 516.6h0M411.0 408.7h0M458.0 503.5h0M478.4 411.3h0M530.2 393.2h0M365.4 516.1h0M500.5 380.1h0M327.2 483.0h0M264.7 534.1h0M568.4 444.8h0M484.5 415.0h0M452.8 506.2h0M504.9 452.0h0M561.6 406.0h0M489.2 432.6h0M289.2 504.3h0M564.2 394.5h0M228.4 543.5h0M569.2 267.7h0M556.9 396.6h0M310.4 521.2h0M491.5 423.9h0M411.3 456.5h0M564.0 409.2h0M566.0 314.1h0M582.6 262.2h0M207.9 546.8h0M553.4 445.7h0M405.7 487.6h0M537.9 393.6h0M449.8 502.1h0M357.7 514.8h0M573.5 262.4h0M572.5 361.2h0M424.3 427.3h0M590.5 320.4h0M455.6 361.2h0M320.0 516.6h0M566.9 405.7h0M552.7 472.5h0M579.1 268.9h0M563.7 455.1h0M231.8 540.4h0M408.5 500.9h0M529.2 387.2h0M310.7 522.3h0M459.6 433.5h0M573.4 356.0h0M393.6 488.5h0M443.8 495.2h0M426.8 432.4h0M327.2 475.9h0M185.2 552.7h0M445.8 501.4h0M580.7 293.0h0M591.4 349.4h0M584.7 329.3h0M555.9 414.2h0M414.9 415.2h0M460.0 442.7h0M506.7 474.8h0M560.1 456.7h0M457.9 400.4h0M385.6 467.1h0M510.0 310.5h0M586.3 352.8h0M441.3 505.5h0M509.5 408.1h0M556.2 437.4h0M500.1 477.4h0M478.6 433.3h0M554.4 390.9h0M513.9 443.0h0M574.9 303.9h0M223.6 545.4h0M456.5 502.6h0M412.7 447.6h0M520.4 339.6h0M581.7 339.8h0M438.4 475.1h0M510.0 455.7h0M346.0 510.2h0M574.0 339.9h0M577.7 338.6h0M517.9 334.0h0M563.1 451.8h0M340.4 496.0h0M558.5 401.9h0M585.3 283.4h0M566.0 304.4h0M570.1 373.8h0M515.4 339.8h0M448.3 504.3h0M482.8 416.4h0M453.3 522.4h0M485.4 426.0h0M452.4 370.3h0M392.2 497.4h0M565.3 250.2h0M474.7 426.0h0M367.9 436.2h0M455.8 430.4h0M556.2 447.0h0M333.7 482.3h0M574.2 257.4h0M510.1 479.9h0M454.4 485.1h0M439.1 462.1h0M453.0 491.4h0M563.0 458.9h0M499.5 464.0h0M193.2 549.7h0M487.0 407.1h0M569.0 342.5h0M478.3 374.4h0M275.4 532.5h0M267.2 542.9h0M568.2 246.1h0M571.9 242.3h0M493.5 449.0h0M482.4 423.8h0M508.4 449.9h0M360.3 523.7h0M537.3 400.4h0M455.3 511.9h0M501.6 355.1h0M451.9 521.7h0M509.5 379.6h0M538.3 352.9h0M414.8 460.1h0M501.9 493.6h0M517.6 392.2h0M366.7 510.4h0M500.3 470.8h0M452.8 509.0h0M588.2 356.9h0M302.7 514.2h0M472.4 394.5h0M567.5 438.5h0M505.1 451.8h0M564.3 443.3h0M512.1 471.5h0M587.4 344.9h0M417.1 399.4h0M480.8 421.1h0M306.9 518.1h0M576.6 308.7h0M555.6 346.2h0M408.6 503.8h0M266.5 538.1h0M361.7 515.7h0M451.6 501.1h0M461.5 436.3h0M490.2 446.6h0M550.6 420.0h0M459.3 387.9h0M195.6 549.4h0M573.2 396.6h0M399.9 508.5h0M562.3 428.7h0M512.1 470.5h0M539.8 388.8h0M352.4 511.8h0M432.9 465.1h0M499.7 494.7h0M569.9 285.4h0M188.8 552.0h0M402.6 501.9h0M558.0 434.2h0M407.7 423.1h0M456.4 338.3h0M565.7 253.2h0M500.7 449.5h0M455.6 498.1h0M561.8 457.3h0M558.3 468.9h0M587.1 305.5h0M366.3 458.9h0M191.4 549.4h0M370.8 476.0h0M458.8 443.9h0M405.2 479.9h0M580.6 282.8h0M508.9 316.4h0M446.5 502.7h0M556.5 421.4h0M572.9 403.1h0M561.8 471.3h0M486.4 433.0h0M569.6 393.9h0M528.4 385.7h0M219.3 549.9h0M492.9 449.4h0M340.7 499.9h0M302.8 520.6h0M569.0 404.8h0M279.6 515.1h0M559.9 335.8h0M484.7 461.4h0M215.5 550.8h0M563.1 407.7h0M191.6 550.2h0M565.8 252.3h0M270.0 540.1h0M410.9 415.6h0M550.8 467.2h0M489.6 469.1h0M441.0 502.2h0M452.8 388.0h0M510.9 474.0h0M543.0 393.4h0M458.5 427.1h0M372.6 443.6h0M457.0 492.7h0M318.5 512.7h0M566.1 347.9h0M583.9 294.4h0M448.8 508.5h0M238.8 533.2h0M214.2 547.6h0M509.4 309.4h0M455.9 337.3h0M541.1 394.8h0M541.8 380.5h0M218.4 551.8h0M556.6 382.9h0M321.5 509.0h0M406.8 486.8h0M509.3 306.9h0M388.8 473.9h0M494.8 493.0h0M544.9 425.1h0M297.4 511.8h0M502.8 339.1h0M561.6 460.4h0M258.5 536.7h0M346.2 498.3h0M441.1 458.1h0M325.8 490.3h0M368.0 448.7h0M507.3 464.0h0M537.3 380.8h0M552.7 437.0h0M493.3 491.1h0M393.0 502.3h0M364.1 465.4h0M551.3 417.1h0M273.6 537.1h0M508.9 440.2h0M507.1 482.8h0M571.9 307.2h0M419.1 410.3h0M313.3 525.6h0M501.4 410.8h0M415.7 427.5h0M505.4 495.6h0M477.9 433.5h0M504.1 481.5h0M451.4 508.9h0M364.6 510.1h0M573.1 302.9h0M389.7 481.6h0M237.9 533.0h0M336.6 484.3h0M258.9 531.8h0M433.8 489.4h0M405.2 510.2h0M499.1 378.3h0M583.9 322.0h0M360.9 522.5h0M405.0 512.6h0M404.4 488.1h0M281.0 524.7h0M485.9 452.7h0M406.4 467.4h0M422.1 430.2h0M377.4 462.7h0M557.5 467.3h0M319.4 524.3h0M404.1 472.1h0M273.6 531.8h0M557.1 456.3h0M444.2 492.0h0M269.1 539.0h0M362.7 478.3h0M567.0 444.3h0M404.3 460.2h0M577.8 294.8h0M303.5 512.1h0M504.5 408.2h0M468.9 382.5h0M370.8 474.7h0M501.3 367.5h0M273.0 535.8h0M495.5 486.6h0M485.4 438.7h0M456.2 491.4h0M455.4 458.5h0M465.1 347.2h0M501.9 491.7h0M505.1 487.3h0M498.1 477.5h0M561.1 375.3h0M554.2 458.9h0M501.7 359.9h0M564.8 256.6h0M533.1 368.3h0M475.9 399.8h0M220.6 549.7h0M276.3 527.0h0M568.3 248.7h0M367.6 479.1h0M494.6 470.9h0M564.6 465.2h0M574.0 370.4h0M500.8 485.4h0M458.8 342.8h0M294.8 506.9h0M413.2 466.5h0M495.8 468.0h0M588.1 361.3h0M454.3 372.3h0M575.4 300.2h0M516.8 325.0h0M509.0 508.1h0M478.9 433.2h0M369.4 481.8h0M578.7 283.5h0M564.1 382.8h0M558.7 442.5h0M361.7 482.2h0M451.6 457.8h0M380.4 466.6h0M487.3 446.3h0M572.8 278.8h0M191.5 550.4h0M532.4 377.4h0M590.4 306.1h0M448.3 506.4h0M586.4 285.0h0M503.2 499.1h0M340.4 488.6h0M558.8 444.7h0M458.5 492.8h0M556.8 450.8h0M530.2 356.0h0M562.2 408.7h0M408.2 455.3h0M461.9 365.9h0M534.8 375.4h0M581.8 323.7h0M349.6 503.8h0M500.6 460.4h0M269.5 540.5h0M454.8 452.6h0M507.4 331.5h0M459.3 436.7h0M502.8 486.0h0M409.0 475.8h0M589.2 377.5h0M456.3 332.1h0M390.7 487.8h0M533.3 401.9h0M541.3 431.8h0M577.0 362.4h0M505.9 459.6h0M515.4 412.5h0M226.7 545.1h0M481.5 402.4h0M348.9 507.1h0M527.3 358.9h0M469.5 385.1h0M569.3 303.7h0M539.7 420.9h0M396.2 490.9h0M483.6 431.3h0M559.8 385.0h0M427.9 453.2h0M540.1 411.9h0M560.4 436.1h0M458.7 494.7h0M448.3 503.9h0M566.3 418.5h0M560.0 448.8h0M577.5 249.5h0M500.7 417.1h0M542.7 380.1h0M558.2 324.7h0M451.0 445.0h0M456.9 505.7h0M304.2 518.6h0M442.7 496.9h0M556.2 456.2h0M252.7 528.8h0M437.7 458.7h0M366.1 454.9h0M526.8 377.0h0M215.0 549.9h0M569.6 269.3h0M357.3 523.9h0M588.5 286.8h0M534.3 394.1h0M574.2 435.5h0M515.1 327.2h0M461.0 455.2h0M281.4 515.1h0M511.2 476.6h0M462.0 370.4h0M584.5 355.7h0M576.3 306.1h0M411.2 426.3h0M546.7 435.6h0M488.4 479.5h0M450.0 499.7h0M353.4 511.9h0M556.2 334.7h0M504.0 482.9h0M452.3 514.8h0M389.8 484.7h0M502.1 450.8h0M301.0 515.9h0M474.4 376.1h0M494.6 461.9h0M495.5 446.4h0M568.3 346.4h0M221.2 547.9h0M484.1 422.4h0M582.9 345.3h0M547.1 424.9h0M414.0 417.0h0M450.9 423.7h0M240.4 530.0h0M570.5 367.3h0M481.1 443.7h0M290.1 504.9h0M506.2 495.5h0M462.8 339.5h0M567.9 283.7h0M510.2 388.6h0M459.8 475.6h0M509.1 497.9h0M465.8 356.0h0M557.9 465.1h0M548.1 410.6h0M590.5 323.0h0M407.3 489.3h0M544.9 415.8h0M568.8 469.8h0M579.0 339.8h0M483.5 430.4h0M508.5 497.4h0M523.8 338.2h0M479.7 393.5h0M474.6 419.1h0M213.9 547.1h0M581.3 314.7h0M450.1 512.0h0M482.2 457.0h0M455.4 459.7h0M460.8 477.7h0M455.4 381.6h0M517.9 336.9h0M223.1 548.1h0M543.7 405.5h0M487.1 394.5h0M415.5 459.6h0M489.1 439.7h0M292.7 511.8h0M416.6 401.4h0M335.8 481.0h0M509.3 334.6h0M452.0 504.6h0M563.3 447.1h0M366.8 449.6h0M576.3 272.8h0M498.0 474.2h0M509.8 481.3h0M205.0 545.7h0M269.0 539.5h0M552.1 448.2h0M586.9 286.4h0M561.6 391.1h0M569.5 419.4h0M556.3 437.1h0M393.4 493.1h0M579.5 341.5h0M586.9 329.9h0M466.5 355.8h0M500.4 498.6h0M360.0 514.5h0M551.0 416.7h0M555.6 406.3h0M467.5 378.5h0M451.9 476.1h0M500.5 417.1h0M301.8 514.2h0M269.1 542.3h0M317.5 524.6h0M319.2 520.0h0M582.5 351.1h0M363.9 515.3h0M558.6 354.9h0M449.9 461.2h0M548.5 411.4h0M457.5 404.7h0M401.5 495.1h0M505.9 477.4h0M568.7 257.3h0M264.7 540.3h0M432.3 466.0h0M583.9 299.6h0M405.0 446.7h0M563.0 347.4h0M534.8 366.2h0M570.8 336.0h0M540.5 413.0h0M559.4 452.9h0M472.2 405.7h0M493.3 471.7h0M568.0 443.2h0M265.3 539.9h0M449.5 479.1h0M234.9 536.6h0M263.8 535.9h0M567.6 241.2h0M428.0 424.9h0M219.2 549.0h0M309.1 526.4h0M557.0 474.9h0M437.3 473.9h0M459.1 448.1h0M447.2 498.9h0M498.2 439.1h0M244.0 527.1h0M367.3 496.6h0M560.8 377.3h0M456.5 517.9h0M539.2 440.1h0M584.5 279.9h0M564.1 303.0h0M453.0 380.0h0M304.7 514.2h0M474.4 411.4h0M305.1 513.7h0M484.5 452.7h0M509.9 468.8h0M547.1 428.0h0M501.9 495.1h0M460.9 430.6h0M371.4 446.9h0M504.2 459.9h0M493.4 501.6h0M516.2 312.3h0M576.2 289.2h0M574.6 295.1h0M572.4 388.9h0M241.5 527.6h0M433.1 429.0h0M507.9 454.8h0M423.3 436.6h0M561.3 417.6h0M511.5 489.2h0M573.3 370.3h0M589.6 293.5h0M453.8 365.6h0M383.9 466.7h0M407.0 471.6h0M547.0 428.2h0M480.1 411.8h0M374.6 444.9h0M550.4 438.0h0M359.2 513.4h0M317.1 529.8h0M480.1 429.6h0M408.6 507.4h0M461.3 342.8h0M498.2 504.5h0M563.6 471.3h0M450.8 507.8h0M579.3 278.0h0M362.7 484.9h0M574.2 291.5h0M427.0 437.0h0M463.3 397.3h0M503.2 482.3h0M435.7 444.9h0M590.0 349.7h0M506.7 437.5h0M494.7 476.9h0M456.4 385.5h0M407.5 492.3h0M346.1 504.7h0M422.6 414.9h0M515.4 429.0h0M318.9 504.5h0M421.7 411.5h0M410.6 481.8h0M571.5 435.8h0M411.9 426.5h0M438.3 439.6h0M477.7 420.2h0M398.0 504.7h0M541.3 405.7h0M454.2 471.9h0M504.6 500.1h0M570.9 435.7h0M570.6 431.5h0M531.9 393.8h0M567.1 463.7h0M504.4 490.0h0M571.9 282.1h0M568.5 373.4h0M459.7 406.7h0M572.4 279.3h0M527.9 368.8h0M458.9 397.3h0M294.0 503.8h0M455.4 352.6h0M458.4 332.3h0M407.3 513.7h0M506.9 414.4h0M564.8 469.6h0M482.2 401.1h0M538.2 385.7h0M567.2 414.2h0M485.5 471.4h0M583.0 339.1h0M227.9 542.8h0M555.6 359.1h0M506.6 416.4h0M561.1 441.7h0M330.1 480.3h0M547.2 427.0h0M462.8 415.1h0M503.5 493.6h0M503.7 409.9h0M557.4 468.6h0M391.1 470.7h0M535.1 368.5h0M489.6 453.5h0M196.1 546.9h0M280.7 516.8h0M566.7 391.6h0M506.5 477.8h0M279.7 521.0h0M517.4 387.8h0M446.7 475.3h0M558.8 264.3h0M558.8 472.8h0M590.7 309.3h0M453.6 513.2h0M510.4 330.8h0M458.1 343.6h0M314.6 520.7h0M509.6 373.5h0M319.7 519.9h0M409.3 424.9h0M562.4 445.4h0M442.6 460.6h0M586.6 302.9h0M225.6 544.6h0M316.7 524.5h0M317.5 523.1h0M546.4 438.5h0M586.3 276.6h0M570.4 253.7h0M406.6 491.1h0M316.9 518.0h0M216.8 551.6h0M550.1 439.3h0M506.4 449.9h0M531.1 387.2h0M508.6 356.8h0M342.0 496.8h0M504.6 498.8h0M355.0 513.0h0M484.4 423.1h0M435.6 471.7h0M575.6 316.0h0M454.1 466.2h0M566.2 463.5h0M228.9 541.6h0M323.5 513.7h0M283.8 509.1h0M449.1 444.0h0M388.7 477.3h0M565.2 433.3h0M434.8 444.8h0M405.9 498.9h0M216.3 549.5h0M213.4 549.0h0M477.9 392.4h0M482.4 429.4h0M441.0 476.6h0M570.4 344.9h0M496.7 473.3h0M389.8 467.0h0M509.8 324.2h0M363.7 495.3h0M555.7 412.0h0M569.6 455.7h0M236.7 533.9h0M489.1 429.2h0M500.9 498.0h0M501.2 411.4h0M512.3 329.4h0M366.2 486.8h0M492.8 477.9h0M509.9 490.6h0M502.8 475.6h0M568.3 411.9h0M524.8 344.8h0M322.3 519.4h0M558.3 444.4h0M390.7 481.5h0M535.0 359.4h0M567.1 382.3h0M407.6 447.6h0M415.0 395.2h0M548.8 464.1h0M231.3 539.2h0M426.3 436.4h0M491.9 456.9h0M548.8 454.8h0M349.9 494.3h0M532.6 342.7h0M558.2 467.7h0M477.5 427.0h0M461.1 376.8h0M450.4 515.0h0M538.3 380.5h0M395.9 499.1h0M368.4 499.6h0M273.8 532.5h0M450.6 501.1h0M175.8 557.1h0M506.6 408.2h0M565.1 462.0h0M430.4 441.1h0M558.0 451.2h0M351.1 498.0h0M551.5 465.2h0M337.8 493.6h0M474.7 393.2h0M508.9 345.9h0M486.5 457.0h0M352.7 506.1h0M574.8 298.3h0M347.1 510.5h0M573.8 318.2h0M274.2 534.3h0M528.4 404.0h0M259.6 533.9h0M404.1 477.6h0M231.5 541.0h0M586.9 368.8h0M316.5 522.0h0M458.6 358.3h0M428.8 426.0h0M567.0 469.4h0M500.0 476.4h0M583.7 318.9h0M474.0 405.2h0M555.9 426.6h0M527.9 384.4h0M552.6 448.0h0M210.5 544.1h0M460.1 430.7h0M554.7 467.6h0M327.0 488.5h0M453.5 507.7h0M590.5 355.7h0M589.6 380.6h0M555.3 441.3h0M362.8 518.3h0M573.8 286.4h0M334.1 485.3h0M407.7 454.9h0M228.7 542.1h0M270.5 536.5h0M269.0 536.0h0M360.2 516.7h0M513.6 417.3h0M514.9 442.9h0M572.2 438.9h0M401.4 498.2h0M563.3 449.4h0M443.4 466.9h0M209.7 546.3h0M237.0 529.5h0M316.6 525.2h0M377.6 464.1h0M573.6 427.4h0M453.1 502.4h0M559.5 437.1h0M373.4 452.9h0M566.7 393.1h0M561.4 286.6h0M223.4 548.4h0M273.1 532.7h0M502.1 353.7h0M341.4 500.0h0M573.9 319.7h0M546.4 428.4h0M502.6 448.5h0M499.3 480.8h0M569.8 432.5h0M263.7 536.0h0M561.4 362.7h0M565.9 432.4h0M499.6 424.9h0M179.4 554.9h0M513.4 372.4h0M460.1 434.2h0M427.6 451.5h0M478.8 394.1h0M500.9 491.4h0M457.1 469.4h0M565.1 317.2h0M361.4 517.3h0M501.0 395.3h0M416.0 405.7h0M480.2 446.6h0M328.9 481.1h0M550.5 458.1h0M404.3 520.7h0M551.8 417.0h0M568.5 263.9h0M429.8 449.2h0M454.7 347.4h0M460.2 431.8h0M360.1 505.2h0M399.1 504.1h0M207.7 545.1h0M565.1 411.6h0M234.7 536.4h0M347.0 496.0h0M503.8 495.7h0M552.5 429.7h0M565.3 389.9h0M505.5 501.2h0M528.1 377.8h0M589.8 302.0h0M503.9 394.2h0M501.8 386.2h0M323.5 488.7h0M400.4 514.2h0M395.3 493.9h0M578.9 254.4h0M276.9 529.4h0M568.3 474.0h0M504.9 492.1h0M410.2 427.5h0M504.6 492.6h0M351.9 508.0h0M569.8 444.8h0M500.4 462.5h0M568.9 493.8h0M512.6 359.7h0M525.4 333.2h0M573.6 294.3h0M572.7 442.2h0M382.7 456.7h0M457.4 511.8h0M571.6 376.9h0M503.7 346.4h0M503.4 495.3h0M569.9 276.1h0M300.2 511.4h0M356.2 511.1h0M285.7 508.4h0M457.1 426.0h0M564.4 314.1h0M556.1 482.4h0M405.1 452.5h0M443.2 506.6h0M281.7 519.8h0M428.9 427.4h0M550.0 414.4h0M474.0 398.7h0M477.1 400.3h0M509.3 416.4h0M591.2 377.9h0M581.7 276.1h0M455.6 496.6h0M583.6 277.8h0M310.9 520.6h0M493.6 477.6h0M400.1 506.1h0M459.6 364.0h0M416.0 466.1h0M399.8 511.4h0M494.4 458.2h0M554.0 472.8h0M482.4 407.1h0M589.3 352.6h0M532.2 366.9h0M589.3 256.0h0M431.8 452.8h0M269.5 540.0h0M471.9 395.6h0M461.9 341.4h0M395.7 494.7h0M550.7 456.5h0M372.4 448.1h0M571.8 403.3h0M522.5 364.3h0M512.6 395.2h0M576.4 264.6h0M393.4 503.3h0M531.0 400.3h0M489.4 465.1h0M309.5 523.7h0M564.5 470.3h0M556.7 387.4h0M485.8 462.0h0M397.8 490.5h0M403.2 496.7h0M457.8 406.1h0M301.1 512.6h0M570.7 290.9h0M257.7 530.6h0M588.7 338.3h0M294.8 504.8h0M512.9 357.2h0M556.6 367.9h0M510.5 385.4h0M534.5 382.9h0M572.5 392.1h0M567.0 477.6h0M542.0 436.9h0M489.7 439.5h0M409.2 467.1h0M576.0 268.4h0M367.4 454.2h0M407.6 449.4h0M411.5 481.1h0M567.6 414.5h0M491.0 421.8h0M567.2 243.0h0M417.0 440.2h0M490.2 452.5h0M303.4 516.0h0M453.1 342.4h0M530.7 386.4h0M414.7 400.8h0M507.1 478.7h0M380.5 468.3h0M271.3 535.5h0M402.1 457.6h0M563.6 475.4h0M534.9 386.6h0M550.3 458.2h0M361.9 525.4h0M560.8 460.8h0M405.2 484.9h0M480.6 405.6h0M416.8 444.7h0M434.0 451.8h0M280.6 523.8h0M502.9 477.7h0M553.8 441.0h0M409.0 455.7h0M524.5 353.1h0M426.2 410.7h0M557.7 466.9h0M547.9 437.6h0M555.3 478.4h0M344.8 499.0h0M342.5 490.6h0M325.9 480.2h0M443.3 467.9h0M569.3 416.9h0M537.1 359.9h0M570.9 338.8h0M559.2 343.3h0M550.0 420.9h0M452.6 496.4h0M389.3 492.6h0M564.1 371.3h0M275.4 536.9h0M565.0 463.7h0M448.6 501.4h0M576.6 344.8h0M413.8 448.6h0M509.8 473.7h0M553.7 411.3h0M564.6 421.3h0M505.7 491.0h0M276.1 525.4h0M335.2 488.6h0M563.5 399.9h0M508.9 386.1h0M567.4 263.3h0M473.4 421.5h0M382.0 473.0h0M454.7 414.1h0M472.2 384.1h0M559.5 444.1h0M397.1 494.9h0M498.7 466.9h0M506.0 496.7h0M273.8 539.3h0M564.1 343.6h0M561.4 471.0h0M493.6 449.8h0M559.4 305.5h0M501.4 439.4h0M551.2 428.8h0M553.8 454.4h0M238.3 530.5h0M509.8 432.2h0M454.8 489.3h0M486.2 414.2h0M206.8 546.6h0M553.2 447.4h0M366.3 512.3h0M450.2 409.7h0M501.4 494.7h0M410.1 400.9h0M557.1 447.2h0M525.6 370.8h0M569.5 295.9h0M508.6 492.2h0M311.6 526.6h0M534.9 396.3h0M575.6 276.1h0M400.3 498.1h0M560.9 277.2h0M522.9 392.6h0M565.8 436.1h0M450.0 509.1h0M459.0 492.0h0M342.1 504.5h0M385.9 480.5h0M456.7 454.8h0M510.9 394.5h0M578.8 324.2h0M559.9 449.3h0M385.2 464.6h0M573.8 347.4h0M229.2 541.6h0M578.5 349.0h0M590.9 343.8h0M500.8 488.6h0M243.9 524.0h0M263.9 535.8h0M556.4 433.3h0M486.1 464.5h0M360.5 523.9h0M241.2 527.4h0M438.3 485.2h0M275.1 532.2h0M477.4 397.6h0M554.2 433.8h0M247.1 523.2h0M255.1 531.4h0M274.3 535.6h0M258.4 527.8h0M556.4 446.9h0M555.9 413.4h0M537.8 425.1h0M557.3 434.3h0M265.1 535.8h0M521.3 354.7h0M557.2 427.6h0M549.8 446.3h0M322.1 513.9h0M180.2 554.9h0M478.1 398.8h0M485.2 423.8h0M461.3 334.6h0M573.2 439.1h0M569.0 451.9h0M236.6 532.5h0M532.5 392.7h0M575.4 277.0h0M393.8 493.0h0M290.5 505.0h0M406.7 443.8h0M542.3 396.9h0M429.5 445.9h0M556.9 418.6h0M541.0 396.0h0M510.9 344.0h0M406.7 503.4h0M545.6 442.3h0M481.9 375.6h0M560.9 377.0h0M501.1 484.2h0M571.5 390.6h0M364.5 502.4h0M561.2 430.5h0M396.2 491.6h0M456.4 478.0h0M242.9 526.1h0M404.5 501.5h0M407.6 463.1h0M446.9 419.6h0M484.3 448.3h0M573.1 269.6h0M574.0 247.9h0M442.4 479.1h0M556.2 431.8h0M461.7 447.6h0M416.3 399.0h0M434.8 463.8h0M557.7 293.6h0M403.5 511.6h0M269.0 539.8h0M555.8 459.4h0M497.2 491.9h0M363.5 518.3h0M235.7 533.3h0M407.9 500.1h0M549.4 452.2h0M571.1 433.0h0M463.1 367.1h0M486.7 474.3h0M505.6 407.1h0M366.9 499.1h0M300.2 512.1h0M485.7 417.8h0M481.8 425.0h0M510.4 416.7h0M405.4 446.2h0M212.9 550.5h0M570.4 271.2h0M441.5 480.2h0M576.1 405.1h0M479.2 447.5h0M364.6 510.0h0M317.4 527.9h0M546.0 423.6h0M508.6 447.6h0M452.6 502.9h0M463.6 340.1h0M316.7 528.4h0M402.2 513.9h0M493.5 453.9h0M360.5 520.8h0M549.2 452.8h0M525.6 337.3h0M487.1 404.2h0M553.6 399.8h0M510.7 442.5h0M531.5 380.2h0M269.8 540.4h0M541.9 381.9h0M277.3 520.2h0M415.7 425.9h0M405.6 513.5h0M458.1 345.7h0M457.6 426.3h0M460.7 355.9h0M558.5 418.7h0M497.4 478.6h0M502.1 438.2h0M496.0 493.8h0M367.0 445.5h0M589.1 349.7h0M510.8 490.4h0M569.7 248.1h0M462.1 434.4h0M521.4 324.0h0M567.9 345.5h0M418.2 396.8h0M187.7 552.0h0M456.0 444.4h0M316.6 526.5h0M447.8 491.7h0M569.6 452.1h0M238.7 533.8h0M568.2 463.3h0M516.5 324.6h0M491.3 455.3h0M383.1 462.7h0M546.8 413.6h0M553.3 439.7h0M212.3 548.2h0M470.7 399.1h0M507.7 491.6h0M449.7 408.5h0M333.1 482.3h0M490.8 435.2h0M571.7 287.9h0M574.4 309.6h0M451.5 503.8h0M536.4 354.0h0M570.5 363.9h0M478.2 435.3h0M364.7 507.2h0M457.8 358.8h0M353.4 513.3h0M455.4 460.9h0M464.9 424.3h0M568.4 245.2h0M562.9 380.2h0M407.2 493.7h0M574.7 294.0h0M415.5 404.9h0M469.2 389.9h0M269.1 541.9h0M565.6 456.3h0M365.4 515.9h0M513.7 321.5h0M303.6 513.9h0M572.2 278.2h0M511.5 372.5h0M191.8 550.9h0M366.7 490.7h0M554.9 441.7h0M277.4 524.2h0M391.8 497.1h0M367.8 463.5h0M549.2 406.5h0M579.5 304.8h0M455.8 444.0h0M557.6 448.2h0M319.5 522.1h0M322.6 494.5h0M226.2 545.6h0M418.4 394.8h0M586.8 348.3h0M520.8 324.6h0M352.0 507.7h0M549.0 452.0h0M489.6 446.4h0M588.5 370.8h0M560.7 395.8h0M232.5 539.6h0M410.0 445.2h0M409.9 451.9h0M571.4 254.0h0M456.8 391.1h0M554.5 454.3h0M277.8 530.0h0M579.8 294.7h0M263.0 536.6h0M238.7 531.7h0M451.4 483.5h0M273.6 536.6h0M363.3 489.8h0M484.2 450.9h0M568.1 324.2h0M523.3 334.7h0M586.8 373.4h0M539.6 378.1h0M351.8 510.1h0M456.7 510.7h0M290.5 506.1h0M449.4 509.8h0M556.5 355.7h0M251.3 522.6h0M506.3 454.1h0M441.1 486.9h0M382.7 477.9h0M491.8 440.8h0M218.2 549.9h0M560.4 358.3h0M325.6 501.0h0M515.3 331.6h0M564.9 468.8h0M570.6 276.2h0M521.7 357.6h0M559.6 475.5h0M456.4 406.1h0M321.9 511.0h0M576.5 327.1h0M568.5 464.9h0M571.6 383.4h0M505.8 407.6h0M362.6 526.5h0M546.6 438.0h0M569.3 471.4h0M512.1 442.5h0M587.0 361.6h0M580.9 265.3h0M318.1 523.7h0M196.4 545.8h0M409.3 470.0h0M541.0 403.4h0M540.4 409.1h0M485.1 444.9h0M503.3 487.7h0M548.1 440.6h0M511.5 304.5h0M464.7 381.6h0M172.5 556.4h0M363.5 514.2h0M589.0 359.3h0M184.2 551.8h0M502.7 431.6h0M359.1 518.9h0M580.4 278.5h0M562.9 428.4h0M275.8 529.4h0M569.9 381.3h0M489.5 474.0h0M390.3 475.8h0M563.0 442.4h0M303.1 515.3h0M448.4 499.3h0M542.2 387.7h0M481.1 421.6h0M318.7 510.4h0M297.5 509.2h0M551.8 432.1h0M431.5 450.5h0M585.8 329.2h0M497.8 474.2h0M310.7 520.2h0M350.2 505.8h0M573.3 284.5h0" stroke="#555" stroke-opacity="0.048" stroke-width="1.9" stroke-linecap="round" fill="none"/>
<path d="M396.8 507.5h0M274.4 530.7h0M558.8 454.8h0M360.6 518.3h0M573.9 360.5h0M431.5 427.5h0M565.2 247.0h0M488.1 468.9h0M587.6 294.7h0M492.1 467.4h0M357.8 518.9h0M257.2 533.5h0M479.8 419.5h0M451.7 408.1h0M451.7 516.0h0M574.1 301.4h0M565.6 463.6h0M364.4 503.6h0M589.8 263.8h0M217.9 549.0h0M462.3 412.6h0M412.7 398.7h0M460.5 483.6h0M253.5 527.9h0M410.7 409.5h0M377.7 463.6h0M532.8 405.7h0M410.6 507.7h0M563.7 444.6h0M404.0 512.7h0M409.5 499.1h0M230.7 540.8h0M400.8 501.8h0M586.0 280.3h0M483.3 466.5h0M590.6 303.0h0M568.7 402.9h0M535.0 389.5h0M587.3 355.2h0M527.2 390.3h0M521.8 320.0h0M384.3 482.3h0M565.5 239.7h0M571.1 245.8h0M535.3 389.0h0M482.7 419.8h0M507.9 393.0h0M339.2 487.2h0M205.8 544.9h0M503.7 490.1h0M398.7 502.6h0M321.1 513.6h0M461.9 336.4h0M567.9 272.9h0M462.2 390.0h0M360.5 504.3h0M509.1 495.1h0M430.8 442.9h0M479.2 452.1h0M453.6 509.9h0M541.0 419.0h0M486.9 423.9h0M566.6 427.9h0M561.5 447.2h0M288.1 502.7h0M578.4 291.4h0M502.8 334.3h0M365.6 500.6h0M222.7 547.5h0M572.3 410.8h0M505.0 418.9h0M571.3 469.2h0M543.1 392.2h0M429.7 424.9h0M584.8 293.3h0M441.2 469.6h0M454.5 440.5h0M449.5 418.0h0M545.5 437.2h0M508.2 322.8h0M302.3 522.4h0M585.1 285.3h0M427.3 418.2h0M542.5 407.2h0M495.3 489.9h0M430.2 458.0h0M416.9 407.0h0M541.9 365.3h0M508.6 457.5h0M487.4 458.3h0M273.9 529.8h0M458.4 457.0h0M455.4 477.9h0M219.6 550.2h0M574.9 336.5h0M488.2 438.7h0M459.1 483.0h0M318.4 523.8h0M535.2 358.4h0M515.6 320.9h0M433.1 428.8h0M577.5 346.9h0M536.1 372.5h0M491.0 455.9h0M370.0 436.3h0M539.5 424.5h0M487.6 464.6h0M504.1 317.9h0M477.2 440.9h0M565.4 479.2h0M497.6 384.1h0M567.3 481.8h0M568.3 428.3h0M218.4 549.0h0M560.9 454.4h0M437.3 466.4h0M229.1 544.6h0M332.1 482.5h0M360.1 527.7h0M544.8 393.4h0M443.3 490.1h0M408.5 519.5h0M419.2 393.4h0M282.3 522.0h0M227.7 545.6h0M234.2 539.0h0M506.3 365.9h0M392.9 474.7h0M544.4 395.7h0M338.5 488.4h0M455.3 508.2h0M238.2 531.7h0M500.4 438.5h0M455.4 516.1h0M451.9 502.0h0M369.5 463.2h0M482.9 467.6h0M449.7 465.3h0M449.4 510.6h0M568.6 435.0h0M418.8 395.3h0M509.5 389.9h0M464.9 342.8h0M362.6 492.2h0M514.5 343.5h0M510.9 488.8h0M441.3 481.6h0M562.1 291.0h0M576.3 261.2h0M553.4 445.9h0M564.8 256.8h0M508.8 376.7h0M490.0 432.9h0M415.1 434.0h0M412.9 419.0h0M576.2 322.2h0M284.5 509.0h0M578.1 328.6h0M185.0 552.0h0M305.4 514.8h0M495.2 471.4h0M458.9 345.5h0M434.6 472.7h0M323.2 512.0h0M356.7 514.9h0M425.0 418.5h0M500.8 497.4h0M487.4 434.7h0M502.2 448.2h0M560.9 456.0h0M424.1 428.1h0M382.3 468.9h0M531.9 375.5h0M443.5 475.1h0M182.2 553.1h0M408.4 510.8h0M469.2 357.6h0M556.9 426.6h0M170.6 556.1h0M494.4 452.0h0M449.1 463.4h0M226.8 545.6h0M562.3 458.8h0M543.8 404.4h0M316.9 521.0h0M570.3 362.8h0M570.0 237.9h0M411.5 430.8h0M518.2 327.9h0M490.6 436.8h0M463.0 403.3h0M208.6 545.0h0M557.0 472.6h0M410.5 472.1h0M568.5 457.8h0M531.1 390.1h0M523.7 361.6h0M567.5 276.5h0M559.2 436.6h0M502.7 443.8h0M468.4 350.5h0M555.4 408.9h0M189.9 550.3h0M212.3 548.8h0M511.0 431.5h0M514.7 339.1h0M564.5 280.3h0M451.2 482.5h0M450.0 469.4h0M574.3 251.5h0M547.2 418.1h0M316.4 527.8h0M569.5 283.9h0M501.5 454.5h0M194.6 547.5h0M417.4 421.1h0M573.7 436.3h0M455.2 462.2h0M369.7 476.4h0M422.4 429.6h0M499.2 483.8h0M368.6 477.7h0M571.6 316.2h0M360.1 518.6h0M545.7 435.6h0M362.8 522.6h0M385.9 470.1h0M322.8 492.0h0M563.8 397.8h0M549.5 411.6h0M403.4 478.4h0M591.1 295.8h0M586.5 375.7h0M510.4 389.6h0M363.1 507.1h0M512.3 323.5h0M532.8 403.0h0M535.8 423.4h0M571.9 273.1h0M485.6 442.0h0M321.6 489.2h0M452.1 507.0h0M448.1 471.5h0M568.0 452.4h0M456.1 522.0h0M349.0 505.4h0M272.8 536.1h0M536.8 390.5h0M182.1 553.1h0M576.7 332.7h0M569.8 398.4h0M574.4 376.8h0M560.7 459.0h0M222.0 550.1h0M270.3 540.1h0M314.1 528.6h0M415.9 453.4h0M563.0 444.8h0M362.3 521.6h0M444.4 498.2h0M499.7 474.1h0M419.0 389.7h0M455.4 470.8h0M438.6 476.3h0M442.4 494.8h0M529.4 363.6h0M576.5 283.5h0M572.9 269.0h0M312.9 526.9h0M501.0 378.3h0M580.5 346.0h0M358.3 523.1h0M505.6 474.5h0M508.8 373.3h0M462.4 425.1h0M424.5 405.4h0M514.0 473.2h0M465.7 348.6h0M357.3 524.3h0M355.5 510.6h0M490.6 477.6h0M551.6 461.3h0M563.5 467.3h0M343.0 491.1h0M565.2 246.4h0M525.3 361.7h0M497.3 452.0h0M525.0 373.4h0M542.5 383.5h0M552.1 439.0h0M590.9 328.9h0M455.6 399.5h0M488.4 447.5h0M504.3 447.9h0M451.0 524.3h0M386.4 484.9h0M552.6 472.4h0M466.9 375.2h0M541.4 386.6h0M346.6 503.5h0M500.8 462.0h0M411.9 476.0h0M566.5 417.5h0M586.0 372.0h0M415.5 430.3h0M276.2 524.7h0M492.6 443.6h0M363.4 468.1h0M365.6 471.9h0M494.4 465.6h0M222.9 546.8h0M500.7 499.3h0M456.7 448.1h0M568.6 461.0h0M454.1 371.5h0M558.1 424.1h0M502.6 437.0h0M575.6 344.3h0M559.3 401.1h0M398.0 511.1h0M366.4 462.2h0M561.2 459.7h0M229.7 540.1h0M548.4 407.0h0M463.7 332.1h0M568.5 415.1h0M567.0 369.5h0M502.2 381.0h0M380.4 466.8h0M560.2 370.1h0M513.0 378.0h0M204.2 546.0h0M290.3 506.3h0M312.5 528.8h0M545.0 426.0h0M515.3 438.8h0M210.2 546.3h0M507.9 376.4h0M274.8 535.7h0M511.8 440.7h0M564.0 471.7h0M571.8 425.6h0M327.1 481.2h0M539.4 431.8h0M567.8 475.9h0M457.7 506.7h0M442.2 480.2h0M463.3 347.3h0M575.9 384.1h0M497.1 460.0h0M584.8 293.6h0M461.2 452.0h0M526.7 392.6h0M579.3 272.4h0M461.4 374.0h0M577.4 339.5h0M331.7 480.4h0M416.4 401.7h0M482.3 432.4h0M587.5 364.0h0M442.3 462.2h0M563.4 316.5h0M265.3 537.8h0M505.6 461.2h0M398.2 488.4h0M444.8 500.0h0M489.5 458.0h0M498.5 484.3h0M559.6 394.8h0M531.7 349.3h0M445.5 500.4h0M562.4 441.1h0M434.1 455.7h0M566.7 458.7h0M569.7 443.9h0M560.4 343.9h0M491.0 433.8h0M411.7 442.6h0M500.2 472.3h0M575.2 284.1h0M570.9 258.6h0M402.9 513.3h0M483.8 402.5h0M457.1 514.3h0M366.9 505.2h0M581.6 337.9h0M293.5 506.0h0M559.8 458.5h0M341.9 500.7h0M589.3 283.1h0M577.5 302.4h0M531.5 419.3h0M502.2 491.4h0M508.6 468.7h0M529.3 386.0h0M404.7 490.9h0M479.4 417.9h0M507.6 362.4h0M504.2 489.4h0M351.8 517.8h0M557.7 448.7h0M489.1 465.5h0M483.1 411.5h0M497.2 442.6h0M532.5 383.1h0M561.7 449.9h0M581.5 288.2h0M275.5 536.1h0M508.4 499.7h0M455.5 404.9h0M367.3 497.8h0M446.6 513.8h0M566.9 448.3h0M279.6 518.9h0M317.0 528.2h0M556.0 394.5h0M567.3 301.8h0M563.3 379.0h0M362.7 503.9h0M572.5 380.9h0M591.2 346.2h0M563.4 454.5h0M371.0 447.9h0M439.3 483.1h0M456.6 492.3h0M450.3 505.5h0M457.9 423.2h0M537.6 406.8h0M261.2 537.9h0M556.6 455.3h0M369.0 475.9h0M455.6 516.6h0M322.1 515.5h0M408.3 448.0h0M559.3 326.8h0M369.5 477.1h0M491.8 456.8h0M412.0 477.6h0M393.5 494.0h0M487.5 478.2h0M565.3 269.3h0M559.3 469.3h0M456.7 395.4h0M564.9 400.1h0M431.3 463.7h0M588.2 338.0h0M497.6 423.9h0M410.7 440.3h0M558.0 380.4h0M546.2 431.6h0M489.7 456.3h0M523.8 349.7h0M449.4 403.2h0M456.3 519.2h0M588.1 362.2h0M489.7 469.6h0M438.9 502.2h0M481.7 412.9h0M568.1 462.6h0M227.1 543.9h0M431.4 429.4h0M556.7 466.5h0M365.6 503.4h0M445.8 496.5h0M556.5 396.3h0M570.2 409.1h0M534.3 374.0h0M545.5 435.4h0M393.5 483.6h0M467.2 373.7h0M503.4 441.4h0M366.2 485.5h0M397.5 500.3h0M280.7 516.5h0M462.6 357.2h0M560.9 429.5h0M456.7 511.5h0M500.6 437.0h0M508.5 461.1h0M274.0 535.8h0M556.7 448.8h0M544.8 444.0h0M446.6 496.8h0M555.9 352.3h0M438.9 456.9h0M493.5 466.4h0M454.1 505.2h0M532.7 435.8h0M576.2 290.5h0M513.2 328.3h0M499.8 487.8h0M537.7 394.1h0M356.2 512.1h0M555.3 377.1h0M573.8 400.0h0M566.2 459.7h0M450.4 469.7h0M579.0 312.3h0M430.0 436.2h0M569.1 455.1h0M580.2 303.2h0M548.6 438.0h0M365.5 494.3h0M397.9 503.2h0M496.0 482.6h0M398.3 488.4h0M580.0 297.6h0M397.2 495.6h0M502.6 335.8h0M546.5 422.7h0M393.4 488.5h0M541.9 447.7h0M376.9 457.4h0M501.9 485.1h0M579.3 292.0h0M458.1 347.0h0M453.2 452.3h0M416.1 408.7h0M430.9 470.1h0M582.8 295.1h0M581.3 355.1h0M500.1 470.3h0M318.6 524.7h0M564.8 439.0h0M437.9 492.7h0M553.8 439.8h0M451.6 382.4h0M481.5 405.5h0M531.5 379.0h0M559.0 450.6h0M449.5 484.5h0M506.9 464.7h0M565.3 462.0h0M575.7 284.1h0M571.2 461.8h0M568.5 273.2h0M404.0 504.4h0M564.2 485.6h0M501.6 347.4h0M367.9 461.2h0M473.5 376.4h0M436.6 436.5h0M275.8 533.9h0M450.2 501.9h0M539.0 416.4h0M569.7 364.9h0M538.4 392.3h0M551.5 463.4h0M374.1 450.8h0M555.6 435.4h0M261.8 536.0h0M235.9 535.8h0M556.4 460.8h0M364.2 495.5h0M485.8 444.2h0M454.3 466.6h0M421.3 421.5h0M499.0 504.8h0M195.7 547.1h0M509.7 400.9h0M490.7 471.5h0M453.0 364.0h0M516.9 382.0h0M431.6 454.4h0M175.6 554.8h0M405.7 504.4h0M408.9 470.2h0M522.1 326.6h0M489.0 462.9h0M509.4 396.3h0M513.0 413.6h0M579.6 336.6h0M458.6 458.5h0M264.5 536.5h0M325.6 487.0h0M522.7 355.9h0M545.2 408.8h0M555.8 431.0h0M455.6 424.9h0M411.0 419.3h0M578.6 299.4h0M458.1 363.3h0M269.0 540.9h0M565.7 245.3h0M557.7 346.1h0M553.3 428.5h0M234.6 534.2h0M591.3 369.2h0M498.8 396.7h0M322.3 497.3h0M401.7 505.4h0M400.4 501.3h0M209.8 548.6h0M413.8 453.6h0M293.3 501.9h0M272.9 538.3h0M462.1 438.7h0M557.3 472.3h0M526.4 341.2h0M500.1 484.0h0M457.0 387.6h0M500.9 480.2h0M498.6 487.6h0M432.4 463.5h0M428.5 447.8h0M272.0 535.7h0M515.1 308.6h0M264.7 535.5h0M361.1 518.9h0M407.9 506.2h0M510.4 477.5h0M517.4 406.8h0M217.4 546.9h0M407.1 478.6h0M460.6 426.0h0M556.7 441.9h0M406.6 488.6h0M446.0 505.3h0M452.9 491.7h0M590.3 333.5h0M506.8 392.4h0M571.2 425.1h0M512.0 427.3h0M551.5 463.4h0M490.4 473.2h0M438.9 472.9h0M495.9 496.2h0M510.9 410.7h0M336.3 484.8h0M512.7 318.2h0M458.5 425.7h0M455.3 483.2h0M568.1 382.0h0M284.6 512.4h0M555.2 377.6h0M466.7 380.3h0M523.8 334.3h0M264.6 534.9h0M510.6 496.4h0M498.3 490.0h0M543.7 395.0h0M559.2 441.9h0M403.6 508.8h0M572.0 289.4h0M220.6 549.8h0M319.9 516.9h0M356.2 521.2h0M256.6 528.3h0M304.7 518.6h0M532.6 385.4h0M526.6 368.0h0M342.0 496.0h0M533.2 403.3h0M487.7 403.5h0M566.1 338.5h0M483.8 454.0h0M572.8 381.4h0M362.5 472.0h0M450.8 380.7h0M488.6 423.4h0M228.8 542.6h0M306.9 518.3h0M408.2 482.2h0M366.2 470.5h0M510.3 359.4h0M403.0 508.3h0M453.2 519.3h0M507.0 473.4h0M396.1 503.5h0M275.7 535.8h0M507.6 388.9h0M369.1 446.8h0M583.9 295.5h0M508.9 457.3h0M190.0 551.2h0M353.0 512.3h0M272.6 531.0h0M455.2 465.1h0M566.3 415.2h0M571.6 312.4h0M398.1 491.5h0M534.0 357.7h0M464.0 376.3h0M435.5 454.4h0M360.7 488.0h0M544.2 418.5h0M272.8 536.9h0M571.7 399.6h0M482.7 445.7h0M565.0 340.1h0M563.6 454.9h0M569.5 394.9h0M368.4 476.8h0M482.5 405.3h0M564.7 431.0h0M584.8 346.5h0M360.4 496.5h0M472.4 409.4h0M397.2 504.1h0M554.9 372.0h0M496.6 476.0h0M557.4 353.0h0M316.6 531.6h0M430.4 440.9h0M461.0 407.2h0M344.7 493.1h0M439.3 497.6h0M453.6 386.2h0M449.3 477.0h0M501.0 500.0h0M566.7 347.1h0M307.7 514.6h0M406.1 436.1h0M516.5 317.2h0M508.7 385.3h0M232.9 539.8h0M357.7 514.7h0M572.9 301.9h0M486.3 419.5h0M361.5 494.5h0M390.9 486.0h0M349.5 511.1h0M557.9 439.1h0M405.9 495.4h0M560.9 457.4h0M436.9 457.6h0M460.0 497.7h0M435.0 456.0h0M452.5 498.9h0M409.8 497.3h0M488.3 419.1h0M563.1 439.3h0M478.0 432.4h0M221.2 549.2h0M572.6 426.2h0M498.6 393.0h0M486.3 457.7h0M455.9 505.2h0M485.9 420.3h0M570.8 414.4h0M365.9 507.0h0M559.2 396.8h0M407.7 464.8h0M554.0 461.0h0M518.5 346.7h0M457.1 341.4h0M232.7 539.7h0M317.4 517.2h0M550.8 406.2h0M575.8 335.3h0M456.3 453.2h0M492.2 477.1h0M466.7 360.0h0M560.7 412.0h0M481.3 404.4h0M563.0 448.8h0M345.2 494.2h0M451.7 478.9h0M311.3 520.6h0M498.5 475.6h0M557.3 446.7h0M453.0 400.0h0M458.4 431.2h0M279.6 521.9h0M526.4 388.4h0M457.3 500.8h0M364.8 501.3h0M449.2 420.2h0M359.7 500.7h0M446.9 487.2h0M524.9 349.1h0M388.0 481.8h0M326.8 487.9h0M576.1 278.9h0M570.6 443.9h0M483.7 454.8h0M443.9 508.6h0M565.8 441.8h0M399.8 499.0h0M461.1 377.8h0M387.2 478.5h0M457.5 494.3h0M285.7 511.5h0M360.7 496.1h0M589.5 305.8h0M568.6 275.2h0M514.7 321.7h0M504.0 403.5h0M368.2 481.1h0M309.1 522.4h0M415.7 458.6h0M444.0 509.2h0M449.9 504.8h0M435.7 433.5h0M466.7 378.8h0M558.3 322.1h0M447.7 492.6h0M408.2 471.1h0M260.9 533.4h0M561.0 465.1h0M554.5 480.8h0M504.8 428.8h0M307.3 515.7h0M409.4 458.2h0M368.7 486.4h0M432.0 461.4h0M568.8 256.4h0M568.6 477.4h0M516.9 353.7h0M173.6 556.8h0M350.8 509.7h0M425.8 418.7h0M506.0 501.7h0M489.0 448.8h0M562.0 458.1h0M504.7 489.5h0M559.5 332.7h0M479.0 444.0h0M556.2 444.7h0M238.0 530.4h0M271.0 536.2h0M404.5 497.2h0M223.3 546.5h0M562.5 476.3h0M557.9 441.5h0M539.9 410.8h0M365.2 472.9h0M271.3 537.7h0M343.4 493.9h0M509.7 503.2h0M204.6 543.9h0M450.9 499.1h0M397.4 501.1h0M310.3 527.3h0M363.0 506.2h0M558.4 472.9h0M563.4 267.2h0M506.3 479.4h0M349.1 507.4h0M323.2 510.8h0M502.6 493.3h0M509.0 367.8h0M567.4 460.5h0M567.8 322.5h0M546.6 396.7h0M458.5 456.7h0M447.4 443.5h0M517.6 325.0h0M483.5 417.6h0M408.4 433.4h0M228.6 542.3h0M428.5 455.2h0M510.0 478.9h0M508.5 393.9h0M556.0 459.2h0M433.8 449.4h0M572.8 347.9h0M442.2 502.0h0M433.6 467.7h0M502.7 489.6h0M555.3 461.3h0M561.7 320.7h0M406.9 498.2h0M401.1 503.9h0M386.6 476.8h0M552.7 433.7h0M461.2 468.4h0M445.3 491.0h0M456.1 444.7h0M358.4 519.0h0M430.6 465.8h0M447.8 500.6h0M372.3 446.2h0M495.7 468.9h0M452.7 380.3h0M492.2 437.7h0M558.5 450.1h0M514.3 335.8h0M468.7 356.2h0M449.1 505.5h0M421.6 409.3h0M511.2 425.8h0M493.3 438.7h0M505.9 456.7h0M562.1 458.3h0M501.8 426.8h0M432.9 437.1h0M317.2 517.7h0M561.8 300.1h0M456.6 396.3h0M546.4 429.1h0M540.5 411.3h0M388.6 479.0h0M573.8 298.8h0M580.3 313.5h0M507.0 398.5h0M511.0 373.4h0M437.1 479.9h0M453.0 397.1h0M346.5 497.4h0M537.8 406.7h0M574.9 407.4h0M404.8 476.3h0M454.5 482.9h0M534.9 425.4h0M569.4 423.4h0M498.0 476.8h0M311.6 531.6h0M254.9 529.1h0M436.1 433.1h0M414.9 413.5h0M448.9 490.6h0M397.4 505.1h0M406.6 471.6h0M546.3 452.5h0M448.6 506.7h0M496.2 466.9h0M241.6 526.5h0M591.1 319.8h0M514.6 333.3h0M358.9 515.4h0M582.6 279.3h0M573.7 434.2h0M493.4 482.3h0M567.9 390.8h0M364.5 520.6h0M271.4 533.7h0M591.3 322.3h0M420.7 418.7h0M350.2 508.1h0M402.5 507.9h0M457.1 463.7h0M564.0 273.4h0M582.7 325.6h0M470.3 386.9h0M371.0 446.3h0M193.7 549.0h0M342.8 506.1h0M566.5 481.3h0M469.8 400.0h0M451.6 390.8h0M510.3 457.4h0M590.0 343.8h0M562.5 345.1h0M510.5 468.8h0M411.2 467.8h0M542.1 446.0h0M446.7 503.9h0M462.6 400.1h0M500.9 506.9h0M464.5 423.6h0M484.9 392.9h0M569.1 280.6h0M559.2 471.5h0M225.3 544.0h0M459.4 474.0h0M565.4 472.9h0M309.4 523.2h0M579.6 312.9h0M454.9 450.7h0M411.8 450.7h0M584.1 354.2h0M576.6 302.7h0M571.4 300.0h0M561.5 460.0h0M518.8 353.1h0M411.1 452.3h0M312.5 526.4h0M360.2 521.1h0M462.3 385.3h0M440.1 460.3h0M363.8 503.7h0M565.4 473.0h0M449.0 494.6h0M565.6 471.3h0M567.7 265.8h0M333.3 482.9h0M505.1 489.6h0M348.7 507.2h0M562.1 449.6h0M535.6 385.4h0M544.5 416.6h0M463.8 349.9h0M561.7 470.4h0M385.5 472.7h0M566.1 343.4h0M498.2 404.4h0M386.7 487.1h0M566.9 354.6h0M457.0 451.1h0M576.1 306.2h0M509.9 344.2h0M549.5 413.7h0M427.4 462.7h0M256.7 533.8h0M364.9 513.3h0M497.5 448.4h0M353.1 510.1h0M402.9 505.3h0M504.9 331.8h0M252.4 526.7h0M455.5 480.0h0M569.0 410.3h0M307.4 525.9h0M273.3 534.9h0M587.3 318.3h0M505.2 423.9h0M217.8 549.1h0M396.8 491.0h0M418.3 421.7h0M562.5 436.8h0M559.6 416.5h0M387.1 468.6h0M502.2 486.9h0M308.3 521.9h0M582.5 309.9h0M451.5 460.2h0M306.1 520.0h0M318.2 524.3h0M274.8 531.3h0M573.2 307.2h0M414.5 396.2h0M523.6 388.4h0M343.4 494.2h0M565.3 394.3h0M492.4 487.6h0M258.9 535.8h0M365.3 483.8h0M347.7 504.5h0M537.9 433.8h0M436.0 457.7h0M575.7 405.8h0M345.0 490.8h0M359.2 516.9h0M475.7 410.6h0M436.8 459.1h0M548.5 420.7h0M313.8 528.7h0M551.2 451.0h0M497.9 480.6h0M563.9 414.8h0M559.6 408.7h0M561.5 388.5h0M293.9 510.4h0M451.3 404.7h0M311.3 523.7h0M483.3 419.1h0M521.0 346.5h0M561.8 391.2h0M429.2 437.2h0M462.7 451.9h0M550.9 423.8h0M470.4 371.2h0M588.5 321.4h0M483.2 405.7h0M495.7 461.3h0M197.3 546.8h0M320.1 509.6h0M363.0 482.2h0M550.1 453.9h0M220.7 547.8h0M510.6 368.3h0M215.5 548.8h0M563.6 415.7h0M461.4 482.9h0M586.1 303.0h0M411.4 469.4h0M453.5 506.5h0M573.5 253.0h0M309.8 526.7h0M452.4 484.2h0M566.6 396.1h0M557.0 436.3h0M404.4 490.8h0M559.0 363.3h0M440.9 488.6h0M508.6 490.0h0M577.8 269.5h0M444.9 489.3h0M508.4 379.7h0M435.0 440.0h0M366.7 491.2h0M556.1 449.3h0M277.7 518.6h0M510.7 465.9h0M482.0 417.3h0M400.5 504.6h0M445.0 506.1h0M400.2 506.6h0M553.7 422.2h0M515.8 351.3h0M584.6 275.2h0M350.9 515.8h0M500.5 496.9h0M569.7 312.2h0M519.3 341.0h0M270.5 539.9h0M453.9 517.7h0M558.2 356.5h0M454.1 514.0h0M574.7 390.5h0M484.3 421.8h0M554.8 433.0h0M533.3 402.8h0M448.3 437.4h0M528.0 338.7h0M558.4 422.3h0M485.5 458.7h0M456.5 443.0h0M484.2 429.4h0M410.2 421.1h0M579.1 269.8h0M455.0 362.2h0M557.8 450.1h0M541.1 423.7h0M577.5 325.0h0M547.7 400.7h0M269.9 537.3h0M474.8 408.6h0M510.0 424.0h0M323.4 488.3h0M498.6 399.2h0M427.3 404.5h0M568.6 436.7h0M367.5 489.5h0M482.5 457.3h0M227.8 544.4h0M275.3 530.5h0M448.5 509.9h0M398.5 493.6h0M458.2 323.8h0M507.1 393.4h0M566.4 390.3h0M236.1 532.7h0M454.4 505.9h0M570.2 262.7h0M472.7 372.0h0M471.3 353.0h0M452.9 499.6h0M552.3 454.2h0M570.6 251.5h0M564.3 248.8h0M234.3 536.3h0M209.9 546.0h0M569.7 302.0h0M225.5 546.5h0M538.1 407.3h0M519.4 336.1h0M431.9 441.6h0M563.8 284.8h0M540.6 431.5h0M361.1 504.1h0M502.1 497.9h0M575.2 306.4h0M189.5 552.2h0M447.8 485.8h0M499.3 478.9h0M490.3 485.2h0M584.6 309.6h0M443.8 499.1h0M511.0 476.1h0M364.8 516.4h0M465.6 361.1h0M577.6 273.2h0M565.7 326.1h0M444.8 486.0h0M348.7 509.7h0M549.4 452.7h0M587.8 336.9h0M489.0 463.5h0M420.1 418.2h0M460.1 422.6h0M521.9 307.0h0M569.3 466.6h0M589.5 364.8h0M362.7 462.2h0M511.0 346.0h0M571.8 315.6h0M491.1 476.6h0M556.3 465.9h0M406.7 432.5h0M569.9 431.0h0M568.5 427.3h0M262.1 537.3h0M481.8 426.0h0M510.5 408.6h0M450.4 455.4h0M477.8 397.0h0M381.9 473.4h0M576.1 319.0h0M562.4 447.6h0M338.6 489.3h0M509.7 486.5h0M320.1 515.5h0M457.7 373.0h0M457.8 344.5h0M512.2 378.9h0M243.7 526.5h0M368.3 480.8h0M434.2 468.1h0M545.8 441.4h0M504.6 494.7h0M510.8 388.0h0M450.4 466.3h0M515.3 452.0h0M478.7 434.3h0M409.3 462.4h0M315.7 524.0h0M389.1 471.7h0M397.2 482.4h0M412.9 386.1h0M561.3 329.5h0M571.4 275.5h0M585.9 373.0h0M458.8 446.4h0M462.1 430.1h0M569.6 259.0h0M459.0 486.3h0M218.3 550.3h0M323.7 501.4h0M564.7 374.5h0M539.5 424.5h0M394.4 499.6h0M535.2 419.9h0M561.4 440.4h0M503.0 506.9h0M515.2 316.5h0M455.9 497.9h0M544.3 401.9h0M549.9 420.2h0M340.6 496.5h0M394.0 502.8h0M477.0 435.7h0M501.3 453.2h0M408.5 508.0h0M367.3 499.6h0M558.3 467.0h0M364.9 515.2h0M530.0 347.8h0M523.1 379.5h0M549.4 448.2h0M404.9 508.5h0M460.1 379.0h0M513.4 394.8h0M454.8 452.6h0M579.1 290.0h0M416.7 446.3h0M461.9 332.0h0M556.1 388.7h0M556.1 439.6h0M492.8 424.4h0M503.3 358.6h0M515.5 405.7h0M565.7 423.2h0M416.6 431.9h0M281.8 512.2h0M498.1 384.0h0M236.7 531.9h0M402.0 501.7h0M512.6 346.0h0M520.6 372.8h0M489.3 416.4h0M410.6 448.7h0M573.9 383.9h0M575.8 435.5h0M568.0 258.1h0M565.4 360.8h0M549.9 422.4h0M360.6 509.3h0M267.0 537.6h0M415.3 404.5h0M450.0 485.7h0M241.8 528.9h0M318.9 517.9h0M544.8 442.5h0M454.1 369.1h0M245.6 526.1h0M320.6 506.5h0M410.1 477.0h0M570.6 325.9h0M207.4 547.5h0M352.4 513.8h0M352.5 506.8h0M410.3 439.7h0M556.2 435.5h0M365.6 500.6h0M225.2 547.4h0M405.6 442.8h0M407.0 479.4h0M518.7 341.3h0M501.8 490.1h0M444.1 501.5h0M446.7 474.1h0M515.8 320.0h0M545.0 446.4h0M507.9 483.0h0M455.6 514.3h0M564.1 469.6h0M555.1 442.2h0M301.1 514.9h0M580.4 333.6h0M514.3 390.3h0M558.1 438.8h0M274.8 535.6h0M453.6 427.0h0M455.0 522.2h0M559.0 347.1h0M559.1 442.6h0M493.4 480.0h0M507.6 430.6h0M450.3 489.3h0M501.4 465.3h0M564.4 385.2h0M269.6 537.6h0M504.5 313.2h0M582.0 284.8h0M435.2 480.6h0M492.8 465.5h0M318.6 515.4h0M569.3 248.6h0M451.6 511.3h0M450.9 492.0h0M500.9 436.0h0M410.5 493.1h0M545.3 455.7h0M501.6 334.6h0M343.2 495.7h0M448.8 508.6h0M446.4 510.1h0M364.7 512.9h0M514.5 388.4h0M557.2 422.0h0M224.5 547.9h0M537.3 425.8h0M584.3 318.5h0M445.0 476.7h0M568.5 404.7h0M485.0 451.0h0M455.4 453.4h0M510.1 496.5h0M519.3 349.1h0M549.6 448.0h0M446.3 497.7h0M558.2 460.6h0M537.5 365.2h0M570.9 398.3h0M408.8 468.9h0M516.0 371.5h0M419.8 414.9h0M430.3 467.0h0M326.6 491.1h0M554.9 423.1h0M407.9 415.6h0M514.0 429.1h0M514.1 314.5h0M586.2 296.2h0M562.9 369.3h0M405.6 503.8h0M574.8 281.8h0M573.0 405.3h0M202.0 544.0h0M483.4 419.0h0M501.8 441.2h0M534.0 379.2h0M538.0 387.6h0M245.0 527.6h0M274.0 537.1h0M502.3 492.2h0M486.1 451.9h0M444.8 500.2h0M432.8 465.9h0M274.1 536.5h0M568.6 321.2h0M329.5 478.2h0M492.1 482.8h0M504.6 485.6h0M408.3 468.8h0M422.4 399.0h0M340.4 493.3h0M470.8 397.2h0M560.7 476.6h0M406.7 494.1h0M476.4 415.1h0M369.2 441.7h0M547.5 434.3h0M564.2 424.9h0M562.2 298.0h0M513.5 353.1h0M454.6 509.9h0M519.1 321.8h0M300.4 517.7h0M219.1 550.3h0M574.5 281.3h0M584.3 317.1h0M583.9 303.9h0M562.7 314.9h0M571.2 261.3h0M544.1 419.0h0M557.3 451.6h0M461.5 338.4h0M401.2 506.1h0M503.4 492.8h0M217.0 548.2h0M414.0 423.1h0M551.5 433.3h0M512.5 314.2h0M576.8 384.0h0M454.9 380.8h0M520.0 326.6h0M565.0 446.5h0M504.8 492.3h0M454.7 511.8h0M528.9 404.4h0M580.3 354.0h0M368.7 461.9h0M397.1 491.9h0M462.7 443.7h0M449.8 415.1h0M443.0 490.2h0M471.4 343.4h0M502.7 470.4h0M416.1 391.0h0M566.3 368.9h0M307.2 522.7h0M479.0 396.7h0M557.4 393.1h0M270.4 540.3h0M574.6 318.1h0M528.9 384.9h0M231.7 538.3h0M420.3 402.0h0M540.1 415.5h0M340.3 484.8h0M413.6 483.5h0M403.9 504.9h0M591.3 376.9h0M360.4 523.3h0M409.7 488.2h0M479.3 438.4h0M524.7 374.0h0M514.2 440.0h0M548.1 414.7h0M433.8 477.5h0M505.2 499.5h0M493.9 498.1h0M229.8 542.4h0M510.8 397.3h0M534.0 364.5h0M405.7 500.1h0M259.6 535.1h0M495.7 470.2h0M564.0 376.8h0M469.9 387.4h0M504.4 477.3h0M534.2 413.3h0M556.5 431.2h0M212.4 547.3h0M329.4 479.1h0M440.8 459.9h0M567.1 294.1h0M499.7 477.7h0M418.0 401.8h0M478.6 384.7h0M500.4 473.2h0M227.0 544.0h0M534.7 368.0h0M557.2 450.7h0M504.1 493.8h0M343.7 493.7h0M552.6 433.0h0M360.6 519.6h0M526.9 388.7h0M453.5 458.1h0M493.0 499.6h0M358.9 520.4h0M287.0 509.8h0M557.9 470.7h0M271.2 540.7h0M417.8 393.3h0M482.1 395.1h0M558.9 423.6h0M549.2 420.5h0M441.6 462.6h0M557.8 484.0h0M558.5 464.0h0M566.3 365.5h0M230.5 543.0h0M413.0 426.9h0M531.6 367.8h0M404.6 493.2h0M589.7 329.5h0M484.7 449.0h0M315.5 527.7h0M558.4 465.1h0M555.7 447.9h0M559.7 293.9h0M404.9 517.1h0M224.6 547.2h0M454.8 442.1h0M465.4 349.7h0M471.0 353.7h0M166.1 558.3h0M455.3 460.8h0M459.1 441.5h0M561.9 277.5h0M319.9 516.2h0M503.4 487.1h0M359.6 524.0h0M523.5 361.3h0M436.5 458.2h0M319.8 522.0h0M316.7 518.4h0M333.8 482.8h0M575.5 399.4h0M557.7 467.5h0M520.1 360.0h0M231.3 542.2h0M403.9 505.9h0M477.9 433.5h0M472.6 397.4h0M406.1 519.5h0M505.6 429.5h0M317.7 520.4h0M582.4 276.6h0M514.7 340.3h0M260.5 533.2h0M353.9 514.8h0M378.3 464.5h0M453.6 513.8h0M574.5 277.2h0M452.1 518.4h0M443.2 468.0h0M570.8 306.4h0M501.5 485.8h0M353.5 515.5h0M542.5 422.6h0M536.4 406.0h0M575.4 367.3h0M384.2 470.0h0M371.7 452.5h0M362.9 482.6h0M557.3 450.4h0M564.8 265.2h0M213.9 548.7h0M531.5 401.7h0M561.7 399.5h0M505.5 463.8h0M308.7 524.2h0M396.9 497.8h0M411.4 458.3h0M398.8 498.2h0M364.1 491.9h0M477.7 411.6h0M571.0 312.3h0M382.0 471.0h0M255.4 529.7h0M567.5 418.3h0M559.7 432.6h0M562.1 474.4h0M402.7 494.9h0M500.3 502.2h0M508.7 377.2h0M363.4 505.8h0M563.5 460.3h0M406.3 504.0h0M447.4 517.8h0M555.3 413.3h0M512.9 420.8h0M448.4 505.1h0M482.9 414.5h0M273.8 536.1h0M436.7 481.5h0M511.8 357.9h0M361.6 510.4h0M515.9 426.6h0M588.0 362.0h0M497.2 502.4h0M460.6 451.8h0M560.4 471.2h0M523.8 338.7h0M478.1 450.8h0M549.9 418.1h0M369.0 457.7h0M469.5 371.2h0M537.1 386.5h0M353.0 512.9h0M272.4 536.1h0M266.1 537.1h0M252.1 530.7h0M361.4 509.2h0M181.7 554.0h0M584.5 341.1h0M448.0 514.1h0M410.2 488.6h0M567.8 307.5h0M549.5 456.0h0M494.9 486.8h0M512.8 438.0h0M589.2 368.1h0M539.8 391.5h0M280.3 520.6h0M354.0 512.7h0M570.2 395.7h0M229.9 543.0h0M566.5 420.5h0M564.1 341.9h0M559.9 470.9h0M493.2 477.8h0M477.2 413.4h0M482.5 440.5h0M452.8 412.4h0M260.0 535.1h0M360.9 504.9h0M552.2 415.4h0M490.0 472.8h0M445.7 507.1h0M424.3 404.4h0M580.0 299.7h0M487.2 412.7h0M471.6 388.9h0M504.4 500.8h0M505.6 411.4h0M528.5 394.3h0M557.7 464.1h0M560.0 431.1h0M503.7 438.3h0M429.5 425.0h0M566.8 262.0h0M273.6 534.5h0M588.8 283.3h0M481.4 412.0h0M404.5 458.8h0M405.2 432.6h0M562.9 265.6h0M512.7 438.8h0M505.1 339.4h0M584.2 348.2h0M561.4 468.2h0M576.0 292.4h0M568.4 391.6h0M371.5 461.8h0M563.1 263.7h0M191.7 550.0h0M552.9 426.8h0M481.7 417.2h0M238.7 534.7h0M501.6 494.4h0M499.2 482.7h0M427.2 434.1h0M513.9 352.6h0M573.3 308.4h0M356.0 509.6h0M196.3 547.4h0M563.5 459.3h0M507.3 419.0h0M572.4 418.5h0M386.8 486.9h0M564.5 270.5h0M257.4 530.9h0M449.3 445.4h0M260.1 537.4h0M265.4 538.9h0M570.3 393.3h0M338.9 487.0h0M369.0 476.3h0M346.8 501.9h0M487.8 426.5h0M412.5 464.8h0M206.2 545.7h0M367.3 454.9h0M450.7 489.5h0M484.4 437.1h0M409.0 460.3h0M485.8 410.3h0M506.8 441.3h0M391.6 491.2h0M433.0 437.3h0M578.1 368.0h0M564.5 457.9h0M394.8 480.1h0M554.8 465.1h0M526.3 364.5h0M453.1 495.2h0M457.0 506.3h0M559.9 303.4h0M449.2 499.9h0M395.6 508.0h0M437.6 474.9h0M303.6 516.6h0M330.2 475.7h0M560.3 474.5h0M435.7 445.0h0M346.7 505.8h0M225.1 548.2h0M451.4 509.0h0M347.7 497.5h0M402.7 482.5h0M451.3 401.4h0M400.2 509.3h0M508.1 444.4h0M582.3 298.0h0M556.5 451.6h0M448.1 504.9h0M444.6 494.2h0M476.5 430.2h0M459.8 344.9h0M439.5 489.1h0M490.5 472.1h0M534.7 405.3h0M476.1 371.2h0M578.0 404.9h0M529.9 368.9h0M267.8 538.8h0M452.1 474.2h0M514.8 339.1h0M571.8 256.2h0M565.2 472.0h0M407.8 471.5h0M574.2 331.1h0M477.5 412.7h0M457.7 382.7h0M419.5 426.3h0M360.9 501.8h0M456.2 477.5h0M407.5 469.9h0M458.8 476.5h0M480.3 427.8h0M405.5 452.2h0M460.6 405.2h0M561.5 479.0h0M584.3 367.3h0M394.5 481.2h0M327.4 474.4h0M449.3 513.6h0M502.7 475.4h0M503.9 490.1h0M404.0 481.8h0M362.0 509.0h0M486.2 436.1h0M225.8 546.1h0M224.8 545.8h0M411.6 492.2h0M205.2 545.8h0M582.0 290.3h0M558.6 362.6h0M551.5 415.9h0M331.8 473.3h0M412.5 479.7h0M278.8 522.0h0M458.2 415.6h0M566.2 390.0h0M416.5 391.5h0M552.9 437.6h0M495.5 466.0h0M413.9 441.5h0M227.4 543.7h0M556.6 467.8h0M376.7 462.2h0M511.2 420.2h0M561.9 429.3h0M451.2 496.1h0M589.9 289.0h0M457.4 443.4h0M188.6 551.7h0M566.7 428.6h0M588.5 383.6h0M280.5 521.2h0M226.6 544.3h0M343.2 493.6h0M322.7 505.2h0M348.3 501.3h0M314.8 523.8h0M415.9 442.1h0M441.2 493.7h0M503.4 488.2h0M505.0 405.1h0M450.6 507.4h0M531.6 363.7h0M418.8 399.9h0M589.4 364.9h0M486.0 422.4h0M559.1 446.4h0M366.7 508.1h0M483.1 429.8h0M371.7 444.0h0M493.2 426.8h0M549.3 426.1h0M251.4 526.1h0M440.9 488.2h0M379.6 464.2h0M556.0 459.3h0M198.3 545.6h0M397.6 503.6h0M479.9 420.3h0M423.6 427.5h0M458.6 409.6h0M276.9 525.3h0M506.9 479.8h0M393.9 491.8h0M559.5 308.0h0M180.1 554.0h0M561.6 365.0h0M499.2 457.4h0M551.2 430.6h0M481.2 397.5h0M360.0 523.9h0M488.6 473.0h0M494.7 483.3h0M574.2 322.1h0M231.3 540.6h0M555.5 462.4h0M269.6 539.8h0M557.1 354.7h0M358.2 523.2h0M576.4 299.4h0M442.7 491.6h0M591.4 292.3h0M445.6 496.2h0M582.1 321.7h0M376.7 462.7h0M426.3 428.5h0M550.8 408.5h0M342.4 498.6h0M564.0 340.7h0M328.5 492.1h0M569.6 463.5h0M538.3 425.1h0M453.4 468.4h0M456.4 362.3h0M484.5 408.2h0M550.9 408.9h0M557.4 412.5h0M564.3 336.6h0M575.5 322.8h0M503.4 399.6h0M568.6 332.3h0M193.5 547.8h0M336.5 489.1h0M269.6 540.8h0M411.5 480.3h0M458.0 485.0h0M490.4 480.5h0M366.8 468.0h0M317.9 527.3h0M454.3 518.9h0M566.4 392.6h0M542.0 398.7h0M408.0 434.7h0M413.3 404.8h0M515.7 339.8h0M556.6 455.8h0M468.4 393.8h0M397.6 499.8h0M487.2 458.1h0M487.3 452.6h0M559.2 473.4h0M435.9 435.0h0M253.8 529.6h0M554.6 409.7h0M586.3 303.6h0M271.4 538.1h0M564.4 404.9h0M586.4 310.9h0M512.9 469.3h0M401.5 514.8h0M449.4 503.9h0M502.4 426.4h0M307.3 521.3h0M448.2 517.9h0M359.8 500.6h0M262.4 535.0h0M409.1 501.5h0M456.9 486.8h0M574.7 374.6h0M571.5 298.1h0M584.9 307.1h0M499.0 482.7h0M574.2 387.0h0M209.3 544.1h0M313.8 528.3h0M287.5 503.1h0M503.1 500.4h0M555.5 413.6h0M561.0 378.6h0M318.6 516.8h0M361.8 527.4h0M503.5 404.6h0M526.5 354.4h0M500.5 501.5h0M397.7 490.0h0M576.4 387.1h0M360.4 524.7h0M363.4 475.3h0M304.2 521.1h0M449.8 418.6h0M562.5 429.5h0M571.4 299.8h0M387.6 477.9h0M266.6 537.7h0M538.3 430.3h0M588.2 295.1h0M587.8 347.2h0M439.0 467.8h0M390.5 476.2h0M561.5 458.7h0M228.8 544.8h0M576.1 294.1h0M418.4 419.5h0M405.8 440.4h0M403.8 483.8h0M390.8 492.1h0M275.9 528.3h0M505.7 442.7h0M447.0 502.2h0M573.4 290.9h0M279.1 523.2h0M349.3 513.3h0M433.8 451.3h0M439.7 472.5h0M451.7 516.8h0M356.5 519.5h0M475.3 379.7h0M569.8 466.3h0M240.6 531.1h0M288.0 504.2h0M589.9 295.6h0M572.1 265.5h0M383.9 462.0h0M469.1 372.6h0M492.9 468.9h0M562.3 268.7h0M571.5 292.7h0M268.6 540.7h0M328.3 482.7h0M224.9 544.8h0M461.1 382.6h0M475.6 375.7h0M558.9 455.6h0M273.5 534.8h0M559.7 459.4h0M411.0 496.9h0M259.5 532.7h0M583.4 359.1h0M482.0 449.7h0M406.8 492.7h0M538.0 433.9h0M468.2 388.4h0M472.3 374.8h0M338.6 491.7h0M573.1 439.7h0M272.1 538.1h0M563.9 381.9h0M445.2 479.2h0M560.0 457.6h0M561.7 469.7h0M408.6 461.1h0M558.4 491.7h0M368.7 498.3h0M219.8 549.7h0M216.9 549.8h0M409.4 460.2h0M469.5 356.8h0M454.9 482.8h0M472.1 402.6h0M532.8 367.4h0M553.8 463.4h0M390.3 492.9h0M491.1 447.8h0M379.6 457.1h0M388.9 479.3h0M571.4 437.5h0M294.3 506.4h0M453.5 530.9h0M565.9 470.8h0M564.7 322.5h0M578.5 301.2h0M274.1 532.8h0M576.3 283.2h0M223.6 548.9h0M446.0 514.8h0M452.2 508.7h0M450.8 423.5h0M562.6 378.8h0M569.0 472.8h0M493.0 482.5h0M559.0 464.3h0M566.0 290.7h0M515.6 326.7h0M491.3 432.4h0M587.2 332.2h0M535.5 362.8h0M546.4 388.7h0M578.3 342.6h0M556.2 426.4h0M543.4 378.5h0M573.3 386.8h0M590.1 344.8h0M344.6 494.2h0M568.7 278.5h0M569.9 267.3h0M559.0 445.5h0M469.8 391.2h0M279.9 515.0h0M539.4 431.2h0M302.8 517.5h0M336.0 486.7h0M553.6 477.3h0M560.9 436.2h0M454.3 481.7h0M308.6 524.5h0M573.1 252.9h0M372.2 449.6h0M430.4 453.5h0M444.7 483.3h0M567.1 453.2h0M299.4 516.2h0M587.1 282.3h0M505.7 498.6h0M563.7 349.4h0M539.2 434.4h0M576.6 327.1h0M403.1 482.3h0M567.3 468.2h0M566.3 246.6h0M422.9 396.5h0M576.1 322.7h0M225.8 546.0h0M455.8 498.5h0M404.9 508.9h0M451.2 501.8h0M324.2 505.7h0M266.5 537.8h0M455.4 499.2h0M403.4 497.1h0M332.5 484.3h0M511.7 439.0h0M360.7 510.1h0M511.8 319.4h0M337.2 476.2h0M477.3 392.9h0M207.3 547.7h0M503.5 441.8h0M559.1 443.2h0M526.3 380.7h0M438.4 447.1h0M569.4 451.9h0M442.9 469.9h0M367.1 486.3h0M406.8 462.7h0M362.8 505.4h0M580.1 290.9h0M512.9 381.7h0M305.4 521.7h0M512.8 305.9h0M282.4 510.9h0M585.3 296.1h0M573.3 285.3h0M501.8 344.7h0M574.9 296.5h0M558.6 459.7h0M495.7 461.8h0M186.5 552.4h0M505.7 479.9h0M512.6 328.1h0M449.6 497.1h0M504.1 408.6h0M537.4 376.0h0M371.8 448.0h0M360.9 487.9h0M315.6 528.1h0M354.2 510.3h0M464.7 391.0h0M451.8 505.8h0M570.4 276.2h0M363.4 501.0h0M526.0 388.5h0M516.0 397.7h0M386.2 473.2h0M569.0 446.8h0M349.5 507.1h0M449.3 497.8h0M559.3 473.6h0M456.4 515.1h0M406.5 495.9h0M453.1 431.8h0M316.4 522.4h0M501.4 382.0h0M318.9 512.9h0M350.6 516.2h0M562.0 388.5h0M459.6 354.9h0M213.3 548.9h0M559.3 451.3h0M571.4 285.5h0M563.8 304.7h0M560.4 466.6h0M489.8 476.0h0M499.5 480.0h0M553.7 475.8h0M222.2 550.2h0M576.3 277.5h0M561.8 315.4h0M508.5 491.1h0M583.3 355.3h0M220.2 549.3h0M463.8 434.3h0M437.5 497.5h0M414.2 458.1h0M564.2 427.5h0M360.1 493.7h0M433.4 469.6h0M566.2 255.4h0M566.7 290.7h0M478.0 391.5h0M576.2 328.1h0M267.7 539.8h0M559.6 451.9h0M542.3 435.1h0M345.3 492.3h0M556.2 438.7h0M445.6 476.7h0M361.4 478.8h0M547.4 425.4h0M356.6 519.9h0M481.8 406.1h0M317.6 523.8h0M511.5 413.2h0M440.1 489.2h0M532.7 377.2h0M507.5 465.2h0M584.7 296.1h0M303.0 510.4h0M566.2 433.0h0M425.3 444.6h0M430.7 454.3h0M426.0 434.4h0M490.6 450.9h0M450.1 466.1h0M493.6 451.8h0M505.7 334.3h0M498.1 456.0h0M445.7 504.7h0M441.9 484.3h0M531.5 412.3h0M439.1 486.4h0M536.1 427.7h0M462.1 416.9h0M513.6 422.2h0M453.8 516.2h0M477.7 429.3h0M546.9 435.1h0M498.8 486.4h0M406.1 494.4h0M572.0 314.9h0M318.3 517.0h0M392.6 479.7h0M338.6 484.6h0M426.0 412.7h0M590.1 316.8h0M358.9 515.8h0M433.7 442.8h0M508.0 398.6h0M554.5 465.8h0M504.4 394.5h0M448.3 432.6h0M495.1 488.9h0M490.7 474.3h0M280.1 522.2h0M397.9 497.5h0M557.0 430.7h0M474.8 413.3h0M514.7 443.2h0M452.2 514.8h0M581.3 313.8h0M574.6 368.7h0M369.9 478.1h0M562.7 452.0h0M182.7 553.2h0M504.8 489.7h0M329.6 478.0h0M395.6 496.6h0M526.4 386.4h0M411.2 481.0h0M268.7 542.7h0M450.8 487.5h0M229.0 544.8h0M452.1 464.9h0M396.6 498.5h0M323.4 509.0h0M411.2 406.3h0M572.4 309.5h0M572.4 236.8h0M431.0 445.2h0M510.4 466.0h0M249.3 525.5h0M585.1 285.5h0M383.8 443.9h0M562.0 423.2h0M562.3 468.6h0M428.6 422.4h0M503.3 482.6h0M566.2 432.0h0M542.3 417.4h0M433.7 431.9h0M424.4 398.7h0M459.9 337.0h0M555.6 442.6h0M340.7 494.6h0M415.9 452.4h0M490.6 416.6h0M568.2 427.6h0M483.2 432.6h0M417.1 409.1h0M491.8 451.7h0M369.7 450.1h0M260.4 535.7h0M582.3 295.7h0M589.3 338.9h0M217.5 550.1h0M442.3 466.4h0M455.6 330.8h0M454.4 404.1h0M504.3 388.5h0M497.3 478.0h0M564.8 471.1h0M564.8 283.3h0M448.5 498.5h0M411.9 487.5h0M486.3 468.3h0M535.9 375.5h0M408.5 418.8h0M506.8 359.1h0M524.9 357.7h0M479.2 378.5h0M410.9 446.0h0M406.3 510.6h0M395.1 502.6h0M326.7 479.2h0M549.1 440.8h0M539.2 419.2h0M567.5 463.9h0M228.3 544.2h0M583.9 323.2h0M502.6 493.0h0M505.9 377.9h0M485.1 444.6h0M426.7 436.3h0M407.8 483.1h0M459.1 398.9h0M568.4 456.5h0M590.5 353.8h0M561.8 388.8h0M486.1 447.5h0M319.3 513.4h0M218.5 551.1h0M514.6 423.8h0M258.5 531.7h0M574.6 346.3h0M406.1 469.7h0M557.3 423.3h0M526.7 370.4h0M454.5 497.4h0M561.3 319.5h0M461.5 405.0h0M275.0 528.6h0M274.1 536.6h0M586.4 340.0h0M426.9 423.3h0M451.3 460.6h0M584.4 329.3h0M519.7 371.5h0M410.9 479.8h0M556.6 442.4h0M533.1 368.6h0M561.5 408.9h0M576.4 332.9h0M447.6 481.4h0M509.5 441.5h0M346.1 492.6h0M407.4 439.1h0M468.3 358.7h0M514.9 397.2h0M461.8 377.4h0M564.0 474.2h0M562.3 414.9h0M524.4 389.3h0M393.1 493.7h0M407.3 420.9h0M564.5 418.9h0M487.8 480.5h0M195.3 547.9h0M501.4 348.0h0M567.5 417.1h0M370.0 457.5h0M547.5 402.2h0M559.4 447.1h0M330.9 473.1h0M570.7 307.2h0M557.9 465.8h0M567.8 270.3h0M508.3 312.8h0M481.4 424.6h0M504.1 441.7h0M507.3 424.3h0M490.5 409.2h0M571.4 355.1h0M460.0 486.8h0M495.3 476.8h0M550.2 425.1h0M582.6 245.8h0M467.0 363.8h0M439.8 481.3h0M536.1 366.3h0M495.7 486.1h0M512.0 402.6h0M558.4 471.6h0M470.5 407.9h0M430.8 451.3h0M405.7 499.9h0M265.2 537.2h0M549.8 426.2h0M563.3 468.8h0M375.4 449.5h0M461.8 375.0h0M355.9 518.8h0M544.7 446.7h0M477.1 428.4h0M582.7 324.6h0M316.9 523.3h0M424.6 402.5h0M405.2 456.1h0M584.5 334.4h0M543.4 401.2h0M437.6 459.4h0M468.7 382.8h0M496.3 481.4h0M504.9 371.6h0M509.3 317.1h0M570.3 357.5h0M547.0 399.9h0M338.5 494.9h0M513.8 352.7h0M509.9 504.6h0M560.7 301.5h0M389.0 480.4h0M432.0 461.1h0M505.4 436.7h0M555.5 453.2h0M458.5 514.1h0M581.2 347.7h0M469.9 370.2h0M462.3 358.9h0M360.6 516.3h0M559.5 466.8h0M395.4 510.0h0M386.7 482.5h0M229.0 541.4h0M501.3 502.2h0M450.4 512.0h0M361.6 500.5h0M564.4 430.9h0M449.4 503.3h0M241.5 526.8h0M351.4 513.5h0M490.0 423.2h0M403.8 502.3h0M562.7 461.1h0M557.9 429.3h0M222.1 549.3h0M504.6 491.6h0M568.3 273.1h0M583.7 279.4h0M477.8 426.5h0M578.4 308.4h0M573.0 413.5h0M501.1 484.8h0M499.4 463.2h0M572.5 273.2h0M490.1 454.8h0M446.2 513.5h0M232.4 536.6h0M576.8 289.8h0M477.2 367.7h0M576.1 264.6h0M210.2 547.9h0M559.1 424.2h0M197.1 545.7h0M506.1 468.0h0M459.6 376.3h0M454.8 463.4h0M400.2 508.0h0M561.0 406.0h0M322.1 519.0h0M493.0 458.5h0M576.4 347.5h0M347.0 498.8h0M191.2 551.1h0M433.0 466.8h0M403.1 507.8h0M489.9 423.1h0M556.4 461.3h0M457.4 324.8h0M563.6 408.6h0M236.5 531.2h0M547.0 431.1h0M579.7 330.2h0M590.9 311.0h0M509.8 342.8h0M582.9 309.8h0M180.4 553.8h0M281.9 521.2h0M375.5 451.7h0M538.6 405.1h0M427.2 442.9h0M218.2 547.4h0M571.1 297.8h0M466.1 357.5h0M424.0 419.4h0M491.5 445.5h0M559.3 467.6h0M260.5 535.7h0M441.0 472.7h0M453.6 409.8h0M297.4 509.3h0M459.1 358.2h0M258.0 533.6h0M405.9 497.4h0M508.1 497.6h0M324.9 493.2h0M571.6 421.9h0M359.4 516.8h0M433.2 430.7h0M525.2 353.3h0M305.4 512.3h0M567.3 413.2h0M414.2 452.2h0M568.3 275.1h0M382.1 471.4h0M452.1 485.3h0M577.5 415.1h0M587.1 355.4h0M428.5 415.2h0M525.4 356.2h0M458.8 469.0h0M574.8 269.2h0M565.0 305.6h0M558.7 434.9h0M392.6 486.0h0M412.3 396.8h0M451.3 523.5h0M499.1 464.3h0M568.7 468.8h0M502.4 379.2h0M470.4 361.3h0M531.9 354.0h0M460.2 340.5h0M505.3 497.4h0M536.9 424.7h0M226.0 546.4h0M502.8 411.5h0M501.1 488.8h0M296.8 505.9h0M236.8 532.5h0M508.8 315.5h0M213.2 547.1h0M449.3 509.0h0M562.7 306.8h0M430.3 439.2h0M570.2 332.8h0M511.9 461.5h0M463.9 343.4h0M457.6 477.7h0M209.3 547.3h0M322.8 510.8h0M475.7 411.3h0M511.7 314.5h0M433.6 479.5h0M424.7 433.5h0M285.9 511.4h0M512.8 374.8h0M578.5 308.3h0M550.8 435.7h0M448.2 507.7h0M507.5 393.8h0M484.5 435.0h0M499.8 495.9h0M478.8 420.2h0M464.7 347.4h0M342.3 487.2h0M416.1 395.4h0M230.8 538.6h0M549.6 440.0h0M458.5 447.8h0M508.0 427.5h0M539.7 390.2h0M573.5 403.4h0M449.7 423.4h0M502.0 500.0h0M489.9 413.0h0M428.2 446.9h0M281.9 513.9h0M506.2 493.2h0M409.4 427.1h0M441.1 478.0h0M221.7 547.5h0M568.2 276.5h0M435.0 472.1h0M551.0 459.3h0M340.0 488.7h0M318.5 508.5h0M409.7 488.2h0M524.8 393.2h0M506.7 356.9h0M256.3 530.3h0M476.9 378.6h0M507.4 495.8h0M556.4 470.2h0M363.5 504.7h0M359.6 520.8h0M535.9 395.1h0M576.2 274.4h0M444.1 495.0h0M316.4 529.8h0M522.8 343.5h0M561.6 438.1h0M453.2 362.1h0M525.0 363.4h0M257.6 531.3h0M554.9 410.5h0M559.2 451.0h0M183.1 554.0h0M394.6 475.8h0M455.0 457.2h0M264.9 532.9h0M508.6 505.2h0M533.2 379.1h0M454.9 403.7h0M571.4 401.0h0M555.2 448.0h0M437.3 458.4h0M503.0 363.7h0M547.2 404.2h0M460.3 373.6h0M450.0 434.6h0M535.4 356.7h0M546.0 415.5h0M514.5 314.2h0M404.9 457.9h0M544.7 419.1h0M396.4 499.5h0M529.0 383.8h0M457.2 482.4h0M506.4 309.6h0M495.1 471.8h0M300.2 516.8h0M451.0 521.7h0M569.5 340.0h0M363.0 468.0h0M561.6 457.0h0M414.1 481.7h0M455.7 503.3h0M404.0 493.7h0M238.7 529.2h0M456.1 502.8h0M532.0 414.4h0M383.4 468.3h0M519.5 331.9h0M407.5 478.5h0M585.4 280.4h0M579.3 281.1h0M371.2 452.3h0M555.4 446.1h0M500.9 467.7h0M487.3 429.1h0M453.5 511.9h0M316.7 525.3h0M366.3 480.9h0M364.4 480.9h0M541.1 406.8h0M559.9 359.0h0M545.0 417.7h0M332.3 478.0h0M412.5 452.5h0M454.5 442.5h0M405.9 447.7h0M504.7 426.2h0M349.3 507.3h0M361.5 511.7h0M450.7 374.6h0M477.4 436.8h0M566.6 330.9h0M454.3 420.3h0M322.8 512.3h0M477.0 398.1h0M569.3 387.7h0M391.4 487.7h0M476.4 421.8h0M477.9 433.4h0M453.0 479.1h0M498.6 499.4h0M457.0 341.2h0M430.0 469.3h0M215.0 547.5h0M306.9 523.2h0M572.4 258.5h0M557.6 352.9h0M492.5 444.3h0M400.8 496.4h0M556.0 352.2h0M324.2 489.5h0M541.3 443.8h0M576.4 340.9h0M335.1 481.4h0M426.8 417.3h0M286.2 503.5h0M208.7 547.1h0M537.5 411.4h0M457.9 440.2h0M460.1 370.8h0M235.9 537.1h0M410.4 422.8h0M515.8 393.1h0M441.5 496.5h0M538.1 408.1h0M499.4 482.5h0M513.8 316.3h0M576.6 318.9h0M571.8 255.5h0M507.5 408.8h0M446.4 486.9h0M563.7 454.3h0M497.8 479.3h0M450.7 439.0h0M405.6 457.2h0M563.5 338.1h0M476.3 415.3h0M415.1 424.2h0M283.9 510.1h0M248.6 527.2h0M270.7 539.9h0M528.9 380.1h0M499.3 466.3h0M497.5 462.5h0M513.5 366.3h0M332.9 476.9h0M344.7 493.8h0M575.1 295.0h0M449.4 457.9h0M330.6 485.8h0M573.2 281.9h0M495.9 450.1h0M293.6 507.4h0M506.5 382.5h0M277.2 519.6h0M362.2 516.5h0M412.3 441.4h0M404.9 444.2h0M585.2 354.1h0M494.1 445.9h0M325.9 496.0h0M318.0 521.2h0M514.8 354.8h0M360.1 515.6h0M504.7 498.7h0M490.4 469.6h0M553.3 425.3h0M509.7 496.6h0M387.7 467.7h0M344.6 505.4h0M452.5 515.5h0M450.4 506.1h0M585.4 346.4h0M420.6 424.9h0M407.3 507.9h0M445.4 499.7h0M405.2 489.4h0M280.5 517.1h0M591.4 380.0h0M566.6 285.4h0M401.0 501.6h0M427.1 437.8h0M548.7 457.6h0M480.9 444.6h0M507.9 423.6h0M500.9 495.0h0M553.0 415.9h0M511.9 466.0h0M438.3 491.3h0M586.4 278.2h0M404.6 498.7h0M510.1 459.8h0M555.5 347.0h0M462.6 395.3h0M308.6 517.0h0M482.0 461.1h0M521.4 355.2h0M473.9 416.2h0M562.5 454.2h0M504.9 388.5h0M500.2 467.4h0M351.7 510.0h0M458.6 338.7h0M566.9 353.0h0M543.7 390.0h0M565.0 469.5h0M318.0 508.2h0M410.4 461.9h0M325.4 502.7h0M564.5 445.5h0M474.1 388.5h0M458.9 467.2h0M459.3 350.1h0M407.4 455.3h0M432.6 430.5h0M252.9 529.8h0M563.0 311.7h0M431.6 433.1h0M521.4 343.5h0M290.1 507.1h0M440.9 489.0h0M430.4 436.6h0M551.2 427.6h0M460.1 340.8h0M434.0 458.7h0M565.1 343.2h0M486.0 403.7h0M405.0 498.3h0M439.9 469.3h0M365.6 478.3h0M582.0 341.9h0M576.8 302.8h0M457.9 484.8h0M372.4 442.0h0M501.5 484.7h0M458.1 487.9h0M443.2 485.6h0M408.1 492.3h0M447.7 505.3h0M477.1 364.6h0M560.5 308.5h0M501.5 491.1h0M445.8 511.0h0M419.5 402.5h0M503.7 425.8h0M427.5 410.2h0M252.8 526.8h0M561.4 462.9h0M442.4 470.2h0M186.2 551.9h0M453.0 383.8h0M558.8 467.5h0M443.5 485.5h0M563.8 311.0h0M444.1 492.8h0M319.4 523.3h0M453.1 519.7h0M477.4 387.3h0M453.4 490.4h0M209.6 548.0h0M559.2 297.8h0M238.7 528.0h0M543.6 446.0h0M504.2 496.8h0M568.4 465.6h0M438.0 446.9h0M258.0 534.1h0M525.0 346.3h0M486.5 459.2h0M563.3 418.5h0M533.0 347.0h0M488.5 424.3h0M409.3 432.7h0M505.3 483.2h0M271.0 540.5h0M336.1 481.2h0M508.9 469.5h0M560.8 339.9h0M504.7 496.2h0M470.5 369.4h0M540.7 439.4h0M496.0 472.9h0M556.7 440.9h0M452.3 426.0h0M398.6 513.5h0M512.7 421.7h0M588.4 286.0h0M522.0 365.9h0M500.0 458.2h0M539.4 401.8h0M561.8 393.7h0M540.2 392.3h0M576.0 292.7h0M474.1 410.8h0M558.0 470.0h0M496.7 475.3h0M584.7 336.7h0M461.4 449.6h0M556.4 435.8h0M508.0 339.2h0M458.1 513.8h0M164.9 558.0h0M548.1 448.9h0M355.2 515.7h0M291.9 506.3h0M498.8 498.8h0M461.9 474.6h0M427.9 446.0h0M550.3 430.6h0M451.6 508.3h0M590.6 374.8h0M489.7 476.1h0M390.6 473.9h0M579.1 327.5h0M458.7 400.1h0M480.1 430.4h0M578.4 351.5h0M459.5 349.8h0M363.6 514.3h0M578.9 279.0h0M444.5 463.1h0M449.4 504.2h0M321.7 519.6h0M506.1 354.5h0M460.8 458.0h0M417.3 393.2h0M506.7 444.1h0M479.5 427.9h0M557.8 369.9h0M455.1 507.2h0M457.7 347.0h0M444.3 499.1h0M365.8 502.1h0M572.7 250.8h0M570.7 262.1h0M567.1 256.3h0M588.2 368.1h0M441.7 504.8h0M415.9 440.6h0M188.1 551.9h0M580.0 314.9h0M272.0 536.2h0M324.3 498.6h0M555.9 386.6h0M581.9 294.9h0M452.8 383.9h0M457.8 485.4h0M234.0 535.6h0M562.1 472.2h0M319.7 520.2h0M497.4 478.4h0M414.1 415.5h0M567.5 484.2h0M493.7 482.0h0M573.1 299.7h0M437.1 487.0h0M464.5 416.2h0M347.3 505.9h0M569.8 324.2h0M461.7 335.7h0M433.1 468.2h0M362.4 521.5h0M502.2 490.4h0M345.8 497.4h0M273.6 536.1h0M319.5 516.7h0M246.3 524.9h0M426.9 454.9h0M214.4 547.7h0M499.6 501.9h0M542.8 408.4h0M574.7 384.8h0M456.2 476.7h0M476.9 432.0h0M529.3 409.1h0M275.9 524.7h0M520.9 351.2h0M366.8 470.8h0M514.1 343.0h0M545.0 444.6h0M513.4 324.5h0M425.8 413.4h0M363.6 507.1h0M536.5 359.3h0M560.0 376.8h0M367.0 487.5h0M510.3 319.3h0M567.1 318.8h0M240.8 528.8h0M429.0 449.9h0M429.9 435.7h0M405.9 497.5h0M525.5 374.6h0M171.3 557.0h0M501.3 493.2h0M504.0 497.7h0M448.6 456.3h0M562.1 302.4h0M565.5 443.8h0M440.7 480.2h0M570.9 436.2h0M565.3 484.1h0M577.9 317.9h0M573.6 323.3h0M437.4 477.9h0M315.8 523.9h0M514.6 410.1h0M551.7 456.8h0M480.2 389.4h0M513.2 436.5h0M502.7 422.9h0M402.5 511.8h0M295.2 508.2h0M458.7 429.2h0M578.7 293.3h0M455.4 439.9h0M553.8 452.2h0M407.8 508.5h0M418.6 425.1h0M486.9 465.3h0M461.7 341.0h0M411.1 464.6h0M559.2 446.5h0M505.0 498.3h0M573.8 421.9h0M567.5 472.1h0M540.6 441.6h0M558.4 456.0h0M349.7 505.7h0M414.8 462.6h0M471.0 406.8h0M581.1 249.5h0M413.3 409.6h0M538.7 435.4h0M307.5 518.8h0M483.0 446.3h0M486.5 437.7h0M579.5 311.6h0M545.1 393.0h0M492.9 446.1h0M568.0 415.3h0M402.3 496.4h0M205.0 544.9h0M443.0 475.1h0M508.1 406.6h0M205.9 546.0h0M278.0 519.9h0M278.6 525.1h0M536.8 430.4h0M544.8 453.0h0M546.7 399.7h0M570.6 312.6h0M579.3 283.5h0M567.0 353.0h0M231.3 541.2h0M366.9 469.3h0M573.6 336.7h0M449.6 504.7h0M407.9 479.2h0M366.7 466.0h0M324.5 485.1h0M510.2 362.9h0M501.8 484.7h0M456.2 515.1h0M428.2 421.6h0M461.4 354.4h0M450.7 379.6h0M582.2 274.2h0M226.8 545.9h0M262.2 536.0h0M476.3 437.8h0M560.5 434.4h0M433.4 434.7h0M509.9 456.6h0M505.0 452.1h0M565.0 416.4h0M313.8 527.6h0M582.2 324.0h0M499.0 379.5h0M502.0 457.5h0M452.9 420.8h0M273.6 535.3h0M409.9 486.2h0M308.8 519.4h0M304.6 515.1h0M556.7 360.5h0M267.3 537.4h0M530.1 375.1h0M403.8 492.4h0M574.6 288.5h0M506.3 356.8h0M501.0 409.0h0M513.3 464.4h0M587.5 306.6h0M424.2 406.6h0M372.8 455.5h0M557.2 458.3h0M538.6 418.1h0M406.2 493.9h0M487.4 456.6h0M395.9 495.1h0M556.3 450.6h0M500.8 424.4h0M509.1 485.2h0M561.0 462.3h0M572.0 430.1h0M502.9 489.2h0M575.8 359.5h0M298.7 513.6h0M359.8 513.1h0M492.9 445.2h0M461.5 447.2h0M527.3 355.6h0M201.3 543.6h0M406.8 472.9h0M461.5 462.3h0M503.9 487.6h0M239.9 528.9h0M453.1 353.2h0M561.1 314.9h0M356.3 514.8h0M553.1 441.1h0M402.5 509.1h0M321.4 521.9h0M568.5 390.0h0M325.8 484.6h0M309.7 524.6h0M539.1 377.1h0M505.7 494.5h0M568.8 359.3h0M360.9 515.0h0M536.3 377.6h0M280.6 524.5h0M363.9 503.7h0M539.8 409.4h0M276.3 533.6h0M557.6 472.6h0M249.9 525.1h0M508.9 456.6h0M542.0 404.5h0M507.8 325.2h0M361.3 513.4h0M253.6 528.2h0M570.3 274.6h0M518.5 352.7h0M480.5 433.2h0M492.9 487.4h0M451.9 509.0h0M366.6 472.0h0M393.4 487.0h0M556.2 409.4h0M575.0 256.6h0M286.1 504.7h0M360.3 522.7h0M449.8 444.8h0M573.9 396.5h0M433.3 455.5h0M463.5 346.1h0M319.3 510.0h0M439.4 460.6h0M500.8 418.1h0M548.3 409.3h0M266.1 539.1h0M566.6 456.8h0M505.5 466.0h0M473.7 402.5h0M424.2 403.8h0M281.1 512.9h0M558.5 454.1h0M275.8 531.7h0M561.7 357.1h0M402.3 478.1h0M576.7 313.0h0M588.1 360.4h0M558.6 468.9h0M569.9 444.8h0M490.5 450.4h0M561.2 391.7h0M552.1 440.9h0M448.4 475.2h0M512.7 448.4h0M372.4 447.7h0M439.7 489.5h0M527.4 336.8h0M510.8 338.0h0M294.2 514.6h0M580.7 341.0h0M499.0 416.5h0M380.4 462.2h0M480.0 433.5h0M363.1 479.5h0M477.8 398.3h0M212.3 549.5h0M322.4 502.9h0M409.0 499.3h0M404.0 497.0h0M565.4 396.4h0M557.9 457.0h0M510.7 455.5h0M428.4 457.4h0M563.1 472.0h0M418.4 405.2h0M460.8 408.6h0M492.8 435.9h0M488.9 427.8h0M484.0 414.9h0M491.1 444.6h0M585.0 264.5h0M568.3 312.3h0M259.2 532.4h0M482.5 430.2h0M403.8 506.2h0M555.2 450.2h0M363.2 483.6h0M491.9 470.0h0M574.2 278.1h0M564.8 456.8h0M563.0 425.7h0M530.7 382.8h0M571.2 442.7h0M328.7 485.9h0M504.6 490.8h0M563.1 269.6h0M531.2 390.8h0M215.6 549.5h0M433.9 451.3h0M583.6 341.1h0M490.1 462.6h0M475.7 418.8h0M535.0 393.0h0M458.4 423.4h0M500.8 503.2h0M542.5 387.8h0M529.1 382.3h0M406.1 473.1h0M280.8 521.1h0M320.1 518.4h0M403.9 453.0h0M459.0 476.1h0M474.7 393.2h0M538.1 425.3h0M260.4 534.6h0M435.5 432.5h0M450.1 510.6h0M561.4 330.9h0M433.6 453.7h0M332.5 478.2h0M288.6 506.9h0M239.0 529.8h0M496.0 468.0h0M573.6 323.1h0M557.4 433.7h0M320.2 509.3h0M472.3 410.1h0M431.3 482.3h0M347.6 501.5h0M393.7 484.0h0M460.0 380.5h0M432.9 433.0h0M438.3 464.8h0M402.5 518.0h0M453.6 467.2h0M415.1 452.6h0M568.2 445.5h0M504.9 484.7h0M504.2 320.5h0M579.2 360.4h0M561.2 366.0h0M452.3 420.4h0M316.3 520.5h0M506.2 369.0h0M452.4 432.7h0M446.0 513.3h0M438.5 457.2h0M573.5 444.0h0M563.0 463.4h0M402.7 506.7h0M554.0 456.2h0M348.7 508.0h0M505.5 420.7h0M522.8 372.8h0M432.2 452.7h0M365.7 496.5h0M444.0 485.3h0M559.5 461.3h0M446.3 513.7h0M574.6 274.0h0M526.0 386.1h0M475.3 417.0h0M458.0 360.9h0M581.2 335.3h0M381.8 459.2h0M408.7 510.6h0M583.5 346.2h0M585.3 340.6h0M556.9 316.0h0M321.8 513.9h0M458.1 442.4h0M572.8 270.7h0M343.8 495.1h0M403.8 496.7h0M562.8 280.3h0M452.0 517.0h0M484.1 399.7h0M232.6 537.8h0M555.4 348.2h0M559.5 453.1h0M472.0 364.5h0M412.4 489.9h0M407.8 507.5h0M389.9 493.8h0M564.1 411.2h0M560.2 424.3h0M568.2 449.5h0M453.2 514.2h0M564.2 404.1h0M333.5 484.3h0M564.6 454.7h0M433.7 462.8h0M232.3 541.2h0M572.2 364.7h0M282.3 508.5h0M462.5 395.9h0M546.7 416.1h0M419.9 410.3h0M560.2 442.3h0M198.1 547.3h0M269.5 541.6h0M412.3 482.8h0M450.0 495.1h0M451.8 457.3h0M498.7 352.9h0M452.4 490.7h0M346.5 500.2h0M316.8 526.8h0M554.0 450.9h0M513.6 415.0h0M412.4 405.8h0M511.2 410.7h0M502.7 481.0h0M481.0 397.5h0M404.6 489.8h0M453.4 434.6h0M526.0 395.1h0M567.4 407.8h0M472.0 366.7h0M361.0 503.3h0M449.7 508.6h0M319.9 524.5h0M450.0 507.9h0M180.8 554.6h0M407.2 493.6h0M485.3 428.0h0M496.7 447.1h0M568.9 286.3h0M510.4 431.8h0M449.4 526.2h0M404.0 477.3h0M555.5 428.8h0M572.0 270.1h0M495.2 490.5h0M196.9 546.6h0M216.4 548.1h0M564.4 464.6h0M499.3 463.6h0M235.2 535.1h0M580.8 287.6h0M505.0 493.6h0M558.7 369.9h0M515.2 325.3h0M447.2 490.1h0M478.6 389.7h0M548.3 446.7h0M358.6 514.7h0M316.2 523.6h0M362.5 511.4h0M575.7 333.6h0M463.3 408.5h0M367.0 462.4h0M559.0 443.4h0M585.8 308.4h0M569.0 309.9h0M557.8 447.0h0M504.8 486.9h0M410.3 457.9h0M538.2 362.1h0M475.2 409.6h0M451.4 501.4h0M384.5 476.4h0M244.8 526.1h0M576.7 392.6h0M577.6 344.1h0M313.8 522.3h0M567.2 336.8h0M561.8 465.0h0M452.2 420.2h0M407.3 502.0h0M573.6 260.3h0M367.4 507.3h0M509.4 361.9h0M405.3 491.0h0M494.0 466.6h0M476.5 374.9h0M500.3 496.0h0M262.5 537.6h0M299.4 515.0h0M405.5 439.0h0M571.6 306.7h0M499.8 396.0h0M511.6 324.3h0M503.3 464.7h0M329.7 475.2h0M363.0 516.6h0M575.2 411.9h0M506.7 397.4h0M566.1 269.1h0M395.0 495.9h0M372.6 457.2h0M460.0 476.6h0M566.4 440.1h0M371.0 474.6h0M319.7 512.7h0M328.4 477.4h0M386.2 484.4h0M383.6 466.8h0M416.7 410.2h0M489.0 458.2h0M330.4 480.4h0M554.2 449.5h0M366.0 444.9h0M467.0 357.9h0M572.5 263.5h0M270.8 540.3h0M508.1 430.4h0M171.7 555.5h0M283.9 507.4h0M307.2 519.1h0M501.8 366.2h0M459.1 340.5h0M459.4 374.2h0M586.1 320.2h0M304.5 513.4h0M515.2 385.9h0M556.5 473.8h0M568.0 249.3h0M410.7 443.4h0M498.5 493.6h0M453.0 519.7h0M449.3 508.4h0M435.9 480.4h0M503.5 464.1h0M282.2 520.3h0M279.4 517.7h0M422.0 413.3h0M229.4 542.0h0M572.5 378.1h0M404.8 444.9h0M271.7 535.5h0M482.6 435.1h0M514.2 455.8h0M443.6 483.4h0M449.1 431.2h0M510.0 425.4h0M425.2 435.1h0M457.9 406.1h0M409.3 438.0h0M508.5 341.6h0M409.6 490.2h0M516.8 332.9h0M512.0 406.1h0M493.3 433.8h0M577.5 371.9h0M559.9 464.3h0M506.9 403.1h0M532.3 359.7h0M507.9 430.0h0M475.0 397.1h0M546.5 442.7h0M526.4 352.6h0M558.9 413.9h0M271.8 540.4h0M432.8 428.3h0M326.3 479.7h0M389.6 484.7h0M500.0 473.2h0M396.8 497.0h0M581.1 323.7h0M493.7 513.1h0M499.3 469.2h0M539.5 434.2h0M440.8 488.4h0M539.4 408.0h0M569.7 421.0h0M574.2 416.4h0M445.4 487.3h0M390.0 490.2h0M547.0 403.2h0M528.3 349.2h0M452.1 482.2h0M363.6 506.4h0M569.4 278.1h0M409.0 505.2h0M367.8 445.3h0M308.2 518.8h0M558.3 454.6h0M501.8 423.9h0M499.7 489.1h0M477.5 377.2h0M531.0 395.5h0M388.6 474.4h0M381.3 462.1h0M510.1 455.6h0M555.9 469.1h0M519.9 359.2h0M566.7 458.0h0M270.0 539.8h0M414.3 436.5h0M340.7 494.4h0M449.5 467.3h0M364.4 468.9h0M579.4 253.4h0M564.6 425.6h0M456.0 418.4h0M500.9 476.2h0M561.8 473.7h0M531.5 396.7h0M554.8 449.6h0M557.6 376.0h0M275.8 535.3h0M245.1 526.6h0M511.4 483.4h0M318.7 518.7h0M403.1 509.8h0M545.3 443.1h0M588.3 327.0h0M378.1 443.5h0M460.7 483.5h0M469.3 387.4h0M498.1 478.6h0M267.6 540.5h0M526.6 368.6h0M476.6 390.0h0M408.7 404.4h0M320.9 507.8h0M292.4 504.3h0M354.2 505.0h0M343.8 494.6h0M328.5 486.4h0M407.2 497.0h0M581.5 310.2h0M446.4 488.0h0M559.6 338.7h0M333.5 481.8h0M419.9 392.8h0M489.3 431.0h0M243.9 527.5h0M572.7 329.8h0M561.0 420.6h0M408.1 436.9h0M308.8 523.9h0M570.7 442.7h0M496.7 490.9h0M420.0 406.8h0M568.3 447.4h0M567.5 334.5h0M307.7 525.0h0M548.0 439.2h0M228.2 544.1h0M402.1 504.6h0M443.4 497.7h0M222.5 547.8h0M362.6 518.3h0M354.7 516.4h0M485.2 455.5h0M500.1 429.9h0M546.3 458.9h0M312.0 527.6h0M490.8 444.5h0M205.7 545.9h0M480.0 382.5h0M567.2 356.8h0M480.7 448.3h0M556.4 305.5h0M559.9 369.7h0M423.3 422.2h0M367.6 507.7h0M369.6 447.8h0M320.8 518.8h0M312.4 526.4h0M319.8 509.7h0M551.3 423.5h0M222.0 548.3h0M565.2 453.5h0M237.2 532.1h0M562.5 402.5h0M525.9 368.3h0M488.6 476.5h0M570.2 257.1h0M499.9 458.1h0M452.6 490.9h0M569.9 342.0h0M265.7 539.0h0M461.7 363.5h0M242.0 530.7h0M391.4 482.9h0M405.7 477.2h0M218.5 549.1h0M556.8 390.7h0M511.2 322.2h0M585.6 296.9h0M563.9 481.2h0M343.1 495.0h0M455.5 386.5h0M544.7 381.4h0M560.0 465.5h0M517.1 374.5h0M531.4 378.1h0M579.9 334.4h0M434.8 444.5h0M587.4 310.1h0M237.7 532.7h0M504.0 435.2h0M563.1 411.1h0M567.0 433.8h0M456.7 463.6h0M531.0 382.1h0M513.2 384.2h0M374.3 452.5h0M568.6 429.8h0M575.3 350.2h0M559.0 376.0h0M586.3 305.8h0M527.2 360.8h0M460.3 416.8h0M408.0 477.4h0M389.6 466.3h0M365.3 489.6h0M456.2 338.5h0M556.4 324.4h0M314.0 520.6h0M488.8 469.3h0M404.5 480.5h0M580.6 281.8h0M415.8 421.2h0M560.8 351.7h0M589.7 376.0h0M560.7 404.2h0M389.0 479.3h0M566.8 415.5h0M560.7 437.9h0M566.2 397.9h0M451.2 390.8h0M459.4 462.9h0M574.8 286.8h0M589.0 304.0h0M292.2 508.7h0M486.9 454.9h0M501.9 470.2h0M387.2 468.9h0M445.2 499.3h0M489.8 420.7h0M477.1 431.6h0M461.5 422.2h0M335.2 475.6h0M382.4 459.3h0M501.4 489.2h0M558.8 290.0h0M454.5 503.0h0M455.8 337.7h0M456.4 397.6h0M566.2 321.8h0M559.0 469.3h0M561.3 310.7h0M559.6 458.8h0M399.2 502.8h0M508.0 442.0h0M386.2 461.6h0M541.1 431.1h0M503.5 493.0h0M556.9 442.0h0M563.7 417.2h0M561.0 344.4h0M582.5 273.3h0M412.8 473.4h0M325.0 482.0h0M486.3 456.2h0M187.8 551.1h0M554.8 408.5h0M426.1 440.2h0M512.4 349.8h0M551.6 434.5h0M318.5 512.3h0M363.6 506.4h0M353.4 513.0h0M283.7 516.3h0M572.9 267.5h0M458.8 370.4h0M563.0 340.7h0M438.4 489.8h0M530.3 398.5h0M518.7 351.7h0M329.3 481.3h0M514.5 399.2h0M559.3 391.7h0M589.9 375.6h0M576.4 363.1h0M434.4 431.6h0M554.8 456.4h0M499.9 482.6h0M221.3 550.6h0M561.9 452.2h0M391.3 487.4h0M391.7 481.9h0M493.5 494.1h0M561.0 454.0h0M461.8 335.3h0M552.8 430.9h0M348.1 506.1h0M512.6 468.1h0M484.0 444.3h0M560.3 401.5h0M326.4 481.8h0M273.0 535.2h0M306.2 519.8h0M401.4 503.8h0M499.9 445.9h0M573.3 269.8h0M569.7 357.5h0M512.9 315.5h0M527.4 344.4h0M510.0 353.2h0M457.5 331.4h0M462.2 364.1h0M424.0 412.5h0M537.6 375.2h0M585.2 324.5h0M455.5 469.4h0M463.2 361.8h0M482.3 398.6h0M569.1 451.9h0M513.4 322.4h0M377.5 459.1h0M339.3 496.4h0M514.1 346.1h0M271.8 534.3h0M558.3 413.7h0M480.7 449.9h0M514.1 471.3h0M557.0 470.7h0M217.2 549.6h0M445.3 472.9h0M569.3 293.1h0M535.5 419.6h0M268.5 543.3h0M461.6 449.8h0M453.5 498.1h0M560.8 468.4h0M279.4 516.9h0M425.0 417.4h0M345.3 499.3h0M513.6 350.7h0M586.9 339.5h0M479.2 416.5h0M431.9 465.9h0M506.4 349.6h0M272.5 535.4h0M561.8 395.3h0M430.3 436.3h0M362.9 490.9h0M583.9 363.6h0M493.6 472.5h0M588.9 351.0h0M561.0 441.5h0M490.9 477.7h0M532.2 418.3h0M569.3 445.9h0M387.9 481.9h0M370.0 465.6h0M458.3 431.5h0M507.3 426.4h0M492.1 447.9h0M326.7 493.9h0M515.6 311.6h0M487.7 430.1h0M451.2 514.6h0M569.8 412.2h0M589.9 296.6h0M534.0 412.6h0M562.8 348.8h0M580.9 267.1h0M586.6 282.7h0M426.3 438.3h0M504.5 455.4h0M462.9 435.1h0M439.0 458.1h0M529.8 354.7h0M564.6 245.8h0M403.6 505.1h0M272.9 533.4h0M575.2 354.3h0M488.9 443.2h0M504.8 500.7h0M375.7 458.3h0M564.8 460.5h0M412.8 411.3h0M452.6 512.4h0M481.1 446.9h0M570.8 389.4h0M268.0 536.0h0M418.1 411.9h0M556.8 311.3h0M526.6 355.6h0M555.8 458.4h0M431.3 423.7h0M215.8 550.3h0M563.9 278.5h0M553.7 444.5h0M240.1 528.5h0M573.8 289.4h0M457.6 347.0h0M505.7 475.3h0M320.2 522.8h0M580.6 281.5h0M442.1 482.8h0M327.4 484.5h0M556.3 467.1h0M233.0 539.1h0M495.7 437.1h0M457.0 467.6h0M497.0 501.8h0M575.1 254.7h0M558.3 463.9h0M325.3 506.8h0M454.5 509.2h0M452.7 456.2h0M275.6 525.5h0M403.7 483.3h0M434.9 467.9h0M361.6 511.0h0M552.2 427.0h0M576.5 262.1h0M500.6 493.4h0M449.6 506.2h0M500.3 477.5h0M456.7 513.3h0M337.4 483.9h0M392.9 503.9h0M367.3 475.6h0M587.1 334.0h0M502.5 485.9h0M458.4 335.5h0M485.2 443.6h0M413.7 471.5h0M271.0 541.8h0M417.3 435.8h0M539.1 427.0h0M431.1 458.9h0M502.0 493.2h0M499.3 452.7h0M452.3 502.4h0M481.9 424.3h0M523.8 339.1h0M457.3 484.9h0M570.4 460.0h0M272.8 530.9h0M529.6 378.2h0M429.3 424.8h0M414.3 487.9h0M437.0 451.3h0M428.5 445.0h0M490.5 422.1h0M567.2 443.3h0M454.6 417.2h0M396.1 488.3h0M570.7 264.2h0M478.6 390.8h0M565.9 256.5h0M501.8 501.9h0M545.0 434.8h0M448.8 507.3h0M457.3 510.1h0M502.4 500.1h0M579.3 253.9h0M501.3 481.0h0M497.6 471.0h0M569.2 436.2h0M244.7 523.6h0M566.5 401.7h0M551.8 446.5h0M570.6 296.9h0M263.8 536.0h0M304.3 520.1h0M282.7 512.1h0M358.3 514.7h0M552.7 473.0h0M255.0 528.9h0M452.8 374.7h0M315.6 516.6h0M517.5 337.9h0M544.1 453.1h0M276.3 527.7h0M588.3 310.8h0M310.9 522.1h0M405.1 477.2h0M555.2 463.2h0M406.2 467.4h0M450.0 495.0h0M465.2 383.3h0M453.8 504.9h0M568.8 391.7h0M412.2 481.1h0M509.2 309.5h0M387.5 486.6h0M383.7 461.1h0M550.8 421.2h0M567.0 309.5h0M455.0 520.2h0M416.1 466.0h0M420.2 420.1h0M561.3 387.2h0M535.2 368.6h0M344.4 491.6h0M571.0 440.2h0M512.3 455.6h0M478.7 437.7h0M577.2 372.1h0M406.9 434.3h0M371.7 441.8h0M512.9 347.7h0M511.2 453.7h0M444.7 511.9h0M591.5 344.7h0M457.8 455.4h0M311.3 527.0h0M565.9 472.0h0M541.8 384.4h0M323.4 485.5h0M511.0 311.1h0M561.0 324.6h0M318.0 515.0h0M427.4 418.5h0M220.2 550.6h0M432.5 434.1h0M342.9 504.6h0M562.9 357.2h0M266.8 535.9h0M323.2 500.3h0M503.3 384.2h0M538.0 425.7h0M556.8 476.7h0M316.1 524.9h0M330.2 473.6h0M536.3 372.2h0M415.3 429.3h0M557.6 468.3h0M365.4 515.2h0M365.6 511.9h0M426.0 414.0h0M524.8 349.4h0M403.1 515.7h0M558.7 476.8h0M275.6 529.8h0M561.4 315.1h0M568.1 412.1h0M503.0 489.6h0M470.9 357.6h0M362.9 504.1h0M536.5 423.4h0M463.0 422.5h0M526.4 338.6h0M488.4 458.5h0M511.4 471.0h0M459.4 347.1h0M495.8 472.8h0M361.4 517.5h0M497.4 416.9h0M257.0 535.3h0M421.2 402.0h0M486.3 449.1h0M404.1 499.5h0M561.0 474.6h0M452.8 502.9h0M221.9 548.2h0M364.2 515.4h0M487.1 417.4h0M575.0 305.7h0M578.7 269.7h0M544.7 450.5h0M337.7 487.2h0M559.5 461.2h0M365.3 480.5h0M544.5 435.4h0M304.9 519.7h0M378.8 458.5h0M400.8 495.3h0M406.7 454.8h0M448.0 482.3h0M563.0 298.2h0M573.6 283.8h0M478.8 385.5h0M489.3 474.6h0M503.9 344.4h0M271.9 538.4h0M489.1 476.9h0M216.7 550.3h0M412.5 402.8h0M527.0 355.9h0M553.5 420.5h0M570.4 452.9h0M217.1 550.4h0M421.8 406.7h0M492.1 478.7h0M175.1 555.6h0M395.7 497.2h0M580.9 329.0h0M463.3 348.8h0M450.2 469.6h0M457.2 377.8h0M480.2 386.3h0M573.5 272.3h0M406.2 502.9h0M193.4 548.9h0M506.5 388.4h0M449.7 493.2h0M586.6 354.3h0M575.2 367.3h0M569.8 387.3h0M363.9 508.5h0M468.6 393.6h0M326.1 492.3h0M504.0 404.6h0M584.0 300.9h0M513.6 325.3h0M263.0 536.9h0M494.5 458.6h0M447.4 508.3h0M504.6 380.9h0M363.7 470.7h0M517.8 321.9h0M310.7 524.7h0M511.5 442.1h0M518.4 330.1h0M511.8 379.7h0M463.9 369.8h0M466.4 348.7h0M540.9 436.9h0M451.9 509.7h0M510.2 472.5h0M497.9 492.0h0M391.2 475.6h0M544.4 394.6h0M411.2 400.9h0M450.0 513.0h0M567.3 269.6h0M591.1 349.2h0M272.6 540.3h0M456.9 503.2h0M507.9 479.4h0M506.3 451.4h0M402.9 494.1h0M561.1 475.2h0M582.1 330.0h0M509.1 417.8h0M422.9 431.4h0M422.1 420.1h0M417.1 404.9h0M402.7 508.8h0M456.1 368.2h0M187.8 551.0h0M408.9 435.6h0M508.3 476.8h0M588.1 267.0h0M283.5 509.2h0M576.5 254.0h0M318.7 500.6h0M266.2 540.2h0M438.7 482.0h0M443.7 511.2h0M405.9 509.7h0M452.6 520.0h0M224.4 549.9h0M575.8 403.2h0M455.5 453.2h0M512.2 320.6h0M363.8 518.1h0M413.5 397.3h0M504.1 321.4h0M370.8 456.2h0M212.6 547.3h0M457.1 395.2h0M274.5 530.7h0M563.6 424.8h0M273.0 532.8h0M515.3 427.0h0M308.2 521.2h0M565.2 260.4h0M572.3 256.4h0M563.0 475.2h0M455.4 368.0h0M562.1 263.1h0M396.3 502.0h0M443.6 482.6h0M590.1 364.0h0M426.0 448.8h0M413.7 398.1h0M412.1 466.4h0M424.4 429.8h0M348.2 498.6h0M506.6 455.2h0M405.2 506.2h0M483.7 400.7h0M478.0 429.2h0M579.7 291.3h0M569.7 264.9h0M475.4 389.8h0M366.2 484.4h0M461.8 348.7h0M431.9 474.6h0M539.5 415.3h0M479.4 383.1h0M569.4 419.2h0M508.9 473.4h0M457.0 386.5h0M454.1 502.0h0M452.2 523.8h0M258.7 533.5h0M558.3 331.9h0M571.3 368.9h0M488.2 457.1h0M547.6 429.4h0M512.8 320.5h0M428.4 420.2h0M484.9 416.1h0M511.9 315.9h0M494.5 479.2h0M569.2 280.7h0M565.2 263.7h0M426.5 434.5h0M558.8 456.5h0M412.1 402.5h0M585.4 279.5h0M429.3 426.1h0M380.2 456.4h0M534.6 366.7h0M491.8 443.6h0M360.1 528.7h0M467.9 382.4h0M412.6 486.7h0M482.2 445.6h0M560.6 393.7h0M458.6 457.3h0M497.7 476.8h0M570.6 371.7h0M544.1 432.0h0M458.8 424.3h0M362.4 486.2h0M285.2 510.1h0M492.9 475.1h0M585.3 347.8h0M574.3 286.9h0M568.3 466.6h0M572.7 261.4h0M446.5 505.0h0M560.5 293.9h0M318.2 528.1h0M498.6 494.0h0M404.4 486.6h0M320.8 524.4h0M305.5 516.0h0M534.1 382.9h0M314.7 524.6h0M562.3 279.7h0M466.9 383.5h0M405.7 510.3h0M476.4 437.7h0M575.7 291.4h0M575.8 365.9h0M457.0 502.4h0M485.8 433.0h0M590.5 374.9h0M322.3 489.7h0M425.8 451.2h0M502.4 495.3h0M570.5 387.5h0M571.5 459.6h0M451.2 411.7h0M473.7 424.5h0M554.4 446.3h0M532.6 418.8h0M506.2 511.6h0M456.9 506.5h0M495.8 449.7h0M509.2 458.3h0M274.0 528.7h0M503.4 479.0h0M323.6 512.4h0M516.8 348.0h0M418.2 424.2h0M492.3 444.2h0M405.0 478.1h0M448.7 494.9h0M513.3 323.0h0M479.6 407.4h0M570.6 244.0h0M457.7 505.7h0M458.6 378.9h0M569.7 376.0h0M454.0 515.1h0M354.0 514.2h0M264.8 538.6h0M560.2 321.4h0M407.1 497.4h0M336.2 482.9h0M576.0 394.0h0M504.8 424.6h0M480.1 435.5h0M557.3 453.7h0M487.6 438.3h0M563.0 359.7h0M374.0 443.9h0M297.1 510.8h0M562.0 271.3h0M404.2 506.0h0M500.2 473.8h0M530.3 391.1h0M421.2 414.7h0M560.6 391.3h0M568.3 466.0h0M567.4 454.2h0M463.1 429.0h0M214.4 550.5h0M583.8 361.4h0M310.7 521.3h0M287.4 507.2h0M411.9 439.4h0M585.4 336.8h0M444.4 502.7h0M504.6 384.3h0M580.4 319.2h0M509.5 344.1h0M562.2 416.1h0M512.4 425.1h0M558.7 435.3h0M257.8 533.8h0M367.1 471.3h0M345.6 501.8h0M564.8 347.5h0M257.8 530.5h0M405.9 491.7h0M492.9 458.8h0M223.9 549.3h0M335.8 496.3h0M315.4 518.8h0M288.0 504.1h0M564.3 400.7h0M557.3 450.2h0M316.5 524.2h0M346.5 497.9h0M430.0 437.4h0M530.9 378.2h0M467.7 366.5h0M438.3 461.9h0M551.8 454.3h0M408.1 433.3h0M416.3 403.3h0M573.1 232.7h0M529.9 354.7h0M411.7 408.2h0M387.2 475.0h0M528.8 354.0h0M463.4 437.3h0M479.5 377.9h0M329.2 479.9h0M346.9 501.5h0M453.7 485.3h0M452.4 514.3h0M322.1 509.5h0M589.7 310.0h0M199.4 545.5h0M583.1 272.8h0M363.7 513.7h0M486.7 443.2h0M404.3 501.7h0M561.5 404.3h0M454.4 380.2h0M364.8 467.1h0M406.4 473.8h0M560.2 343.5h0M451.2 490.7h0M556.1 344.5h0M440.9 477.9h0M367.5 455.5h0M188.7 551.2h0M584.2 333.1h0M505.7 386.5h0M346.3 503.4h0M440.8 495.7h0M449.6 506.3h0M558.7 405.7h0M577.3 408.4h0M551.4 452.8h0M444.9 490.7h0M561.5 320.7h0M508.0 450.1h0M424.4 430.0h0M560.7 474.3h0M228.0 543.7h0M560.7 455.8h0M575.8 243.0h0M468.1 362.3h0M487.8 460.9h0M450.7 398.8h0M406.0 499.8h0M574.6 317.1h0M411.0 407.1h0M574.3 294.3h0M467.5 368.3h0M486.9 448.1h0M510.2 406.2h0M573.0 314.6h0M433.1 448.4h0M502.6 472.8h0M453.1 485.6h0M435.1 444.3h0M570.1 404.5h0M510.1 476.5h0M413.0 455.7h0M402.4 511.2h0M443.8 481.6h0M315.8 526.6h0M409.1 480.5h0M346.3 501.9h0" stroke="#555" stroke-opacity="0.2" stroke-width="0.7" stroke-linecap="round" fill="none"/>
<path d="M512.9 299.2h0M565.7 467.0h0M475.9 413.6h0M386.8 476.0h0M359.6 522.2h0M565.3 290.1h0M567.1 264.4h0M534.7 400.7h0M360.5 520.6h0M498.2 377.1h0M433.8 438.8h0M490.9 441.2h0M568.0 473.8h0M454.7 511.5h0M368.9 501.5h0M503.5 495.9h0M575.1 416.8h0M445.5 488.5h0M589.0 333.0h0M360.9 506.7h0M501.5 506.6h0M565.1 366.9h0M572.4 316.1h0M328.9 479.8h0M556.5 428.2h0M559.0 342.9h0M577.1 321.1h0M554.8 465.0h0M347.5 502.9h0M512.8 319.2h0M413.6 458.0h0M569.3 421.5h0M561.4 454.8h0M491.2 436.5h0M501.7 484.2h0M569.7 374.3h0M531.2 348.6h0M574.8 312.7h0M575.8 351.4h0M557.1 460.9h0M508.9 430.7h0M566.5 443.4h0M357.3 516.8h0M546.1 417.0h0M390.0 496.6h0M362.5 494.2h0M455.5 487.3h0M570.2 301.0h0M450.8 415.0h0M501.4 349.0h0M515.8 419.6h0M568.7 392.8h0M510.7 395.2h0M505.6 366.0h0M508.6 466.1h0M575.3 280.2h0M417.1 414.5h0M587.8 336.9h0M487.9 473.2h0M484.9 450.8h0M508.6 331.4h0M554.0 364.3h0M357.1 518.4h0M484.7 418.8h0M559.9 459.6h0M419.3 404.0h0M562.5 470.6h0M482.7 384.6h0M561.8 433.4h0M518.8 325.9h0M460.6 465.3h0M556.8 354.7h0M456.9 330.6h0M343.5 496.8h0M433.9 471.1h0M399.6 492.4h0M562.9 451.5h0M559.0 325.3h0M543.2 459.6h0M350.7 508.9h0M505.0 324.0h0M511.0 440.4h0M455.9 344.1h0M589.7 347.2h0M351.0 509.2h0M507.3 481.5h0M408.9 495.9h0M398.1 501.4h0M554.6 449.2h0M503.0 394.5h0M441.8 465.7h0M354.2 507.0h0M508.7 317.2h0M505.8 353.2h0M570.5 349.3h0M567.0 312.4h0M557.5 466.6h0M372.3 446.2h0M554.5 464.4h0M507.9 331.4h0M350.8 515.9h0M567.3 262.1h0M357.9 524.2h0M586.2 320.7h0M538.2 398.3h0M531.5 381.8h0M359.0 521.6h0M462.6 448.5h0M476.9 404.1h0M358.6 513.7h0M526.0 357.3h0M563.9 442.2h0M581.3 289.1h0M402.1 513.7h0M406.3 495.4h0M590.0 372.4h0M497.0 498.5h0M508.0 488.0h0M381.0 474.4h0M503.2 443.2h0M578.8 316.4h0M388.9 492.7h0M569.5 449.3h0M402.0 512.7h0M402.6 507.3h0M368.8 443.2h0M454.6 380.2h0M583.8 275.3h0M470.0 344.9h0M558.0 470.6h0M450.6 484.3h0M410.3 481.5h0M565.0 456.7h0M326.7 476.9h0M503.6 353.6h0M431.9 471.1h0M547.5 454.0h0M549.9 434.1h0M438.9 454.1h0M470.5 352.2h0M450.6 395.1h0M506.9 430.0h0M385.4 482.7h0M452.5 515.8h0M410.2 498.0h0M508.5 347.1h0M480.9 451.1h0M559.4 460.3h0M440.1 460.2h0M563.7 412.9h0M500.4 421.3h0M428.8 444.2h0M463.7 432.9h0M546.5 419.7h0M453.4 510.4h0M407.6 433.5h0M511.2 428.9h0M583.5 328.8h0M567.3 465.2h0M550.0 406.4h0M382.9 462.8h0M449.9 458.5h0M587.3 310.9h0M544.1 410.4h0M570.8 275.0h0M514.7 328.2h0M560.7 460.4h0M575.5 349.0h0M458.5 370.0h0M413.0 438.5h0M507.6 470.1h0M509.7 389.7h0M492.9 439.1h0M571.4 315.7h0M552.3 427.6h0M364.4 466.5h0M502.9 332.4h0M572.7 363.3h0M378.1 460.6h0M553.3 473.3h0M449.7 492.6h0M543.8 408.2h0M566.6 465.1h0M481.9 417.4h0M451.1 483.0h0M566.1 433.5h0M568.8 328.7h0M402.8 509.2h0M491.9 428.1h0M578.8 350.1h0M562.4 456.9h0M474.5 394.6h0M394.2 484.3h0M416.3 439.5h0M458.5 463.9h0M585.6 294.3h0M563.8 440.0h0M584.6 314.3h0M571.7 269.7h0M409.0 470.7h0M362.8 516.7h0M589.4 290.0h0M577.0 363.0h0M403.8 505.9h0M364.6 492.5h0M457.5 507.0h0M523.1 359.3h0M515.6 435.0h0M408.9 477.4h0M490.2 435.8h0M456.1 388.8h0M483.9 466.0h0M419.6 396.9h0M453.9 493.8h0M577.6 339.9h0M499.9 490.3h0M510.4 484.2h0M490.9 460.6h0M440.4 492.2h0M413.9 449.3h0M568.4 373.1h0M404.4 505.2h0M573.8 290.5h0M559.9 465.5h0M566.3 371.9h0M499.5 408.2h0M504.5 349.7h0M534.0 416.0h0M536.4 360.4h0M533.1 360.9h0M406.7 487.3h0M501.4 480.9h0M386.0 478.2h0M443.3 509.4h0M523.8 372.7h0M539.9 408.7h0M343.7 501.6h0M582.5 285.4h0M570.8 436.8h0M406.7 484.9h0M518.0 321.9h0M562.4 458.0h0M571.5 340.6h0M456.7 471.5h0M453.8 429.3h0M550.2 444.2h0M422.0 413.9h0M581.3 292.0h0M389.0 492.4h0M501.9 472.7h0M557.4 450.2h0M511.3 481.5h0M500.9 485.0h0M583.0 309.6h0M338.0 491.1h0M472.4 356.7h0M414.8 436.5h0M565.2 469.8h0M552.4 441.2h0M331.0 481.8h0M514.6 339.8h0M501.9 436.4h0M546.4 442.7h0M508.2 409.7h0M580.4 335.1h0M329.7 483.1h0M536.9 373.2h0M588.6 337.1h0M461.7 382.8h0M556.0 448.4h0M557.9 419.4h0M570.3 424.2h0M503.2 502.0h0M527.1 362.6h0M403.6 453.3h0M559.3 470.7h0M554.0 453.9h0M471.9 365.3h0M558.8 342.1h0M556.8 458.6h0M564.7 404.6h0M569.2 408.4h0M512.7 343.1h0M583.3 267.3h0M438.0 491.3h0M384.8 486.7h0M554.6 473.7h0M583.8 291.4h0M472.4 380.4h0M568.0 441.4h0M570.4 453.9h0M458.4 393.4h0M549.9 449.8h0M407.9 499.0h0M505.7 499.8h0M505.9 378.8h0M348.8 507.1h0M511.3 480.2h0M577.4 326.7h0M511.1 384.5h0M478.7 375.4h0M361.5 516.0h0M394.3 496.7h0M500.5 492.9h0M553.4 471.9h0M560.8 435.5h0M490.9 471.9h0M513.3 338.2h0M463.6 366.3h0M533.0 403.6h0M430.1 422.6h0M451.2 500.3h0M384.2 465.5h0M564.3 288.4h0M562.4 273.7h0M411.7 477.3h0M497.9 466.9h0M533.8 380.2h0M328.4 475.7h0M454.3 509.6h0M473.5 368.0h0M568.7 471.2h0M510.1 314.3h0M469.8 399.5h0M500.2 466.0h0M559.2 327.1h0M507.1 307.2h0M573.9 430.0h0M579.4 313.9h0M554.0 460.4h0M462.8 414.0h0M507.7 325.7h0M407.9 417.3h0M404.6 508.8h0M588.1 301.5h0M502.9 357.5h0M487.4 460.1h0M398.2 488.0h0M468.5 393.2h0M560.3 438.7h0M365.5 504.2h0M431.5 418.8h0M561.5 455.9h0M503.1 444.1h0M470.7 396.2h0M457.0 507.6h0M561.2 476.1h0M436.4 445.5h0M415.7 398.2h0M390.5 499.5h0M379.8 454.8h0M551.7 456.2h0M511.0 400.9h0M571.1 263.8h0M365.3 481.0h0M556.2 468.2h0M560.9 345.4h0M527.6 381.8h0M511.1 388.3h0M502.6 475.4h0M488.4 460.6h0M358.4 519.1h0M449.9 504.0h0M394.2 494.5h0M407.1 489.8h0M539.9 392.4h0M571.2 449.4h0M494.9 476.3h0M454.3 501.2h0M397.7 498.4h0M558.6 470.3h0M555.6 454.8h0M469.2 358.9h0M560.4 450.8h0M531.4 354.1h0M347.0 500.4h0M463.9 362.7h0M443.4 479.2h0M527.9 322.6h0M488.8 446.0h0M590.9 362.2h0M370.4 477.5h0M559.2 380.2h0M579.5 292.4h0M449.9 517.8h0M436.8 446.1h0M404.3 498.2h0M497.1 497.6h0M466.0 345.6h0M441.3 455.7h0M451.1 389.8h0M555.7 444.8h0M429.1 425.3h0M353.4 506.6h0M457.5 367.3h0M405.1 513.5h0M538.1 401.2h0M448.3 423.6h0M396.6 503.2h0M567.6 319.8h0M579.1 289.0h0M585.6 271.1h0M461.6 370.5h0M395.2 503.8h0M475.7 362.4h0M559.4 427.6h0M492.0 455.0h0M443.1 452.9h0M547.5 466.4h0M589.5 307.0h0M441.5 502.8h0M450.4 508.7h0M512.6 390.6h0M567.1 268.4h0M563.2 471.8h0M454.6 362.2h0M414.1 444.8h0M582.9 266.3h0M392.2 488.9h0M425.7 419.6h0M541.1 406.0h0M573.0 411.8h0M569.3 434.4h0M352.1 513.0h0M403.7 495.0h0M449.4 500.7h0M542.0 431.0h0M509.1 440.1h0M512.9 368.3h0M414.0 417.1h0M407.7 473.8h0M482.7 415.5h0M509.8 424.8h0M577.4 318.6h0M479.8 411.4h0M508.8 419.9h0M554.6 468.8h0M564.5 473.9h0M558.8 450.1h0M403.0 454.0h0M516.4 428.5h0M460.3 340.2h0M507.5 480.4h0M493.2 456.5h0M411.0 472.9h0M361.6 508.5h0M493.3 453.9h0M563.2 481.0h0M507.5 497.2h0M567.1 394.3h0M539.0 386.8h0M449.9 466.5h0M560.2 344.9h0M494.7 463.6h0M459.1 518.1h0M576.7 274.5h0M585.7 311.8h0M511.5 324.9h0M408.2 492.2h0M534.1 397.3h0M565.5 418.2h0M558.0 384.5h0M555.8 350.6h0M571.8 313.8h0M566.3 457.5h0M456.6 516.5h0M552.5 459.6h0M411.3 461.7h0M504.5 488.5h0M579.9 318.9h0M439.3 458.6h0M360.6 519.9h0M540.7 412.9h0M340.5 497.8h0M495.7 481.9h0M578.0 308.4h0M589.3 324.6h0M502.2 489.3h0M577.8 263.8h0M407.7 473.9h0M488.4 410.3h0M546.3 415.4h0M478.4 396.4h0M503.5 384.5h0M446.6 487.4h0M404.0 508.0h0M364.1 464.0h0M571.3 348.3h0M551.4 461.8h0M460.2 464.8h0M511.9 335.4h0M559.5 434.4h0M476.6 392.8h0M408.5 447.3h0M448.4 451.3h0M582.5 297.6h0M500.0 470.9h0M368.6 446.9h0M434.9 468.9h0" stroke="#333" stroke-opacity="0.42" stroke-width="0.8" stroke-linecap="round" fill="none"/>
<clipPath id="cl"><rect x="130.5" y="167.5" width="468.0" height="413"/></clipPath>
<g clip-path="url(#cl)" fill="none" stroke-width="1.25">
<line x1="147.2" y1="565.2" x2="579.2" y2="446.7" stroke="#8ccbea" stroke-dasharray="6.3 5.1"/>
<line x1="147.2" y1="565.2" x2="578.7" y2="425.3" stroke="#7cc6a1"/>
<line x1="170" y1="586.2" x2="580.5" y2="325.5" stroke="#bd625f"/>
</g>
<text x="332.8" y="92" textLength="64.7" lengthAdjust="spacingAndGlyphs" font-size="14.4" fill="#444">Raw data</text>
<text x="308.1" y="110" textLength="113.7" lengthAdjust="spacingAndGlyphs" font-size="14.4" fill="#444">dashed = true y,</text>
<text x="313.6" y="128.3" textLength="103.3" lengthAdjust="spacingAndGlyphs" font-size="14.4" fill="#444">red = linear fit,</text>
<text x="281.5" y="146.1" textLength="166.9" lengthAdjust="spacingAndGlyphs" font-size="14.4" fill="#444">green = robust linear fit</text>
<text transform="translate(85.7 407.5) rotate(-90)" textLength="56" lengthAdjust="spacingAndGlyphs" font-size="15.3" fill="#444">y values</text>
<text x="324.7" y="633.6" textLength="56" lengthAdjust="spacingAndGlyphs" font-size="15.3" fill="#444">x values</text>
<line x1="679.5" x2="679.5" y1="190" y2="578" stroke="#e2e2e2"/>
<line x1="668.8" x2="679.5" y1="190.5" y2="190.5" stroke="#dadada"/>
<text transform="translate(662.9 192) rotate(-90)" text-anchor="middle" font-size="12.4" fill="#777">250</text>
<line x1="668.8" x2="679.5" y1="268.5" y2="268.5" stroke="#dadada"/>
<text transform="translate(662.9 268.9) rotate(-90)" text-anchor="middle" font-size="12.4" fill="#777">200</text>
<line x1="668.8" x2="679.5" y1="345.5" y2="345.5" stroke="#dadada"/>
<text transform="translate(662.9 345.5) rotate(-90)" text-anchor="middle" font-size="12.4" fill="#777">150</text>
<line x1="668.8" x2="679.5" y1="422.5" y2="422.5" stroke="#dadada"/>
<text transform="translate(662.9 422.7) rotate(-90)" text-anchor="middle" font-size="12.4" fill="#777">100</text>
<line x1="668.8" x2="679.5" y1="499.5" y2="499.5" stroke="#dadada"/>
<text transform="translate(662.9 498.5) rotate(-90)" text-anchor="middle" font-size="12.4" fill="#777">50</text>
<line x1="668.8" x2="679.5" y1="577.5" y2="577.5" stroke="#dadada"/>
<text transform="translate(662.9 578.5) rotate(-90)" text-anchor="middle" font-size="12.4" fill="#777">0</text>
<line x1="735" x2="1064" y1="592.5" y2="592.5" stroke="#e2e2e2"/>
<line x1="735.5" x2="735.5" y1="592.5" y2="602.5" stroke="#dadada"/>
<text x="731.5" y="619" textLength="6.5" lengthAdjust="spacingAndGlyphs" font-size="12.4" fill="#777">0</text>
<line x1="816.5" x2="816.5" y1="592.5" y2="602.5" stroke="#dadada"/>
<text x="802.2" y="619" textLength="26.8" lengthAdjust="spacingAndGlyphs" font-size="12.4" fill="#777">1000</text>
<line x1="898.5" x2="898.5" y1="592.5" y2="602.5" stroke="#dadada"/>
<text x="884.2" y="619" textLength="27.6" lengthAdjust="spacingAndGlyphs" font-size="12.4" fill="#777">2000</text>
<line x1="981.5" x2="981.5" y1="592.5" y2="602.5" stroke="#dadada"/>
<text x="968" y="619" textLength="24.8" lengthAdjust="spacingAndGlyphs" font-size="12.4" fill="#777">3000</text>
<line x1="1063.5" x2="1063.5" y1="592.5" y2="602.5" stroke="#dadada"/>
<text x="1049.8" y="619" textLength="25" lengthAdjust="spacingAndGlyphs" font-size="12.4" fill="#777">4000</text>
<g fill="#a9e4fb" stroke="#97d8f3" stroke-width="1">
<rect x="696" y="474.5" width="17.657" height="103.3"/>
<rect x="713.7" y="318.9" width="17.657" height="258.9"/>
<rect x="731.3" y="192.5" width="17.657" height="385.3"/>
<rect x="749" y="419.7" width="17.657" height="158.1"/>
<rect x="766.6" y="465.5" width="17.657" height="112.3"/>
<rect x="784.3" y="499.5" width="17.657" height="78.3"/>
<rect x="801.9" y="496" width="17.657" height="81.8"/>
<rect x="819.6" y="524.5" width="17.657" height="53.3"/>
<rect x="837.3" y="524.5" width="17.657" height="53.3"/>
<rect x="854.9" y="535" width="17.657" height="42.8"/>
<rect x="872.6" y="528" width="17.657" height="49.8"/>
<rect x="890.2" y="553" width="17.657" height="24.8"/>
<rect x="907.9" y="555.5" width="17.657" height="22.3"/>
<rect x="925.5" y="547.5" width="17.657" height="30.3"/>
<rect x="943.2" y="552.9" width="17.657" height="24.9"/>
<rect x="960.9" y="562.1" width="17.657" height="15.7"/>
<rect x="978.5" y="564.9" width="17.657" height="12.9"/>
<rect x="996.2" y="562.1" width="17.657" height="15.7"/>
<rect x="1013.8" y="569.9" width="17.657" height="7.9"/>
<rect x="1031.5" y="571.9" width="17.657" height="5.9"/>
<rect x="1049.1" y="572.5" width="17.657" height="5.3"/>
<rect x="1066.8" y="570.9" width="17.657" height="6.9"/>
<rect x="1084.5" y="573.9" width="17.657" height="3.9"/>
</g>
<line x1="696.0" x2="1131.4" y1="577.8" y2="577.8" stroke="#8fd0ee" stroke-width="1.4"/>
<polyline points="704.4 398.8 706.4 395.5 708.4 392.4 710.4 389.4 712.4 386.6 714.4 384.0 716.4 381.6 718.4 379.4 720.4 377.4 722.4 375.6 724.4 374.0 726.4 372.7 728.4 371.6 730.4 370.7 732.4 370.1 734.4 369.7 736.4 369.6 738.4 369.7 740.4 370.2 742.4 371.0 744.4 372.1 746.4 373.5 748.4 375.2 750.4 377.2 752.4 379.5 754.4 382.1 756.4 384.9 758.4 388.0 760.4 391.3 762.4 394.9 764.4 398.6 766.4 402.6 768.4 406.7 770.4 411.0 772.4 415.4 774.4 419.9 776.4 424.6 778.4 429.3 780.4 434.1 782.4 439.0 784.4 443.9 786.4 448.8 788.4 453.7 790.4 458.7 792.4 463.6 794.4 468.4 796.4 473.2 798.4 478.0 800.4 482.6 802.4 487.2 804.4 491.7 806.4 496.1 808.4 500.3 810.4 504.5 812.4 508.5 814.4 512.4 816.4 516.2 818.4 519.8 820.4 523.3 822.4 526.6 824.4 529.8 826.4 532.9 828.4 535.8 830.4 538.5 832.4 541.2 834.4 543.7 836.4 546.0 838.4 548.2 840.4 550.3 842.4 552.3 844.4 554.1 846.4 555.9 848.4 557.5 850.4 559.0 852.4 560.4 854.4 561.7 856.4 562.9 858.4 564.0 860.4 565.0 862.4 566.0 864.4 566.9 866.4 567.7 868.4 568.4 870.4 569.1 872.4 569.7 874.4 570.3 876.4 570.8 878.4 571.3 880.4 571.7 882.4 572.1 884.4 572.4 886.4 572.7 888.4 573.0 890.4 573.3 892.4 573.5 894.4 573.7 896.4 573.9 898.4 574.1 900.4 574.2 902.4 574.3 904.4 574.5 906.4 574.6 908.4 574.7 910.4 574.7 912.4 574.8 914.4 574.9 916.4 574.9 918.4 575.0 920.4 575.0 922.4 575.1 924.4 575.1 926.4 575.1 928.4 575.1 930.4 575.2 932.4 575.2 934.4 575.2 936.4 575.2 938.4 575.2 940.4 575.2 942.4 575.2 944.4 575.3 946.4 575.3 948.4 575.3 950.4 575.3 952.4 575.3 954.4 575.3 956.4 575.3 958.4 575.3 960.4 575.3 962.4 575.3 964.4 575.3 966.4 575.3 968.4 575.3 970.4 575.3 972.4 575.3 974.4 575.3 976.4 575.3 978.4 575.3 980.4 575.3 982.4 575.3 984.4 575.3 986.4 575.3 988.4 575.3 990.4 575.3 992.4 575.3 994.4 575.3 996.4 575.3 998.4 575.3 1000.4 575.3 1002.4 575.3 1004.4 575.3 1006.4 575.3 1008.4 575.3 1010.4 575.3 1012.4 575.3 1014.4 575.3 1016.4 575.3 1018.4 575.3 1020.4 575.3 1022.4 575.3 1024.4 575.3 1026.4 575.3 1028.4 575.3 1030.4 575.3 1032.4 575.3 1034.4 575.3 1036.4 575.3 1038.4 575.3 1040.4 575.3 1042.4 575.3 1044.4 575.3 1046.4 575.3 1048.4 575.3 1050.4 575.3 1052.4 575.3 1054.4 575.3 1056.4 575.3 1058.4 575.3 1060.4 575.3 1062.4 575.3 1064.4 575.3 1066.4 575.3 1068.4 575.3 1070.4 575.3 1072.4 575.3 1074.4 575.3 1076.4 575.3 1078.4 575.3 1080.4 575.3 1082.4 575.3 1084.4 575.3 1086.4 575.3 1088.4 575.3 1090.4 575.3 1092.4 575.3 1094.4 575.3 1096.4 575.3 1098.4 575.3 1100.4 575.3 1102.4 575.3 1104.4 575.3 1106.4 575.3 1108.4 575.3 1110.4 575.3 1112.4 575.3 1114.4 575.3 1116.4 575.3 1118.4 575.3 1120.4 575.3 1122.4 575.3" fill="none" stroke="#bd625f" stroke-width="1.35"/>
<text x="869.2" y="91.9" textLength="173.2" lengthAdjust="spacingAndGlyphs" font-size="14.4" fill="#444">Distribution of Residuals</text>
<text x="864.4" y="110" textLength="178" lengthAdjust="spacingAndGlyphs" font-size="14.4" fill="#444">from robust linear model</text>
<text x="843.2" y="128.3" textLength="220" lengthAdjust="spacingAndGlyphs" font-size="14.4" fill="#444">weights = 1 variance (residuals)</text>
<text transform="translate(638.2 419) rotate(-90)" textLength="85.3" lengthAdjust="spacingAndGlyphs" font-size="15.3" fill="#444">Count in bin</text>
<text x="870.3" y="645.5" textLength="109" lengthAdjust="spacingAndGlyphs" font-size="15.3" fill="#444">Residual values</text>
</svg>
</body></html>
